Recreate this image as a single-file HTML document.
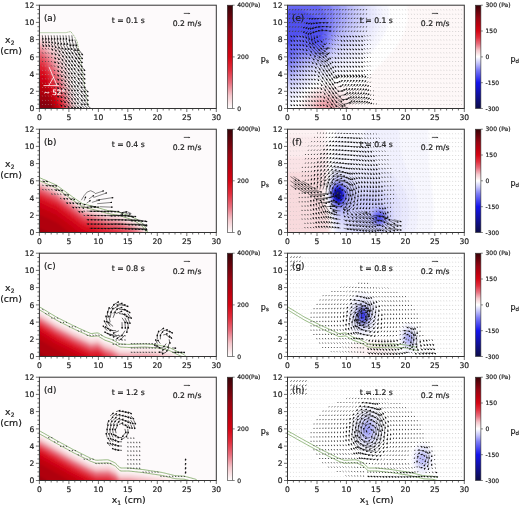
<!DOCTYPE html>
<html><head><meta charset="utf-8"><style>
html,body{margin:0;padding:0;background:#fff;}
svg{display:block;filter:blur(0.35px)}
text{font-family:'DejaVu Sans','Liberation Sans',sans-serif;fill:#1a1a1a;stroke:#1a1a1a;stroke-width:0.2px}
.tk{font-size:7.6px}
.pt{font-size:7.7px}
.cb{font-size:6px}
.al{font-size:9.4px}
.sub{font-size:6px}
.lt{font-size:8.8px}
.cl{font-size:8px}
.sub2{font-size:5.5px}
.wt{font-size:7.3px;fill:#fff;stroke:#fff;stroke-width:0.15px}
</style></head><body>
<svg width="520" height="508" viewBox="0 0 520 508">
<defs><linearGradient id="cbs" x1="0" y1="1" x2="0" y2="0"><stop offset="0" stop-color="#ffffff"/><stop offset="0.125" stop-color="#f5c8cd"/><stop offset="0.25" stop-color="#e86e7d"/><stop offset="0.375" stop-color="#e12d3c"/><stop offset="0.5" stop-color="#d40514"/><stop offset="0.625" stop-color="#b9000f"/><stop offset="0.75" stop-color="#960512"/><stop offset="0.875" stop-color="#69030c"/><stop offset="1" stop-color="#370408"/></linearGradient>
<linearGradient id="cbd" x1="0" y1="1" x2="0" y2="0"><stop offset="0" stop-color="#0c0c46"/><stop offset="0.25" stop-color="#1414eb"/><stop offset="0.375" stop-color="#7d7df5"/><stop offset="0.4375" stop-color="#c3c3fa"/><stop offset="0.5" stop-color="#ffffff"/><stop offset="0.5625" stop-color="#f5c8cd"/><stop offset="0.625" stop-color="#e86e7d"/><stop offset="0.6875" stop-color="#e12d3c"/><stop offset="0.75" stop-color="#d40514"/><stop offset="0.8125" stop-color="#b9000f"/><stop offset="0.875" stop-color="#960512"/><stop offset="0.9375" stop-color="#69030c"/><stop offset="1" stop-color="#370408"/></linearGradient>
<filter id="bl" x="-5%" y="-5%" width="110%" height="110%"><feGaussianBlur stdDeviation="1.3"/></filter>
<clipPath id="c00"><rect x="39.4" y="5.2" width="176.9" height="103.3"/></clipPath>
<clipPath id="c10"><rect x="287.5" y="5.2" width="176.8" height="103.3"/></clipPath>
<clipPath id="c01"><rect x="39.4" y="129.2" width="176.9" height="103.3"/></clipPath>
<clipPath id="c11"><rect x="287.5" y="129.2" width="176.8" height="103.3"/></clipPath>
<clipPath id="c02"><rect x="39.4" y="253.2" width="176.9" height="103.3"/></clipPath>
<clipPath id="c12"><rect x="287.5" y="253.2" width="176.8" height="103.3"/></clipPath>
<clipPath id="c03"><rect x="39.4" y="377.2" width="176.9" height="103.3"/></clipPath>
<clipPath id="c13"><rect x="287.5" y="377.2" width="176.8" height="103.3"/></clipPath></defs>
<g clip-path="url(#c00)"><rect x="39.4" y="5.2" width="176.9" height="103.3" fill="#fdfafb"/><g filter="url(#bl)"><path d="M30.6 121.4 78.9 121.4 78.9 108.5 75.3 91.7 69.7 62 67.2 51.7 65.1 45.5 63 41.4 58.9 38 56.2 36.6 52.7 35.4 42.9 33.9 30.6 33.7 30.6 121.4Z" fill="#fdf4f5" fill-rule="evenodd"/><path d="M30.6 121.4 77.3 121.4 77.3 108.5 68 67.2 65.2 56.9 63.3 52 59.7 45.6 56 41.4 49.1 38 39.4 35.7 30.6 35.7 30.6 121.4Z" fill="#fbe8ea" fill-rule="evenodd"/><path d="M30.6 121.4 75.7 121.4 75.7 108.5 66.4 71.1 61.7 56.9 57.3 49.1 52.7 44 48.2 41 39.4 38.1 30.6 38.1 30.6 121.4Z" fill="#f8dade" fill-rule="evenodd"/><path d="M30.6 121.4 74.2 121.4 74.2 108.5 65.9 77.5 63.2 68.5 60.2 60.7 56.2 53.3 51.7 47.8 48.8 45.2 45.6 43.1 39.4 40.4 30.6 40.4 30.6 121.4Z" fill="#f6cbd0" fill-rule="evenodd"/><path d="M30.6 121.4 72.6 121.4 72.6 108.5 64.4 80.1 59.4 65.9 55.3 57.7 50.9 51.7 45.6 46.9 39.4 43.2 30.6 43.2 30.6 121.4Z" fill="#f2b2b9" fill-rule="evenodd"/><path d="M30.6 121.4 71.1 121.4 71.1 108.5 63.3 82.9 58.5 69.8 54.4 61.5 50.5 55.6 44.7 49.7 39.4 46.3 30.6 46.3 30.6 121.4Z" fill="#ed929d" fill-rule="evenodd"/><path d="M30.6 121.4 69.2 121.4 69.2 108.5 62 86.5 58.7 77.5 54.4 68 50.2 60.7 45.6 55 40.3 50.6 30.6 50.6 30.6 121.4Z" fill="#e86e7d" fill-rule="evenodd"/><path d="M30.6 121.4 67.3 121.4 67.3 108.5 58.3 82.7 53.7 72.3 50 65.7 45.5 59.4 41.2 55.1 30.6 55.1 30.6 121.4Z" fill="#e55463" fill-rule="evenodd"/><path d="M30.6 121.4 65.6 121.4 65.6 108.5 58.5 89.1 54.4 79.3 50.2 71.1 46.1 64.6 42.1 59.7 30.6 59.7 30.6 121.4Z" fill="#e23a49" fill-rule="evenodd"/><path d="M30.6 121.4 63.9 121.4 63.9 108.5 58.6 94.3 53.1 81.4 48.2 72.2 42.9 64.4 30.6 64.3 30.6 121.4Z" fill="#de2332" fill-rule="evenodd"/><path d="M30.6 121.4 61.9 121.4 61.9 108.5 52.2 85.3 48.2 77.5 43.8 70.4 30.6 70.2 30.6 121.4Z" fill="#d70f1e" fill-rule="evenodd"/><path d="M30.6 121.4 59.9 121.4 59.9 108.5 51 87.8 44.7 76.3 30.6 76.2 30.6 121.4Z" fill="#cd0413" fill-rule="evenodd"/><path d="M30.6 121.4 58 121.4 58 108.5 51.8 94.3 45.6 82.3 30.6 82.2 30.6 121.4Z" fill="#c00110" fill-rule="evenodd"/><path d="M30.6 121.4 56.2 121.4 56.2 108.5 50.9 96.9 46.5 88.4 30.6 88.4 30.6 121.4Z" fill="#b00110" fill-rule="evenodd"/><path d="M30.6 121.4 54.4 121.4 54.4 108.5 48.9 96.9 47.4 94.6 30.6 94.6 30.6 121.4Z" fill="#9f0411" fill-rule="evenodd"/><path d="M30.6 121.4 52.6 121.4 52.6 108.5 49.1 101.4 48.2 100.9 30.6 100.9 30.6 121.4Z" fill="#880410" fill-rule="evenodd"/></g>
<path d="M39.4 32.7 65.9 32.7 70.7 31.5 73.6 35.3 77.1 41.4 80.1 56.9 82.7 74.9 85.4 91.3 88.3 106.8" stroke="#6a9a50" stroke-width="0.7" fill="none" stroke-dasharray="1.2 0.8"/>
<path d="M42.3 43.9l1.3 2.7M42.3 39.6l1.1 3.5M42.3 35.3l.6 4.3M45.3 43.9l1.3 2.7M45.3 39.6l1.1 3.5M45.3 35.3l.6 4.3M48.2 43.9l1.3 2.7M48.2 39.6l1.1 3.5M48.2 35.3l.6 4.3M51.2 52.5l1.3 1.8M51.2 48.2l1.6 2.2M51.2 43.9l1.6 3.2M51.2 39.6l1.2 3.8M51.2 35.3l.6 4.3M54.1 61.2l1.4 1.8M54.1 56.9l1.7 2.2M54.1 52.5l2 2.7M54.1 48.2l2.2 3.1M54.1 43.9l1.9 3.9M54.1 39.6l1.3 4.2M54.1 35.3l.6 4.3M57.1 95.6l1.5 1.6M57.1 91.3l1.5 1.7M57.1 87l1.6 1.8M57.1 82.7l1.6 1.9M57.1 78.4l1.7 2M57.1 74.1l1.7 2.1M57.1 69.8l1.7 2.2M57.1 65.5l1.8 2.2M57.1 61.2l2 2.6M57.1 56.9l2.3 3.1M57.1 52.5l2.6 3.5M57.1 48.2l2.9 4M57.1 43.9l2.2 4.5M57.1 39.6l1.4 4.6M57.1 35.3l.6 4.3M60 104.2l2 2.1M60 99.9l2.1 2.2M60 95.6l2.1 2.3M60 91.3l2.2 2.4M60 87l2.2 2.5M60 82.7l2.2 2.6M60 78.4l2.3 2.7M60 74.1l2.3 2.8M60 69.8l2.4 2.9M60 65.5l2.4 3M60 61.2l2.7 3.5M60 56.9l2.9 3.9M60 52.5l3.2 4.4M60 48.2l3.5 4.8M60 43.9l2.6 5.2M60 39.6l1.5 4.9M60 35.3l.6 4.3M63 104.2l2.6 2.7M63 99.9l2.7 2.9M63 95.6l2.7 3M63 91.3l2.8 3.1M63 87l2.8 3.2M63 82.7l2.9 3.3M63 78.4l2.9 3.4M63 74.1l2.9 3.6M63 69.8l3 3.7M63 65.5l3 3.8M63 61.2l3.3 4.3M63 56.9l3.6 4.7M63 52.5l3.9 5.2M63 48.2l4.1 5.7M63 43.9l2.8 5.7M63 39.6l1.6 5.1M63 35.3l.6 4.3M65.9 104.2l3.2 3.4M65.9 99.9l3.3 3.5M65.9 95.6l3.3 3.6M65.9 91.3l3.4 3.8M65.9 87l3.4 3.9M65.9 82.7l3.5 4M65.9 78.4l3.5 4.1M65.9 74.1l3.4 4.2M65.9 69.8l3.4 4.2M65.9 65.5l3.3 4.2M65.9 61.2l3.6 4.6M65.9 56.9l3.7 4.9M65.9 52.5l3.9 5.3M65.9 48.2l4.1 5.7M65.9 43.9l2.8 5.7M65.9 39.6l1.6 5.1M65.9 35.3l.6 4.3M68.9 104.2l3.7 3.9M68.9 99.9l3.7 4M68.9 95.6l3.6 4M68.9 91.3l3.6 4M68.9 87l3.6 4.1M68.9 82.7l3.5 4.1M68.9 78.4l3.5 4.1M68.9 74.1l3.4 4.2M68.9 69.8l3.4 4.2M68.9 65.5l3.3 4.2M68.9 61.2l3.6 4.6M68.9 56.9l3.7 4.9M68.9 52.5l3.9 5.3M68.9 48.2l4.1 5.7M68.9 43.9l2.8 5.7M68.9 39.6l2 6.5M68.9 35.3l.8 5.7M71.8 104.2l3.7 3.9M71.8 99.9l3.7 4M71.8 95.6l3.6 4M71.8 91.3l3.6 4M71.8 87l3.6 4.1M71.8 82.7l3.5 4.1M71.8 78.4l3.5 4.1M71.8 74.1l3.4 4.2M71.8 69.8l3.4 4.2M71.8 65.5l3.3 4.2M71.8 61.2l3.6 4.6M71.8 56.9l3.7 4.9M71.8 52.5l4.8 6.5M71.8 48.2l5 6.9M71.8 43.9l3.5 7.1M71.8 39.6l2 6.5M71.8 35.3l.8 5.7M74.8 104.2l3.7 3.9M74.8 99.9l3.7 4M74.8 95.6l3.6 4M74.8 91.3l3.6 4M74.8 87l3.6 4.1M74.8 82.7l3.5 4.1M74.8 78.4l4.4 5.3M74.8 74.1l4.4 5.3M74.8 69.8l4.3 5.4M74.8 65.5l4.3 5.4M74.8 61.2l4.5 5.8M74.8 56.9l4.7 6.1M74.8 52.5l4.8 6.5M74.8 48.2l5 6.9M74.8 43.9l3.5 7.1M74.8 39.6l2 6.5M77.7 104.2l3.7 3.9M77.7 99.9l4.7 5.1M77.7 95.6l4.6 5.1M77.7 91.3l4.6 5.1M77.7 87l4.5 5.2M77.7 82.7l4.5 5.2M77.7 78.4l4.4 5.3M77.7 74.1l4.4 5.3M77.7 69.8l4.3 5.4M77.7 65.5l4.3 5.4M77.7 61.2l4.5 5.8M77.7 56.9l4.7 6.1M77.7 52.5l4.8 6.5M77.7 48.2l5 6.9M80.7 104.2l4.7 5M80.7 99.9l4.7 5.1M80.7 95.6l4.6 5.1M80.7 91.3l4.6 5.1M80.7 87l4.5 5.2M80.7 82.7l4.5 5.2M80.7 78.4l4.4 5.3M80.7 74.1l4.4 5.3M80.7 69.8l4.3 5.4M80.7 65.5l4.3 5.4M83.6 104.2l4.7 5M83.6 99.9l4.7 5.1M83.6 95.6l4.6 5.1M83.6 91.3l4.6 5.1M83.6 87l4.5 5.2M86.6 104.2l4.7 5" stroke="#111" stroke-width="0.62" fill="none"/>
<path d="M43 45.3l.7 1.3M43 41.7l.4 1.4M42.7 38.1l.2 1.5M46 45.3l.7 1.3M45.9 41.7l.4 1.4M45.7 38.1l.2 1.5M48.9 45.3l.7 1.3M48.9 41.7l.4 1.4M48.6 38.1l.2 1.5M51.7 53.3l.8 1.1M51.9 49.2l.9 1.2M52.1 45.8l.7 1.3M51.9 42l.4 1.4M51.6 38.1l.2 1.5M54.7 61.9l.9 1.1M54.9 57.9l.9 1.2M55.2 54l.9 1.2M55.5 50.1l.9 1.2M55.4 46.5l.7 1.3M55 42.4l.4 1.4M54.5 38.1l.2 1.5M57.7 96.2l.9 1M57.7 92l.9 1M57.7 87.7l1 1.1M57.7 83.4l1 1.1M57.8 79.2l1 1.1M57.8 75l1 1.2M57.9 70.7l.9 1.2M57.9 66.5l.9 1.2M58.2 62.6l.9 1.2M58.5 58.7l.9 1.2M58.8 54.8l.9 1.2M59.1 51l.9 1.2M58.7 47.1l.7 1.3M58 42.8l.4 1.4M57.5 38.1l.2 1.5M61 105.2l1 1.1M61.1 101l1 1.1M61.1 96.8l1 1.1M61.2 92.6l1 1.1M61.2 88.4l1 1.1M61.3 84.1l1 1.1M61.4 79.9l1 1.1M61.4 75.7l1 1.2M61.5 71.5l.9 1.2M61.5 67.3l.9 1.2M61.8 63.4l.9 1.2M62.1 59.5l.9 1.2M62.4 55.7l.9 1.2M62.7 51.9l.9 1.2M61.9 47.8l.7 1.3M61.1 43.1l.4 1.4M60.4 38.1l.2 1.5M64.6 105.9l1 1.1M64.6 101.7l1 1.1M64.7 97.5l1 1.1M64.8 93.3l1 1.1M64.8 89.1l1 1.1M64.9 84.9l1 1.1M64.9 80.7l1 1.1M65 76.5l1 1.2M65 72.3l.9 1.2M65.1 68.1l.9 1.2M65.4 64.2l.9 1.2M65.7 60.4l.9 1.2M66 56.5l.9 1.2M66.2 52.7l.9 1.2M65.1 48.3l.7 1.3M64.1 43.3l.4 1.4M63.4 38.1l.2 1.5M68.1 106.5l1 1.1M68.2 102.3l1 1.1M68.2 98.1l1 1.1M68.3 93.9l1 1.1M68.4 89.8l1 1.1M68.4 85.6l1 1.1M68.4 81.4l1 1.1M68.4 77.1l1 1.2M68.4 72.8l.9 1.2M68.4 68.5l.9 1.2M68.6 64.6l.9 1.2M68.8 60.6l.9 1.2M69 56.6l.9 1.2M69.2 52.7l.9 1.2M68.1 48.3l.7 1.3M67.1 43.3l.4 1.4M66.3 38.1l.2 1.5M71.6 107l1 1.1M71.5 102.8l1 1.1M71.5 98.5l1 1.1M71.5 94.2l1 1.1M71.5 89.9l1 1.1M71.4 85.6l1 1.1M71.4 81.4l1 1.1M71.4 77.1l1 1.2M71.3 72.8l.9 1.2M71.3 68.5l.9 1.2M71.5 64.6l.9 1.2M71.7 60.6l.9 1.2M71.9 56.6l.9 1.2M72.1 52.7l.9 1.2M71 48.3l.7 1.3M70.4 44.7l.4 1.4M69.5 39.6l.2 1.5M74.5 107l1 1.1M74.5 102.8l1 1.1M74.5 98.5l1 1.1M74.4 94.2l1 1.1M74.4 89.9l1 1.1M74.4 85.6l1 1.1M74.3 81.4l1 1.1M74.3 77.1l1 1.2M74.3 72.8l.9 1.2M74.2 68.5l.9 1.2M74.5 64.6l.9 1.2M74.7 60.6l.9 1.2M75.8 57.8l.9 1.2M76 53.9l.9 1.2M74.7 49.6l.7 1.3M73.4 44.7l.4 1.4M72.4 39.6l.2 1.5M77.5 107l1 1.1M77.4 102.8l1 1.1M77.4 98.5l1 1.1M77.4 94.2l1 1.1M77.3 89.9l1 1.1M77.3 85.6l1 1.1M78.3 82.5l1 1.1M78.2 78.2l1 1.2M78.2 74l.9 1.2M78.1 69.7l.9 1.2M78.3 65.7l.9 1.2M78.5 61.8l.9 1.2M78.7 57.8l.9 1.2M78.9 53.9l.9 1.2M77.6 49.6l.7 1.3M76.3 44.7l.4 1.4M80.4 107l1 1.1M81.4 103.8l1 1.1M81.4 99.6l1 1.1M81.3 95.3l1 1.1M81.3 91l1 1.1M81.2 86.8l1 1.1M81.2 82.5l1 1.1M81.2 78.2l1 1.2M81.1 74l.9 1.2M81.1 69.7l.9 1.2M81.3 65.7l.9 1.2M81.5 61.8l.9 1.2M81.7 57.8l.9 1.2M81.8 53.9l.9 1.2M84.4 108.1l1 1.1M84.4 103.8l1 1.1M84.3 99.6l1 1.1M84.3 95.3l1 1.1M84.2 91l1 1.1M84.2 86.8l1 1.1M84.1 82.5l1 1.1M84.1 78.2l1 1.2M84.1 74l.9 1.2M84 69.7l.9 1.2M87.3 108.1l1 1.1M87.3 103.8l1 1.1M87.3 99.6l1 1.1M87.2 95.3l1 1.1M87.2 91l1 1.1M90.3 108.1l1 1.1" stroke="#111" stroke-width="1.4" fill="none"/>
<path d="M42.3 104.2l.3 .8M42.3 99.9l.3 .8M42.3 95.6l.3 .8M42.3 91.3l.3 .8M42.3 87l.3 .9M42.3 82.7l.3 .9M42.3 78.4l.3 .9M42.3 74.1l.3 .9M42.3 69.8l.3 .9M42.3 65.5l.3 .9M45.3 104.2l.3 .8M45.3 99.9l.3 .8M45.3 95.6l.3 .8M45.3 91.3l.3 .8M45.3 87l.3 .9M45.3 82.7l.3 .9M45.3 78.4l.3 .9M45.3 74.1l.3 .9M45.3 69.8l.3 .9M45.3 65.5l.3 .9M48.2 104.2l.3 .8M48.2 99.9l.3 .8M48.2 95.6l.3 .8M48.2 91.3l.3 .8M48.2 87l.3 .9M48.2 82.7l.3 .9M48.2 78.4l.3 .9M48.2 74.1l.3 .9M48.2 69.8l.3 .9M48.2 65.5l.3 .9M51.2 104.2l.3 .8M51.2 99.9l.3 .8M51.2 95.6l.3 .9M51.2 91.3l.3 .9M51.2 87l.3 .9M51.2 82.7l.3 .9M51.2 78.4l.4 1M51.2 74.1l.4 1M51.2 69.8l.4 1" stroke="#aaa" stroke-width="0.6" fill="none"/>
<path d="M42.3 61.2l.6 .8M42.3 56.9l.7 1M42.3 52.5l.8 1.1M42.3 48.2l.9 1.3M45.3 61.2l.6 .8M45.3 56.9l.7 1M45.3 52.5l.8 1.1M45.3 48.2l.9 1.3M48.2 61.2l.6 .8M48.2 56.9l.7 1M48.2 52.5l.8 1.1M48.2 48.2l.9 1.3M51.2 65.5l.6 .8M51.2 61.2l.8 1M51.2 56.9l.9 1.2M54.1 104.2l.8 .9M54.1 99.9l.8 .9M54.1 95.6l.9 .9M54.1 91.3l.9 1M54.1 87l.9 1M54.1 82.7l.9 1M54.1 78.4l.9 1.1M54.1 74.1l.9 1.1M54.1 69.8l.9 1.2M54.1 65.5l.9 1.2M57.1 104.2l1.1 1.2M57.1 99.9l1.1 1.2" stroke="#444" stroke-width="1" fill="none"/>
<path d="M43.5 85.6H58.9M49.1 67.1L56.9 85.2M53.8 76.9L48.7 85.6" stroke="#fff" stroke-width="0.8" fill="none"/>
<text x="43.8" y="94.8" class="wt">~ 52°</text>
</g>
<path d="M39.4 108.5v3.5M45.3 108.5v2M51.2 108.5v2M57.1 108.5v2M63 108.5v2M68.9 108.5v3.5M74.8 108.5v2M80.7 108.5v2M86.6 108.5v2M92.5 108.5v2M98.4 108.5v3.5M104.3 108.5v2M110.2 108.5v2M116.1 108.5v2M122 108.5v2M127.8 108.5v3.5M133.7 108.5v2M139.6 108.5v2M145.5 108.5v2M151.4 108.5v2M157.3 108.5v3.5M163.2 108.5v2M169.1 108.5v2M175 108.5v2M180.9 108.5v2M186.8 108.5v3.5M192.7 108.5v2M198.6 108.5v2M204.5 108.5v2M210.4 108.5v2M216.3 108.5v3.5M39.4 108.5h-3.5M39.4 104.2h-2M39.4 99.9h-2M39.4 95.6h-2M39.4 91.3h-3.5M39.4 87h-2M39.4 82.7h-2M39.4 78.4h-2M39.4 74.1h-3.5M39.4 69.8h-2M39.4 65.5h-2M39.4 61.2h-2M39.4 56.9h-3.5M39.4 52.5h-2M39.4 48.2h-2M39.4 43.9h-2M39.4 39.6h-3.5M39.4 35.3h-2M39.4 31h-2M39.4 26.7h-2M39.4 22.4h-3.5M39.4 18.1h-2M39.4 13.8h-2M39.4 9.5h-2M39.4 5.2h-3.5" stroke="#333" stroke-width="0.7" fill="none"/>
<rect x="39.4" y="5.2" width="176.9" height="103.3" fill="none" stroke="#333" stroke-width="1"/>
<text x="39.4" y="119.7" text-anchor="middle" class="tk">0</text>
<text x="68.9" y="119.7" text-anchor="middle" class="tk">5</text>
<text x="98.4" y="119.7" text-anchor="middle" class="tk">10</text>
<text x="127.8" y="119.7" text-anchor="middle" class="tk">15</text>
<text x="157.3" y="119.7" text-anchor="middle" class="tk">20</text>
<text x="186.8" y="119.7" text-anchor="middle" class="tk">25</text>
<text x="216.3" y="119.7" text-anchor="middle" class="tk">30</text>
<text x="34.4" y="111.2" text-anchor="end" class="tk">0</text>
<text x="34.4" y="94" text-anchor="end" class="tk">2</text>
<text x="34.4" y="76.8" text-anchor="end" class="tk">4</text>
<text x="34.4" y="59.6" text-anchor="end" class="tk">6</text>
<text x="34.4" y="42.3" text-anchor="end" class="tk">8</text>
<text x="34.4" y="25.1" text-anchor="end" class="tk">10</text>
<text x="34.4" y="7.9" text-anchor="end" class="tk">12</text>
<text x="43.9" y="20.8" class="lt">(a)</text>
<text x="111.7" y="22.8" class="pt">t = 0.1 s</text>
<text x="172.7" y="25.5" class="pt">0.2 m/s</text>
<path d="M183.8 13.4h5.5" stroke="#222" stroke-width="0.75"/><path d="M190.3 13.4l-1.6 -.75v1.5z" fill="#222"/>
<g clip-path="url(#c10)"><g filter="url(#bl)"><path d="M298.8 120.1 299.6 121.4 473.1 121.4 473.1 -7.7 403 -7.7 405.5 -1.3 407.3 6.5 407.8 14.2 407.2 22 405.2 29.7 402.6 36.2 398.3 43.9 393.5 50.4 387.4 57.3 373.9 71.1 369.6 76.2 363 85.3 360 88 357.3 88.8 354.7 88.7 339.7 84.5 334.4 83.7 329 83.5 323.7 84.1 319.3 85.2 314.9 87.1 310.5 89.9 306.8 93 303.3 96.9 300.6 100.8 298.7 104.6 297.5 108.5 297 112.4 297.4 116.2 298.8 120.1Z" fill="#fef8f8" fill-rule="evenodd"/><path d="M304.1 120.1 305.2 121.4 348.9 121.4 352.5 117.5 355.3 112.4 356.2 107.2 355.3 102 353.4 98.2 350.1 94.3 345.8 91 340.5 88.3 335.2 86.7 329 85.9 323.7 86.3 318.4 87.6 313.1 90.2 308.7 93.6 304.7 98.2 302.4 102 301 105.9 300.5 111.1 301.8 116.2 304.1 120.1Z" fill="#fdf2f3" fill-rule="evenodd"/><path d="M307.9 120.1 309.4 121.4 343.4 121.4 346.3 118.8 348.4 116.2 350.9 111.1 351.4 105.9 350.1 100.8 347.7 96.9 345 94.1 340.5 91.1 336.1 89.3 331.7 88.2 326.4 87.9 321.1 88.7 316.7 90.2 312.3 92.8 308.7 95.9 305.9 99.5 303.6 104.6 303 108.5 303.4 112.4 304.9 116.2 307.9 120.1Z" fill="#fbebed" fill-rule="evenodd"/><path d="M312.1 120.1 314.1 121.4 338.1 121.4 338.8 121.1 341.4 119.2 344.1 116.6 346.1 113.7 347.2 111.1 347.8 107.2 347.6 104.6 346.9 102 345.6 99.5 343.2 96.4 339.7 93.6 336.1 91.8 331.7 90.5 327.3 90 322.9 90.3 318.4 91.6 314.9 93.3 311.4 96 308.3 99.5 306.4 103.3 305.6 107.2 305.9 111.1 306.9 114.1 309.2 117.5 312.1 120.1Z" fill="#fae3e6" fill-rule="evenodd"/><path d="M317.2 120.1 321.1 121.4 330.9 121.4 336.1 119.5 339.7 117.1 341.7 115 343.3 112.4 344.2 109.8 344.6 107.2 344.3 104.6 343.5 102 341 98.2 338 95.6 335.2 94 331.7 92.8 327.3 92.2 322.9 92.5 319.3 93.5 315.8 95.2 313.1 97.2 310.5 100.3 308.9 103.3 308.3 105.9 308.4 109.8 309.6 113.3 311.4 115.9 314 118.3 317.2 120.1Z" fill="#f8dadd" fill-rule="evenodd"/><path d="M321.1 118.8 326.4 119.5 330.8 118.8 335.2 116.9 338.9 113.7 341 109.8 341.4 107.2 341.1 104.6 339.4 100.8 336.1 97.5 333.5 96 329.9 94.9 327.3 94.5 323.7 94.7 320.2 95.6 317.6 96.9 314.9 98.9 313.2 100.8 311.8 103.3 311.1 105.9 311 108.5 311.7 111.1 313.2 113.7 315.8 116.2 318.4 117.8 321.1 118.8Z" fill="#f6cfd3" fill-rule="evenodd"/><path d="M322.1 116.2 326.4 116.7 329.9 116.2 333.5 114.6 336.1 112.2 337.5 109.8 338 105.9 336.5 102 333.9 99.5 331.7 98.2 329 97.4 326.4 97.1 323.7 97.3 319.3 98.9 315.8 102 314.2 105.9 314.2 108.5 314.9 110.6 316 112.4 317.6 113.9 319.3 115.1 322.1 116.2Z" fill="#f4bec4" fill-rule="evenodd"/><path d="M321.5 112.4 323.7 113.2 326.4 113.4 329 112.9 331.7 111.4 333.1 109.8 334 107.2 333.5 104.6 332.7 103.3 329.9 101.2 327.3 100.4 323.7 100.6 320.7 102 318.5 104.6 318 107.2 318.8 109.8 319.8 111.1 321.5 112.4Z" fill="#f0a8b0" fill-rule="evenodd"/><path d="M279 111.1 284 110.9 288.4 108.7 291.9 105.4 304.3 91.5 309.6 86.9 314.9 83.3 319.3 81.2 324.6 79.4 342.3 75.8 345.8 74.5 349.4 72.4 353.8 69.1 359.1 64.4 372.8 50.4 379 42.6 383.1 36.2 386.2 29.7 388.4 22 389.2 14.2 388.6 6.5 386.9 0 383.6 -7.7 278.7 -7.7 278.7 111 279 111.1Z" fill="#f7f7fe" fill-rule="evenodd"/><path d="M278.7 102 278.7 102.9 284 103.3 286.6 102.7 290.2 101.1 294.6 97.8 306.9 86.3 313.1 81.4 319.3 77.8 336.1 71.3 345.8 66.4 351.1 62.8 356.5 58.6 366.2 49 372.4 41.4 376.5 34.9 379.9 27.2 381.6 20.7 382.2 14.2 381.5 6.5 379.7 0 376.2 -7.7 278.7 -7.7 278.7 102Z" fill="#f1f1fe" fill-rule="evenodd"/><path d="M279.8 98.2 283.1 98.6 286.6 98.2 289.3 97.4 292.8 95.5 298.1 91.5 313.1 78.1 318.3 74.9 332.6 68.1 346.7 59.8 355.6 53.1 363.3 45.2 368.3 38.8 372.1 32.3 374.8 25.9 376.3 19.4 376.6 11.7 375.7 5.2 373.7 -1.3 370.5 -7.7 278.7 -7.7 278.7 97.9 279.8 98.2Z" fill="#e9e9fd" fill-rule="evenodd"/><path d="M278.7 93 281.3 93.9 285.7 94 289.3 93.2 293.7 91.1 299.9 86.3 312.3 74.7 315.9 72.3 327.3 66.9 333.5 63 350.3 51.1 354.7 47.3 359.2 42.6 363.5 36.9 366.9 31 369.5 24.6 370.9 18.1 371.1 11.7 370.1 5.2 367.9 -1.3 364.6 -7.7 278.7 -7.7 278.7 93Z" fill="#e1e1fc" fill-rule="evenodd"/><path d="M279.6 89.1 283.1 89.8 286.6 89.7 291 88.4 294.6 86.5 299.4 82.7 307.8 73.9 311.3 71.1 314.9 69 324.6 64.8 331.7 60.1 349.4 45.4 355.9 38.8 359.6 33.6 362.9 27.2 364.8 20.7 365.5 15.5 365.2 9.1 364.1 3.9 361.5 -2.5 358.4 -7.7 278.7 -7.7 278.7 88.8 279.6 89.1Z" fill="#d6d6fc" fill-rule="evenodd"/><path d="M281.1 85.3 284 85.7 286.6 85.6 290.2 84.6 292.8 83.4 298.1 79.4 306.1 70.9 309.6 68 313.1 66.1 322 62.9 327.3 59.8 332.3 55.6 348.5 39.3 352.3 34.9 355.7 29.7 358 24.6 359.4 19.4 359.9 12.9 359.3 7.8 357.9 2.6 355.4 -2.5 352 -7.7 278.7 -7.7 278.7 84.5 281.1 85.3Z" fill="#cacafb" fill-rule="evenodd"/><path d="M282.9 81.4 287.5 81.2 291.9 79.5 296.3 76.3 304.3 67.8 307.8 64.9 311.2 63.3 321.1 60.3 326.4 57.2 332 51.7 348.5 31 350.8 27.2 352.9 22 353.9 16.8 354 11.7 353.1 6.5 351.2 1.3 348.5 -3.2 344.8 -7.7 278.7 -7.7 278.7 80.1 282.9 81.4Z" fill="#bcbcf9" fill-rule="evenodd"/><path d="M280.2 76.2 283.1 77.1 285.7 77.2 288.4 76.6 291 75.5 295.5 72.3 302.5 64.6 305.2 62.3 308.7 60.5 317.6 58.7 322 57.1 324.6 55.4 327.3 53.2 331.6 47.8 344.9 25.9 347 20.7 347.9 15.5 347.4 9.1 345.2 2.6 341.8 -2.5 336.6 -7.7 278.7 -7.7 278.7 75.5 280.2 76.2Z" fill="#aaaaf8" fill-rule="evenodd"/><path d="M282.7 72.3 286.6 72.4 291 70.7 294.6 67.9 301.6 60.2 305.2 57.7 308.7 56.7 317.6 55.9 322 54.2 326.4 50.6 330.2 45.2 333.3 38.8 339.6 23.3 341 18.1 341.3 12.9 340.7 9.1 339.8 6.5 337 1.3 332.2 -3.8 326.7 -7.7 278.7 -7.7 278.7 70.5 282.7 72.3Z" fill="#9595f7" fill-rule="evenodd"/><path d="M280.9 65.9 284.8 67 288.4 66.3 292.8 63.3 299.9 55.6 302.5 53.5 306.1 52.5 314.9 53.1 319.3 52.3 322 50.9 323.7 49.5 327.1 45.2 330 38.8 332 31 333.7 20.7 333.8 14.2 332.6 9.1 330.6 5.2 327.3 1.1 322 -2.9 316.7 -5.6 309.8 -7.7 287.2 -7.7 278.7 -4.8 278.7 64.3 280.9 65.9Z" fill="#7d7df5" fill-rule="evenodd"/><path d="M283.8 59.4 286.6 59.5 289.5 58.1 292.4 55.6 298.1 49 301.6 46.6 304.3 46.4 313.1 49.2 317.6 49.2 320.2 48.2 322 46.9 325.2 42.6 327.1 37.5 328 31 327.9 24.6 326.8 18.1 325 12.9 322.7 9.1 319.3 5.4 314.9 2.3 310.5 .3 306.1 -1 301.6 -1.7 296.3 -1.9 291 -1.3 286.6 -.2 282.2 1.7 278.7 3.9 278.7 55.5 281.3 58.2 283.8 59.4Z" fill="#6868f3" fill-rule="evenodd"/><path d="M284.6 46.5 286.6 46.8 289.3 45.4 297.2 36.4 299 35.1 300.8 34.5 302.5 34.7 304.3 35.8 309.5 41.4 313 43.9 314.9 44.6 316.7 44.6 319.3 43.7 321.1 42 322.3 40.1 323.2 37.5 323.7 33.6 322.9 27.2 320.2 21.8 317.6 18.8 314 16.2 305.4 11.7 301.6 10.1 297.2 9.2 293.7 9.2 290.2 9.9 286.5 11.7 283.4 14.2 280.9 18.1 279.6 22 279 27.2 279.3 33.6 280.4 39.8 282.2 44.1 284.6 46.5Z" fill="#5151f1" fill-rule="evenodd"/></g>
<path d="M290.4 104.2l1.3 1.8M290.4 99.9l1.3 1.8M290.4 95.6l1.3 1.8M290.4 91.3l1.3 1.8M290.4 87l1.3 1.8M290.4 82.7l1.3 1.8M290.4 78.4l1.3 1.8M290.4 74.1l1.3 1.8M290.4 69.8l1.3 1.8M290.4 65.5l1.3 1.8M290.4 61.2l1.3 1.8M290.4 56.9l1.3 1.8M290.4 52.5l1.3 1.8M290.4 48.2l1.3 1.8M290.4 43.9l1.3 1.8M290.4 39.6l1.3 1.8M290.4 35.3l1.3 1.8M293.4 104.2l1.3 1.8M293.4 99.9l1.3 1.8M293.4 95.6l1.3 1.8M293.4 91.3l1.3 1.8M293.4 87l1.3 1.8M293.4 82.7l1.3 1.8M293.4 78.4l1.3 1.8M293.4 74.1l1.3 1.8M293.4 69.8l1.3 1.8M293.4 65.5l1.3 1.8M293.4 61.2l1.3 1.8M293.4 56.9l1.3 1.8M293.4 52.5l1.3 1.8M293.4 48.2l1.3 1.8M293.4 43.9l1.3 1.8M293.4 39.6l1.3 1.8M293.4 35.3l1.3 1.8M296.3 104.2l1.3 1.8M296.3 99.9l1.3 1.8M296.3 95.6l1.3 1.8M296.3 91.3l1.3 1.8M296.3 87l1.3 1.8M296.3 82.7l1.3 1.8M296.3 78.4l1.3 1.8M296.3 74.1l1.3 1.8M296.3 69.8l1.3 1.8M296.3 65.5l1.3 1.8M296.3 61.2l1.3 1.8M296.3 56.9l1.3 1.8M296.3 52.5l1.3 1.8M296.3 48.2l1.3 1.8M296.3 43.9l1.3 1.8M296.3 39.6l1.3 1.8M296.3 35.3l1.3 1.8M299.3 104.2l1.3 1.8M299.3 99.9l1.3 1.8M299.3 95.6l1.3 1.8M299.3 91.3l1.3 1.8M299.3 87l1.3 1.8M299.3 82.7l1.3 1.8M299.3 78.4l1.3 1.8M299.3 74.1l1.3 1.8M299.3 69.8l1.3 1.8M299.3 65.5l1.3 1.8M299.3 61.2l1.3 1.8M299.3 56.9l1.3 1.8M299.3 52.5l1.3 1.8M299.3 48.2l1.3 1.8M299.3 43.9l1.4 1.9M299.3 39.6l1.3 1.9M299.3 35.3l1.3 1.9M302.2 104.2l1.3 1.8M302.2 99.9l1.3 1.8M302.2 95.6l1.3 1.8M302.2 91.3l1.3 1.8M302.2 87l1.3 1.8M302.2 82.7l1.3 1.8M302.2 78.4l1.3 1.8M302.2 74.1l1.3 1.8M302.2 69.8l1.3 1.8M302.2 65.5l1.3 1.8M302.2 61.2l1.3 1.8M302.2 56.9l1.4 1.8M302.2 52.5l1.4 1.9M302.2 48.2l1.5 2M302.2 43.9l1.5 2.2M302.2 39.6l1.5 2.2M302.2 35.3l1.4 2.2M305.2 104.2l1.3 1.8M305.2 99.9l1.3 1.8M305.2 95.6l1.3 1.8M305.2 91.3l1.3 1.8M305.2 87l1.3 1.8M305.2 82.7l1.3 1.8M305.2 78.4l1.3 1.8M305.2 74.1l1.3 1.8M305.2 69.8l1.3 1.8M305.2 65.5l1.3 1.8M305.2 61.2l1.4 1.8M305.2 56.9l1.5 1.9M305.2 52.5l1.7 2.1M305.2 48.2l2 2.5M305.2 43.9l2 2.9M305.2 39.6l1.8 3.2M305.2 35.3l1.4 3.1M305.2 31l-2 1.6M305.2 26.7l-2 1.2M308.1 104.2l1.3 1.8M308.1 99.9l1.3 1.8M308.1 95.6l1.3 1.8M308.1 91.3l1.3 1.8M308.1 87l1.3 1.8M308.1 82.7l1.3 1.8M308.1 78.4l1.3 1.8M308.1 74.1l1.3 1.8M308.1 69.8l1.3 1.8M308.1 65.5l1.4 1.8M308.1 61.2l1.5 1.8M308.1 56.9l1.8 2M308.1 52.5l2.9 3.1M308.1 48.2l3.6 4.2M308.1 43.9l2.8 4M308.1 39.6l2.2 4.5M308.1 35.3l1.4 4.4M308.1 31l-2.4 2.7M308.1 26.7l-2.4 1.8M308.1 22.4l-2.2 1.1M311.1 104.2l1.3 1.8M311.1 99.9l1.3 1.8M311.1 95.6l1.3 1.8M311.1 91.3l1.3 1.8M311.1 87l1.3 1.8M311.1 82.7l1.3 1.8M311.1 78.4l1.3 1.8M311.1 74.1l1.3 1.8M311.1 69.8l1.3 1.8M311.1 65.5l1.4 1.8M311.1 61.2l2.2 2.5M311.1 56.9l3.2 3.1M311.1 52.5l4.5 4.2M311.1 48.2l5.4 5.6M311.1 43.9l3.4 4.3M311.1 39.6l2.2 4.7M311.1 35.3l1 5.1M311.1 31l-3.1 3.5M311.1 26.7l-3.1 2.5M311.1 22.4l-2.6 1.5M311.1 18.1l-2.1 .9M314 104.2l1.3 1.8M314 99.9l1.3 1.8M314 95.6l1.3 1.8M314 91.3l1.3 1.8M314 87l1.3 1.8M314 82.7l1.3 1.8M314 78.4l1.3 1.8M314 74.1l1.3 1.8M314 69.8l1.8 2.5M314 65.5l2.3 3M314 61.2l3.1 3.5M314 56.9l4.6 4.2M314 52.5l6.2 5.1M314 48.2l6.6 6.1M314 43.9l5.5 6.6M314 39.6l1.8 3.5M314 35.3l.6 3.9M314 31l-3.8 3.1M314 26.7l-4 2.6M314 22.4l-3.2 1.7M314 18.1l-2.4 1M317 104.2l1.3 1.8M317 99.9l1.3 1.8M317 95.6l1.3 1.8M317 91.3l1.3 1.8M317 87l1.3 1.8M317 82.7l1.3 1.8M317 78.4l1.9 2.6M317 74.1l2.2 3.1M317 69.8l2.6 3.7M317 65.5l3.3 4.3M317 61.2l4.3 4.8M317 56.9l5.8 5M317 52.5l7.1 5.1M317 48.2l6.5 5.3M317 43.9l5 5.3M317 39.6l1.5 2.3M317 35.3l.3 2.7M317 31l-4.1 1.9M317 26.7l-4.7 2M317 22.4l-3.7 1.4M317 18.1l-2.6 .9M319.9 104.2l1.3 1.8M319.9 99.9l1.3 1.8M319.9 95.6l1.3 1.8M319.9 91.3l1.3 1.8M319.9 87l1.9 2.6M319.9 82.7l2.3 3.2M319.9 78.4l2.7 3.8M319.9 74.1l3.2 4.5M319.9 69.8l3.7 5.2M319.9 65.5l4.2 5.7M319.9 61.2l4.9 5.7M319.9 56.9l5.9 5M319.9 52.5l6.6 4M319.9 48.2l5.6 3.3M319.9 43.9l3.9 3M319.9 39.6l2.2 2.7M319.9 31l-4.5 .7M319.9 26.7l-5 1M319.9 22.4l-3.8 1M319.9 18.1l-2.6 .8M322.9 104.2l1.3 1.8M322.9 99.9l1.3 1.8M322.9 95.6l1.9 2.7M322.9 91.3l2.3 3.2M322.9 87l2.8 3.9M322.9 82.7l3.4 4.7M322.9 78.4l3.9 5.5M322.9 74.1l4.3 6.1M322.9 69.8l4.5 6.3M322.9 65.5l4.5 6.2M322.9 61.2l4.6 5.5M322.9 56.9l4.8 4.1M322.9 52.5l5 2.3M322.9 48.2l4.4 .9M322.9 43.9l2.7 .6M322.9 31l-4.9 -.5M322.9 26.7l-4.6 .1M322.9 22.4l-3.5 .5M322.9 18.1l-2.4 .7M325.8 104.2l2 2.8M325.8 99.9l2.4 3.3M325.8 95.6l2.9 4.1M325.8 91.3l3.5 4.9M325.8 87l4.1 5.7M325.8 82.7l4.5 6.4M325.8 78.4l4.7 6.7M325.8 74.1l4.6 6.6M325.8 69.8l4.3 6.1M325.8 65.5l3.9 5.3M325.8 61.2l3.4 4.3M325.8 56.9l3.3 2.9M325.8 52.5l3.3 1.3M325.8 48.2l2.9 -.2M325.8 31l-4.3 -1M325.8 26.7l-3.8 -.2M325.8 22.4l-2.8 .4M325.8 18.1l-2.2 .6M328.8 104.2l3 4.2M328.8 99.9l3.6 5.1M328.8 95.6l4.2 6M328.8 91.3l4.7 6.7M328.8 87l4.9 7M328.8 82.7l4.9 6.9M328.8 78.4l4.5 6.4M328.8 74.1l4 5.6M328.8 69.8l3.4 4.7M328.8 65.5l2.8 3.8M328.8 61.2l2.3 3M328.8 56.9l2.1 2.2M328.8 31l-3.2 -.6M328.8 26.7l-2.8 .1M328.8 22.4l-2.3 .5M331.7 104.2l4.4 6.3M331.7 99.9l4.9 7M331.7 95.6l5.2 7.3M331.7 91.3l5.1 7.2M331.7 87l4.7 6.7M331.7 82.7l4.2 5.9M331.7 78.4l3.5 4.9M331.7 74.1l2.9 4M331.7 69.8l2.3 3.2M331.7 65.5l1.9 2.7M331.7 61.2l1.3 1.8M331.7 31l-2.4 .1M331.7 26.7l-2.2 .4M334.6 104.2l9.2 6.7M334.6 99.9l8.4 6.8M334.6 95.6l7.3 6.4M334.6 91.3l5.9 5.8M334.6 87l4.4 5M334.6 82.7l3.6 0M334.6 78.4l3 -.9M334.6 74.1l2 2.7M334.6 69.8l1.3 1.8M334.6 65.5l1.3 1.8M334.6 61.2l1.3 1.8M334.6 56.9l1.3 1.8M337.6 104.2l9.2 6.3M337.6 99.9l7.7 5.6M337.6 95.6l6.2 4.8M337.6 91.3l5.3 -.3M337.6 87l3.9 -1M337.6 82.7l2.6 -1.4M337.6 78.4l1.9 -2.4M337.6 74.1l1.3 1.8M337.6 69.8l1.3 1.8M337.6 65.5l1.3 1.8M337.6 61.2l1.3 1.8M337.6 56.9l1.3 1.8M337.6 52.5l1.3 1.8M337.6 48.2l1.3 1.8M340.5 104.2l8 4.5M340.5 99.9l7 -.6M340.5 95.6l5.6 -1.3M340.5 91.3l4.3 -1.8M340.5 87l2.7 -2.6M340.5 82.7l1.9 -2.4M340.5 78.4l1.9 -2.4M340.5 74.1l1.3 1.8M340.5 69.8l1.3 1.8M340.5 65.5l1.3 1.8M340.5 61.2l1.3 1.8M340.5 56.9l1.3 1.8M340.5 52.5l1.3 1.8M340.5 48.2l1.3 1.8M340.5 43.9l1.3 1.8M340.5 39.6l1.3 1.8M340.5 35.3l1.3 1.8M343.5 104.2l7.2 -1.6M343.5 99.9l5.9 -2.1M343.5 95.6l4.3 -3M343.5 91.3l3.5 -2.8M343.5 87l2.7 -2.6M343.5 82.7l1.9 -2.4M343.5 78.4l1.9 -2.4M343.5 74.1l1.3 1.8M343.5 69.8l1.3 1.8M343.5 65.5l1.3 1.8M343.5 61.2l1.3 1.8M343.5 56.9l1.3 1.8M343.5 52.5l1.3 1.8M343.5 48.2l1.3 1.8M343.5 43.9l1.3 1.8M343.5 39.6l1.3 1.8M343.5 35.3l1.3 1.8M346.4 104.2l5.8 -3.4M346.4 99.9l5 -3.2M346.4 95.6l4.2 -3M346.4 91.3l3.5 -2.8M346.4 87l2.7 -2.6M346.4 82.7l1.9 -2.4M346.4 78.4l1.9 -2.4M346.4 74.1l1.3 1.8M346.4 69.8l1.3 1.8M346.4 65.5l1.3 1.8M346.4 61.2l1.3 1.8M346.4 56.9l1.3 1.8M346.4 52.5l1.3 1.8M346.4 48.2l1.3 1.8M346.4 43.9l1.3 1.8M346.4 39.6l1.3 1.8M346.4 35.3l1.3 1.8M349.4 104.2l5.5 -3.3M349.4 99.9l4.8 -3.1M349.4 95.6l4.1 -3M349.4 91.3l3.4 -2.8M349.4 87l2.6 -2.6M349.4 82.7l1.9 -2.4M349.4 78.4l1.9 -2.4M349.4 74.1l1.3 1.8M349.4 69.8l1.3 1.8M349.4 65.5l1.3 1.8M349.4 61.2l1.3 1.8M349.4 56.9l1.3 1.8M349.4 52.5l1.3 1.8M349.4 48.2l1.3 1.8M349.4 43.9l1.3 1.8M349.4 39.6l1.3 1.8M349.4 35.3l1.3 1.8M352.3 104.2l5.2 -3.3M352.3 99.9l4.6 -3.1M352.3 95.6l3.9 -2.9M352.3 91.3l3.2 -2.7M352.3 87l2.6 -2.6M352.3 82.7l1.9 -2.4M352.3 78.4l1.9 -2.4M352.3 74.1l1.3 1.8M352.3 69.8l1.3 1.8M352.3 65.5l1.3 1.8M352.3 61.2l1.3 1.8M352.3 56.9l1.3 1.8M352.3 52.5l1.3 1.8M352.3 48.2l1.3 1.8M352.3 43.9l1.3 1.8M352.3 39.6l1.3 1.8M352.3 35.3l1.3 1.8M355.3 104.2l4.9 -3.2M355.3 99.9l4.3 -3M355.3 95.6l3.7 -2.9M355.3 91.3l3.1 -2.7M355.3 87l2.5 -2.6M355.3 82.7l1.9 -2.4M355.3 78.4l1.9 -2.4M355.3 74.1l1.3 1.8M355.3 69.8l1.3 1.8M355.3 65.5l1.3 1.8M355.3 61.2l1.3 1.8M355.3 56.9l1.3 1.8M355.3 52.5l1.3 1.8M355.3 48.2l1.3 1.8M355.3 43.9l1.3 1.8M355.3 39.6l1.3 1.8M355.3 35.3l1.3 1.8M358.2 104.2l4.5 -3.1M358.2 99.9l4 -2.9M358.2 95.6l3.5 -2.8M358.2 91.3l3 -2.7M358.2 87l2.4 -2.5M358.2 82.7l1.9 -2.4M358.2 78.4l1.9 -2.4M358.2 74.1l1.3 1.8M358.2 69.8l1.3 1.8M358.2 65.5l1.3 1.8M358.2 61.2l1.3 1.8M358.2 56.9l1.3 1.8M358.2 52.5l1.3 1.8M358.2 48.2l1.3 1.8M358.2 43.9l1.3 1.8M358.2 39.6l1.3 1.8M358.2 35.3l1.3 1.8M361.2 104.2l4.1 -3M361.2 99.9l3.7 -2.9M361.2 95.6l3.2 -2.7M361.2 91.3l2.8 -2.6M361.2 87l2.4 -2.5M361.2 82.7l1.9 -2.4M361.2 78.4l1.9 -2.4M361.2 74.1l1.3 1.8M361.2 69.8l1.3 1.8M361.2 65.5l1.3 1.8M361.2 61.2l1.3 1.8M361.2 56.9l1.3 1.8M361.2 52.5l1.3 1.8M361.2 48.2l1.3 1.8M361.2 43.9l1.3 1.8M361.2 39.6l1.3 1.8M361.2 35.3l1.3 1.8M364.1 104.2l3.6 -2.6M364.1 99.9l3.2 -2.5M364.1 95.6l2.8 -2.4M364.1 91.3l2.5 -2.3M364.1 87l2.1 -2.2M364.1 82.7l1.7 -2.1M364.1 78.4l1.7 -2.1M367.1 104.2l2.7 -1.9M367.1 99.9l2.4 -1.8M367.1 95.6l2.1 -1.8M367.1 91.3l1.8 -1.7M367.1 87l1.5 -1.6M370 104.2l1.9 -1.2" stroke="#111" stroke-width="0.5" fill="none"/>
<path d="M291 104.9l.8 1.1M291 100.6l.8 1.1M291 96.3l.8 1.1M291 92l.8 1.1M291 87.7l.8 1.1M291 83.4l.8 1.1M291 79.1l.8 1.1M291 74.8l.8 1.1M291 70.5l.8 1.1M291 66.2l.8 1.1M291 61.9l.8 1.1M291 57.6l.8 1.1M291 53.3l.8 1.1M291 49l.8 1.1M291 44.7l.8 1.1M291 40.4l.8 1.1M291 36l.8 1.1M293.9 104.9l.8 1.1M293.9 100.6l.8 1.1M293.9 96.3l.8 1.1M293.9 92l.8 1.1M293.9 87.7l.8 1.1M293.9 83.4l.8 1.1M293.9 79.1l.8 1.1M293.9 74.8l.8 1.1M293.9 70.5l.8 1.1M293.9 66.2l.8 1.1M293.9 61.9l.8 1.1M293.9 57.6l.8 1.1M293.9 53.3l.8 1.1M293.9 49l.8 1.1M293.9 44.7l.8 1.1M293.9 40.4l.8 1.1M293.9 36l.8 1.1M296.9 104.9l.8 1.1M296.9 100.6l.8 1.1M296.9 96.3l.8 1.1M296.9 92l.8 1.1M296.9 87.7l.8 1.1M296.9 83.4l.8 1.1M296.9 79.1l.8 1.1M296.9 74.8l.8 1.1M296.9 70.5l.8 1.1M296.9 66.2l.8 1.1M296.9 61.9l.8 1.1M296.9 57.6l.8 1.1M296.9 53.3l.8 1.1M296.9 49l.8 1.1M296.9 44.7l.8 1.1M296.9 40.4l.8 1.1M296.9 36.1l.8 1.1M299.8 104.9l.8 1.1M299.8 100.6l.8 1.1M299.8 96.3l.8 1.1M299.8 92l.8 1.1M299.8 87.7l.8 1.1M299.8 83.4l.8 1.1M299.8 79.1l.8 1.1M299.8 74.8l.8 1.1M299.8 70.5l.8 1.1M299.8 66.2l.8 1.1M299.8 61.9l.8 1.1M299.8 57.6l.8 1.1M299.8 53.3l.8 1.1M299.8 49l.8 1.1M299.8 44.7l.8 1.1M299.8 40.4l.8 1.1M299.8 36.1l.8 1.1M302.8 104.9l.8 1.1M302.8 100.6l.8 1.1M302.8 96.3l.8 1.1M302.8 92l.8 1.1M302.8 87.7l.8 1.1M302.8 83.4l.8 1.1M302.8 79.1l.8 1.1M302.8 74.8l.8 1.1M302.8 70.5l.8 1.1M302.8 66.2l.8 1.1M302.8 61.9l.8 1.1M302.8 57.6l.8 1.1M302.8 53.3l.9 1.1M302.8 49.1l.9 1.2M302.9 44.9l.9 1.2M302.9 40.6l.8 1.3M302.8 36.3l.8 1.3M305.7 104.9l.8 1.1M305.7 100.6l.8 1.1M305.7 96.3l.8 1.1M305.7 92l.8 1.1M305.7 87.7l.8 1.1M305.7 83.4l.8 1.1M305.7 79.1l.8 1.1M305.7 74.8l.8 1.1M305.7 70.5l.8 1.1M305.7 66.2l.8 1.1M305.7 61.9l.8 1.1M305.8 57.6l.9 1.1M306 53.5l.9 1.2M306.2 49.6l.9 1.2M306.3 45.6l.8 1.2M306.2 41.5l.7 1.3M306 37.1l.6 1.4M304.4 31.7l-1.2 .9M304.4 27.2l-1.2 .7M308.7 104.9l.8 1.1M308.7 100.6l.8 1.1M308.7 96.3l.8 1.1M308.7 92l.8 1.1M308.7 87.7l.8 1.1M308.7 83.4l.8 1.1M308.7 79.1l.8 1.1M308.7 74.8l.8 1.1M308.7 70.5l.8 1.1M308.7 66.2l.8 1.1M308.7 61.9l.9 1.1M309 57.8l1 1.1M310 54.5l1 1.1M310.7 51.3l1 1.1M310.1 46.7l.9 1.2M309.6 42.8l.6 1.4M309 38.3l.4 1.4M306.8 32.6l-1 1.1M306.9 27.6l-1.2 .9M307.3 22.9l-1.3 .7M311.6 104.9l.8 1.1M311.6 100.6l.8 1.1M311.6 96.3l.8 1.1M311.6 92l.8 1.1M311.6 87.7l.8 1.1M311.6 83.4l.8 1.1M311.6 79.1l.8 1.1M311.6 74.8l.8 1.1M311.6 70.5l.8 1.1M311.6 66.2l.8 1.1M312.3 62.5l1 1.1M313.2 58.9l1.1 1.1M314.5 55.7l1.1 1M315.4 52.8l1 1.1M313.6 47.1l.9 1.2M312.7 43l.6 1.4M311.8 38.9l.3 1.5M309 33.4l-1 1.1M309.1 28.3l-1.2 .9M309.7 23.2l-1.3 .7M310.2 18.5l-1.3 .5M314.5 104.9l.8 1.1M314.5 100.6l.8 1.1M314.5 96.3l.8 1.1M314.5 92l.8 1.1M314.5 87.7l.8 1.1M314.5 83.4l.8 1.1M314.5 79.1l.8 1.1M314.5 74.8l.8 1.1M315 71.1l.9 1.2M315.4 67.2l.9 1.2M316.1 63.5l1 1.1M317.5 60l1.1 1M319.1 56.7l1.2 1M319.5 53.3l1.1 1M318.6 49.4l1 1.2M315.2 41.8l.7 1.3M314.4 37.7l.2 1.5M311.4 33.2l-1.2 1M311.3 28.5l-1.3 .8M312.1 23.4l-1.3 .7M313 18.5l-1.4 .6M317.5 104.9l.8 1.1M317.5 100.6l.8 1.1M317.5 96.3l.8 1.1M317.5 92l.8 1.1M317.5 87.7l.8 1.1M317.5 83.4l.8 1.1M318 79.7l.9 1.2M318.3 75.9l.9 1.2M318.7 72.2l.9 1.2M319.3 68.5l.9 1.2M320.2 64.8l1 1.1M321.6 60.9l1.1 1M322.9 56.8l1.2 .9M322.3 52.6l1.2 .9M320.9 48.1l1 1.1M317.6 40.7l.8 1.3M317.1 36.5l.1 1.5M314.2 32.3l-1.4 .6M313.6 28.1l-1.4 .6M314.7 23.3l-1.4 .5M315.8 18.5l-1.4 .5M320.4 104.9l.8 1.1M320.4 100.6l.8 1.1M320.4 96.3l.8 1.1M320.4 92l.8 1.1M320.9 88.4l.9 1.2M321.3 84.6l.9 1.2M321.8 81l.9 1.2M322.3 77.4l.9 1.2M322.8 73.8l.9 1.2M323.2 69.9l.9 1.2M323.8 65.7l1 1.1M324.7 60.9l1.1 1M325.2 55.7l1.3 .8M324.2 50.8l1.3 .8M322.6 46l1.2 .9M321.2 41.2l1 1.2M316.9 31.5l-1.5 .2M316.4 27.4l-1.5 .3M317.6 23l-1.5 .4M318.7 18.5l-1.4 .4M323.4 104.9l.8 1.1M323.4 100.6l.8 1.1M323.9 97.1l.9 1.2M324.3 93.3l.9 1.2M324.8 89.7l.9 1.2M325.3 86.2l.9 1.2M325.9 82.6l.9 1.2M326.3 78.9l.9 1.2M326.5 74.9l.9 1.2M326.5 70.4l.9 1.2M326.5 65.5l1 1.2M326.6 60l1.1 1M326.5 54.2l1.4 .6M325.8 48.8l1.5 .3M324.1 44.2l1.5 .3M319.5 30.7l-1.5 -.2M319.7 26.8l-1.5 0M320.9 22.7l-1.5 .2M321.9 18.4l-1.4 .4M326.9 105.7l.9 1.2M327.3 102l.9 1.2M327.8 98.5l.9 1.2M328.4 95l.9 1.2M329 91.5l.9 1.2M329.4 87.8l.9 1.2M329.6 83.8l.9 1.2M329.6 79.4l.9 1.2M329.3 74.6l.9 1.2M328.8 69.6l.9 1.2M328.3 64.3l.9 1.2M328 58.8l1.1 1M327.7 53.3l1.4 .5M327.2 48.1l1.5 -.1M323 30.3l-1.5 -.4M323.5 26.6l-1.5 -.1M324.4 22.6l-1.5 .2M324.9 18.4l-1.3 .4M330.9 107.2l.9 1.2M331.5 103.8l.9 1.2M332.1 100.4l.9 1.2M332.6 96.7l.9 1.2M332.8 92.8l.9 1.2M332.8 88.4l.9 1.2M332.4 83.6l.9 1.2M331.9 78.5l.9 1.2M331.2 73.3l.9 1.2M330.6 68.1l.9 1.2M330.2 63l.9 1.2M329.8 58l1 1.1M327 30.7l-1.5 -.3M327.5 26.7l-1.5 0M327.8 22.6l-1.4 .3M335.3 109.2l.9 1.2M335.8 105.6l.9 1.2M336 101.7l.9 1.2M335.9 97.3l.9 1.2M335.6 92.5l.9 1.2M335 87.4l.9 1.2M334.3 82.1l.9 1.2M333.7 76.9l.9 1.2M333.1 71.8l.9 1.2M332.7 66.9l.9 1.2M332.2 61.9l.8 1.1M330.8 31.1l-1.4 0M330.8 26.9l-1.3 .2M342.7 110l1.2 .9M341.9 105.7l1.2 .9M340.8 101l1.1 1M339.5 96l1.1 1M338.1 90.8l1 1.1M336.7 82.7l1.5 0M336.2 77.9l1.4 -.4M335.7 75.6l.9 1.2M335.2 70.5l.8 1.1M335.2 66.2l.8 1.1M335.2 61.9l.8 1.1M335.2 57.6l.8 1.1M345.5 109.7l1.2 .9M344.1 104.6l1.2 .9M342.6 99.4l1.2 .9M341.4 91.1l1.5 -.1M340 86.4l1.5 -.4M338.9 82l1.3 -.7M338.6 77.1l.9 -1.2M338.1 74.8l.8 1.1M338.1 70.5l.8 1.1M338.1 66.2l.8 1.1M338.1 61.9l.8 1.1M338.1 57.6l.8 1.1M338.1 53.3l.8 1.1M338.1 48.9l.8 1.1M347.2 108l1.3 .7M346.1 99.5l1.5 -.1M344.6 94.6l1.5 -.3M343.4 90.1l1.4 -.6M342.2 85.4l1.1 -1M341.5 81.4l.9 -1.2M341.5 77.1l.9 -1.2M341.1 74.8l.8 1.1M341.1 70.5l.8 1.1M341.1 66.2l.8 1.1M341.1 61.9l.8 1.1M341.1 57.6l.8 1.1M341.1 53.3l.8 1.1M341.1 49l.8 1.1M341.1 44.7l.8 1.1M341.1 40.4l.8 1.1M341.1 36l.8 1.1M349.2 102.9l1.5 -.3M348 98.3l1.4 -.5M346.6 93.4l1.2 -.9M345.8 89.4l1.2 -.9M345.1 85.4l1.1 -1M344.5 81.4l.9 -1.2M344.5 77.1l.9 -1.2M344 74.8l.8 1.1M344 70.5l.8 1.1M344 66.2l.8 1.1M344 61.9l.8 1.1M344 57.6l.8 1.1M344 53.3l.8 1.1M344 49l.8 1.1M344 44.7l.8 1.1M344 40.4l.8 1.1M344 36l.8 1.1M350.9 101.6l1.3 -.8M350.2 97.5l1.3 -.8M349.4 93.5l1.2 -.9M348.7 89.4l1.2 -.9M348 85.4l1.1 -1M347.4 81.4l.9 -1.2M347.4 77.1l.9 -1.2M347 74.8l.8 1.1M347 70.5l.8 1.1M347 66.2l.8 1.1M347 61.9l.8 1.1M347 57.6l.8 1.1M347 53.3l.8 1.1M347 49l.8 1.1M347 44.7l.8 1.1M347 40.4l.8 1.1M347 36l.8 1.1M353.6 101.6l1.3 -.8M352.9 97.6l1.3 -.8M352.3 93.5l1.2 -.9M351.6 89.5l1.2 -1M351 85.4l1.1 -1M350.4 81.4l.9 -1.2M350.4 77.1l.9 -1.2M349.9 74.8l.8 1.1M349.9 70.5l.8 1.1M349.9 66.2l.8 1.1M349.9 61.9l.8 1.1M349.9 57.6l.8 1.1M349.9 53.3l.8 1.1M349.9 49l.8 1.1M349.9 44.7l.8 1.1M349.9 40.4l.8 1.1M349.9 36l.8 1.1M356.3 101.7l1.3 -.8M355.7 97.6l1.2 -.8M355 93.6l1.2 -.9M354.4 89.5l1.1 -1M353.8 85.5l1.1 -1.1M353.3 81.4l.9 -1.2M353.3 77.1l.9 -1.2M352.9 74.8l.8 1.1M352.9 70.5l.8 1.1M352.9 66.2l.8 1.1M352.9 61.9l.8 1.1M352.9 57.6l.8 1.1M352.9 53.3l.8 1.1M352.9 49l.8 1.1M352.9 44.7l.8 1.1M352.9 40.4l.8 1.1M352.9 36l.8 1.1M358.9 101.8l1.3 -.8M358.3 97.7l1.2 -.9M357.8 93.6l1.2 -.9M357.2 89.6l1.1 -1M356.7 85.5l1.1 -1.1M356.3 81.4l.9 -1.2M356.3 77.1l.9 -1.2M355.8 74.8l.8 1.1M355.8 70.5l.8 1.1M355.8 66.2l.8 1.1M355.8 61.9l.8 1.1M355.8 57.6l.8 1.1M355.8 53.3l.8 1.1M355.8 49l.8 1.1M355.8 44.7l.8 1.1M355.8 40.4l.8 1.1M355.8 36l.8 1.1M361.5 102l1.2 -.8M361 97.8l1.2 -.9M360.5 93.7l1.2 -.9M360.1 89.6l1.1 -1M359.6 85.5l1 -1.1M359.2 81.4l.9 -1.2M359.2 77.1l.9 -1.2M358.7 74.8l.8 1.1M358.7 70.5l.8 1.1M358.7 66.2l.8 1.1M358.7 61.9l.8 1.1M358.7 57.6l.8 1.1M358.7 53.3l.8 1.1M358.7 49l.8 1.1M358.7 44.7l.8 1.1M358.7 40.4l.8 1.1M358.7 36l.8 1.1M364.1 102.1l1.2 -.9M363.7 98l1.2 -.9M363.3 93.8l1.1 -1M362.9 89.7l1.1 -1M362.5 85.6l1 -1.1M362.1 81.4l.9 -1.2M362.1 77.1l.9 -1.2M361.7 74.8l.8 1.1M361.7 70.5l.8 1.1M361.7 66.2l.8 1.1M361.7 61.9l.8 1.1M361.7 57.6l.8 1.1M361.7 53.3l.8 1.1M361.7 49l.8 1.1M361.7 44.7l.8 1.1M361.7 40.4l.8 1.1M361.7 36l.8 1.1M366.5 102.5l1.2 -.9M366.1 98.3l1.2 -.9M365.8 94.1l1.1 -1M365.5 90l1.1 -1M365.2 85.8l1 -1.1M364.9 81.7l.9 -1.2M364.9 77.4l.9 -1.2M368.6 103.1l1.2 -.9M368.3 99l1.2 -.9M368 94.8l1.2 -1M367.8 90.6l1.1 -1M367.7 86.3l.9 -1M370.8 103.7l1.1 -.7" stroke="#111" stroke-width="1.2" fill="none"/>
<path d="M322.9 35.3l-.1 .8M328.8 35.3l.2 .6M370 31l-.2 .8M370 26.7l-.2 .8M370 22.4l-.2 .8M370 18.1l-.2 .8M370 13.8l-.2 .8M370 9.5l-.2 .8M373 87l.4 .5M373 82.7l.3 .5M373 78.4l.3 .5M373 74.1l.3 .9M373 69.8l.3 .9M373 65.5l.3 .9M373 61.2l.3 .9M373 56.9l.3 .9M373 52.5l.3 .9M373 48.2l.3 .9M373 43.9l.3 .9M373 39.6l.3 .9M373 35.3l.3 .9M373 31l0 .8M373 26.7l0 .8M373 22.4l0 .8M373 18.1l0 .8M373 13.8l0 .8M373 9.5l0 .8M375.9 99.9l.5 .6M375.9 95.6l.4 .6M375.9 91.3l.3 .6M375.9 87l.3 .6M375.9 82.7l.2 .6M375.9 78.4l.2 .6M375.9 74.1l.2 .8M375.9 69.8l.2 .8M375.9 65.5l.2 .8M375.9 61.2l.2 .8M375.9 56.9l.2 .8M375.9 52.5l.2 .8M375.9 48.2l.2 .8M375.9 43.9l.2 .8M375.9 39.6l.2 .8M375.9 35.3l.2 .8M375.9 31l.1 .7M375.9 26.7l.1 .7M375.9 22.4l.1 .7M375.9 18.1l.1 .7M375.9 13.8l.1 .7M375.9 9.5l.1 .7M378.8 104.2l.3 .8M378.8 99.9l.3 .8M378.8 95.6l.3 .8M378.8 91.3l.3 .8M378.8 87l.3 .8M378.8 82.7l.3 .8M378.8 78.4l.3 .8M378.8 74.1l.3 .8M378.8 69.8l.3 .8M378.8 65.5l.3 .8M378.8 61.2l.3 .8M378.8 56.9l.3 .8M378.8 52.5l.3 .8M378.8 48.2l.3 .8M378.8 43.9l.3 .8M378.8 39.6l.3 .8M378.8 35.3l.3 .8M378.8 31l.3 .8M378.8 26.7l.3 .8M378.8 22.4l.3 .8M378.8 18.1l.3 .8M378.8 13.8l.3 .8M378.8 9.5l.3 .8M381.8 104.2l.3 .8M381.8 99.9l.3 .8M381.8 95.6l.3 .8M381.8 91.3l.3 .8M381.8 87l.3 .8M381.8 82.7l.3 .8M381.8 78.4l.3 .8M381.8 74.1l.3 .8M381.8 69.8l.3 .8M381.8 65.5l.3 .8M381.8 61.2l.3 .8M381.8 56.9l.3 .8M381.8 52.5l.3 .8M381.8 48.2l.3 .8M381.8 43.9l.3 .8M381.8 39.6l.3 .8M381.8 35.3l.3 .8M381.8 31l.3 .8M381.8 26.7l.3 .8M381.8 22.4l.3 .8M381.8 18.1l.3 .8M381.8 13.8l.3 .8M381.8 9.5l.3 .8M384.7 104.2l.3 .8M384.7 99.9l.3 .8M384.7 95.6l.3 .8M384.7 91.3l.3 .8M384.7 87l.3 .8M384.7 82.7l.3 .8M384.7 78.4l.3 .8M384.7 74.1l.3 .8M384.7 69.8l.3 .8M384.7 65.5l.3 .8M384.7 61.2l.3 .8M384.7 56.9l.3 .8M384.7 52.5l.3 .8M384.7 48.2l.3 .8M384.7 43.9l.3 .8M384.7 39.6l.3 .8M384.7 35.3l.3 .8M384.7 31l.3 .8M384.7 26.7l.3 .8M384.7 22.4l.3 .8M384.7 18.1l.3 .8M384.7 13.8l.3 .8M384.7 9.5l.3 .8M387.7 104.2l.3 .8M387.7 99.9l.3 .8M387.7 95.6l.3 .8M387.7 91.3l.3 .8M387.7 87l.3 .8M387.7 82.7l.3 .8M387.7 78.4l.3 .8M387.7 74.1l.3 .8M387.7 69.8l.3 .8M387.7 65.5l.3 .8M387.7 61.2l.3 .8M387.7 56.9l.3 .8M387.7 52.5l.3 .8M387.7 48.2l.3 .8M387.7 43.9l.3 .8M387.7 39.6l.3 .8M387.7 35.3l.3 .8M387.7 31l.3 .8M387.7 26.7l.3 .8M387.7 22.4l.3 .8M387.7 18.1l.3 .8M387.7 13.8l.3 .8M387.7 9.5l.3 .8M390.6 104.2l.3 .8M390.6 99.9l.3 .8M390.6 95.6l.3 .8M390.6 91.3l.3 .8M390.6 87l.3 .8M390.6 82.7l.3 .8M390.6 78.4l.3 .8M390.6 74.1l.3 .8M390.6 69.8l.3 .8M390.6 65.5l.3 .8M390.6 61.2l.3 .8M390.6 56.9l.3 .8M390.6 52.5l.3 .8M390.6 48.2l.3 .8M390.6 43.9l.3 .8M390.6 39.6l.3 .8M390.6 35.3l.3 .8M390.6 31l.3 .8M390.6 26.7l.3 .8M390.6 22.4l.3 .8M390.6 18.1l.3 .8M390.6 13.8l.3 .8M390.6 9.5l.3 .8M393.6 104.2l.3 .8M393.6 99.9l.3 .8M393.6 95.6l.3 .8M393.6 91.3l.3 .8M393.6 87l.3 .8M393.6 82.7l.3 .8M393.6 78.4l.3 .8M393.6 74.1l.3 .8M393.6 69.8l.3 .8M393.6 65.5l.3 .8M393.6 61.2l.3 .8M393.6 56.9l.3 .8M393.6 52.5l.3 .8M393.6 48.2l.3 .8M393.6 43.9l.3 .8M393.6 39.6l.3 .8M393.6 35.3l.3 .8M393.6 31l.3 .8M393.6 26.7l.3 .8M393.6 22.4l.3 .8M393.6 18.1l.3 .8M393.6 13.8l.3 .8M393.6 9.5l.3 .8M396.5 104.2l.3 .8M396.5 99.9l.3 .8M396.5 95.6l.3 .8M396.5 91.3l.3 .8M396.5 87l.3 .8M396.5 82.7l.3 .8M396.5 78.4l.3 .8M396.5 74.1l.3 .8M396.5 69.8l.3 .8M396.5 65.5l.3 .8M396.5 61.2l.3 .8M396.5 56.9l.3 .8M396.5 52.5l.3 .8M396.5 48.2l.3 .8M396.5 43.9l.3 .8M396.5 39.6l.3 .8M396.5 35.3l.3 .8M396.5 31l.3 .8M396.5 26.7l.3 .8M396.5 22.4l.3 .8M396.5 18.1l.3 .8M396.5 13.8l.3 .8M396.5 9.5l.3 .8M399.5 104.2l.3 .8M399.5 99.9l.3 .8M399.5 95.6l.3 .8M399.5 91.3l.3 .8M399.5 87l.3 .8M399.5 82.7l.3 .8M399.5 78.4l.3 .8M399.5 74.1l.3 .8M399.5 69.8l.3 .8M399.5 65.5l.3 .8M399.5 61.2l.3 .8M399.5 56.9l.3 .8M399.5 52.5l.3 .8M399.5 48.2l.3 .8M399.5 43.9l.3 .8M399.5 39.6l.3 .8M399.5 35.3l.3 .8M399.5 31l.3 .8M399.5 26.7l.3 .8M399.5 22.4l.3 .8M399.5 18.1l.3 .8M399.5 13.8l.3 .8M399.5 9.5l.3 .8M402.4 104.2l.3 .8M402.4 99.9l.3 .8M402.4 95.6l.3 .8M402.4 91.3l.3 .8M402.4 87l.3 .8M402.4 82.7l.3 .8M402.4 78.4l.3 .8M402.4 74.1l.3 .8M402.4 69.8l.3 .8M402.4 65.5l.3 .8M402.4 61.2l.3 .8M402.4 56.9l.3 .8M402.4 52.5l.3 .8M402.4 48.2l.3 .8M402.4 43.9l.3 .8M402.4 39.6l.3 .8M402.4 35.3l.3 .8M402.4 31l.3 .8M402.4 26.7l.3 .8M402.4 22.4l.3 .8M402.4 18.1l.3 .8M402.4 13.8l.3 .8M402.4 9.5l.3 .8M405.4 104.2l.3 .8M405.4 99.9l.3 .8M405.4 95.6l.3 .8M405.4 91.3l.3 .8M405.4 87l.3 .8M405.4 82.7l.3 .8M405.4 78.4l.3 .8M405.4 74.1l.3 .8M405.4 69.8l.3 .8M405.4 65.5l.3 .8M405.4 61.2l.3 .8M405.4 56.9l.3 .8M405.4 52.5l.3 .8M405.4 48.2l.3 .8M405.4 43.9l.3 .8M405.4 39.6l.3 .8M405.4 35.3l.3 .8M405.4 31l.3 .8M405.4 26.7l.3 .8M405.4 22.4l.3 .8M405.4 18.1l.3 .8M405.4 13.8l.3 .8M405.4 9.5l.3 .8M408.3 104.2l.3 .8M408.3 99.9l.3 .8M408.3 95.6l.3 .8M408.3 91.3l.3 .8M408.3 87l.3 .8M408.3 82.7l.3 .8M408.3 78.4l.3 .8M408.3 74.1l.3 .8M408.3 69.8l.3 .8M408.3 65.5l.3 .8M408.3 61.2l.3 .8M408.3 56.9l.3 .8M408.3 52.5l.3 .8M408.3 48.2l.3 .8M408.3 43.9l.3 .8M408.3 39.6l.3 .8M408.3 35.3l.3 .8M408.3 31l.3 .8M408.3 26.7l.3 .8M408.3 22.4l.3 .8M408.3 18.1l.3 .8M408.3 13.8l.3 .8M408.3 9.5l.3 .8M411.3 104.2l.3 .8M411.3 99.9l.3 .8M411.3 95.6l.3 .8M411.3 91.3l.3 .8M411.3 87l.3 .8M411.3 82.7l.3 .8M411.3 78.4l.3 .8M411.3 74.1l.3 .8M411.3 69.8l.3 .8M411.3 65.5l.3 .8M411.3 61.2l.3 .8M411.3 56.9l.3 .8M411.3 52.5l.3 .8M411.3 48.2l.3 .8M411.3 43.9l.3 .8M411.3 39.6l.3 .8M411.3 35.3l.3 .8M411.3 31l.3 .8M411.3 26.7l.3 .8M411.3 22.4l.3 .8M411.3 18.1l.3 .8M411.3 13.8l.3 .8M411.3 9.5l.3 .8M414.2 104.2l.3 .8M414.2 99.9l.3 .8M414.2 95.6l.3 .8M414.2 91.3l.3 .8M414.2 87l.3 .8M414.2 82.7l.3 .8M414.2 78.4l.3 .8M414.2 74.1l.3 .8M414.2 69.8l.3 .8M414.2 65.5l.3 .8M414.2 61.2l.3 .8M414.2 56.9l.3 .8M414.2 52.5l.3 .8M414.2 48.2l.3 .8M414.2 43.9l.3 .8M414.2 39.6l.3 .8M414.2 35.3l.3 .8M414.2 31l.3 .8M414.2 26.7l.3 .8M414.2 22.4l.3 .8M414.2 18.1l.3 .8M414.2 13.8l.3 .8M414.2 9.5l.3 .8M417.2 104.2l.3 .8M417.2 99.9l.3 .8M417.2 95.6l.3 .8M417.2 91.3l.3 .8M417.2 87l.3 .8M417.2 82.7l.3 .8M417.2 78.4l.3 .8M417.2 74.1l.3 .8M417.2 69.8l.3 .8M417.2 65.5l.3 .8M417.2 61.2l.3 .8M417.2 56.9l.3 .8M417.2 52.5l.3 .8M417.2 48.2l.3 .8M417.2 43.9l.3 .8M417.2 39.6l.3 .8M417.2 35.3l.3 .8M417.2 31l.3 .8M417.2 26.7l.3 .8M417.2 22.4l.3 .8M417.2 18.1l.3 .8M417.2 13.8l.3 .8M417.2 9.5l.3 .8M420.1 104.2l.3 .8M420.1 99.9l.3 .8M420.1 95.6l.3 .8M420.1 91.3l.3 .8M420.1 87l.3 .8M420.1 82.7l.3 .8M420.1 78.4l.3 .8M420.1 74.1l.3 .8M420.1 69.8l.3 .8M420.1 65.5l.3 .8M420.1 61.2l.3 .8M420.1 56.9l.3 .8M420.1 52.5l.3 .8M420.1 48.2l.3 .8M420.1 43.9l.3 .8M420.1 39.6l.3 .8M420.1 35.3l.3 .8M420.1 31l.3 .8M420.1 26.7l.3 .8M420.1 22.4l.3 .8M420.1 18.1l.3 .8M420.1 13.8l.3 .8M420.1 9.5l.3 .8M423 104.2l.3 .8M423 99.9l.3 .8M423 95.6l.3 .8M423 91.3l.3 .8M423 87l.3 .8M423 82.7l.3 .8M423 78.4l.3 .8M423 74.1l.3 .8M423 69.8l.3 .8M423 65.5l.3 .8M423 61.2l.3 .8M423 56.9l.3 .8M423 52.5l.3 .8M423 48.2l.3 .8M423 43.9l.3 .8M423 39.6l.3 .8M423 35.3l.3 .8M423 31l.3 .8M423 26.7l.3 .8M423 22.4l.3 .8M423 18.1l.3 .8M423 13.8l.3 .8M423 9.5l.3 .8M426 104.2l.3 .8M426 99.9l.3 .8M426 95.6l.3 .8M426 91.3l.3 .8M426 87l.3 .8M426 82.7l.3 .8M426 78.4l.3 .8M426 74.1l.3 .8M426 69.8l.3 .8M426 65.5l.3 .8M426 61.2l.3 .8M426 56.9l.3 .8M426 52.5l.3 .8M426 48.2l.3 .8M426 43.9l.3 .8M426 39.6l.3 .8M426 35.3l.3 .8M426 31l.3 .8M426 26.7l.3 .8M426 22.4l.3 .8M426 18.1l.3 .8M426 13.8l.3 .8M426 9.5l.3 .8M428.9 104.2l.3 .8M428.9 99.9l.3 .8M428.9 95.6l.3 .8M428.9 91.3l.3 .8M428.9 87l.3 .8M428.9 82.7l.3 .8M428.9 78.4l.3 .8M428.9 74.1l.3 .8M428.9 69.8l.3 .8M428.9 65.5l.3 .8M428.9 61.2l.3 .8M428.9 56.9l.3 .8M428.9 52.5l.3 .8M428.9 48.2l.3 .8M428.9 43.9l.3 .8M428.9 39.6l.3 .8M428.9 35.3l.3 .8M428.9 31l.3 .8M428.9 26.7l.3 .8M428.9 22.4l.3 .8M428.9 18.1l.3 .8M428.9 13.8l.3 .8M428.9 9.5l.3 .8M431.9 104.2l.3 .8M431.9 99.9l.3 .8M431.9 95.6l.3 .8M431.9 91.3l.3 .8M431.9 87l.3 .8M431.9 82.7l.3 .8M431.9 78.4l.3 .8M431.9 74.1l.3 .8M431.9 69.8l.3 .8M431.9 65.5l.3 .8M431.9 61.2l.3 .8M431.9 56.9l.3 .8M431.9 52.5l.3 .8M431.9 48.2l.3 .8M431.9 43.9l.3 .8M431.9 39.6l.3 .8M431.9 35.3l.3 .8M431.9 31l.3 .8M431.9 26.7l.3 .8M431.9 22.4l.3 .8M431.9 18.1l.3 .8M431.9 13.8l.3 .8M431.9 9.5l.3 .8M434.8 104.2l.3 .8M434.8 99.9l.3 .8M434.8 95.6l.3 .8M434.8 91.3l.3 .8M434.8 87l.3 .8M434.8 82.7l.3 .8M434.8 78.4l.3 .8M434.8 74.1l.3 .8M434.8 69.8l.3 .8M434.8 65.5l.3 .8M434.8 61.2l.3 .8M434.8 56.9l.3 .8M434.8 52.5l.3 .8M434.8 48.2l.3 .8M434.8 43.9l.3 .8M434.8 39.6l.3 .8M434.8 35.3l.3 .8M434.8 31l.3 .8M434.8 26.7l.3 .8M434.8 22.4l.3 .8M434.8 18.1l.3 .8M434.8 13.8l.3 .8M434.8 9.5l.3 .8M437.8 104.2l.3 .8M437.8 99.9l.3 .8M437.8 95.6l.3 .8M437.8 91.3l.3 .8M437.8 87l.3 .8M437.8 82.7l.3 .8M437.8 78.4l.3 .8M437.8 74.1l.3 .8M437.8 69.8l.3 .8M437.8 65.5l.3 .8M437.8 61.2l.3 .8M437.8 56.9l.3 .8M437.8 52.5l.3 .8M437.8 48.2l.3 .8M437.8 43.9l.3 .8M437.8 39.6l.3 .8M437.8 35.3l.3 .8M437.8 31l.3 .8M437.8 26.7l.3 .8M437.8 22.4l.3 .8M437.8 18.1l.3 .8M437.8 13.8l.3 .8M437.8 9.5l.3 .8M440.7 104.2l.3 .8M440.7 99.9l.3 .8M440.7 95.6l.3 .8M440.7 91.3l.3 .8M440.7 87l.3 .8M440.7 82.7l.3 .8M440.7 78.4l.3 .8M440.7 74.1l.3 .8M440.7 69.8l.3 .8M440.7 65.5l.3 .8M440.7 61.2l.3 .8M440.7 56.9l.3 .8M440.7 52.5l.3 .8M440.7 48.2l.3 .8M440.7 43.9l.3 .8M440.7 39.6l.3 .8M440.7 35.3l.3 .8M440.7 31l.3 .8M440.7 26.7l.3 .8M440.7 22.4l.3 .8M440.7 18.1l.3 .8M440.7 13.8l.3 .8M440.7 9.5l.3 .8M443.7 104.2l.3 .8M443.7 99.9l.3 .8M443.7 95.6l.3 .8M443.7 91.3l.3 .8M443.7 87l.3 .8M443.7 82.7l.3 .8M443.7 78.4l.3 .8M443.7 74.1l.3 .8M443.7 69.8l.3 .8M443.7 65.5l.3 .8M443.7 61.2l.3 .8M443.7 56.9l.3 .8M443.7 52.5l.3 .8M443.7 48.2l.3 .8M443.7 43.9l.3 .8M443.7 39.6l.3 .8M443.7 35.3l.3 .8M443.7 31l.3 .8M443.7 26.7l.3 .8M443.7 22.4l.3 .8M443.7 18.1l.3 .8M443.7 13.8l.3 .8M443.7 9.5l.3 .8M446.6 104.2l.3 .8M446.6 99.9l.3 .8M446.6 95.6l.3 .8M446.6 91.3l.3 .8M446.6 87l.3 .8M446.6 82.7l.3 .8M446.6 78.4l.3 .8M446.6 74.1l.3 .8M446.6 69.8l.3 .8M446.6 65.5l.3 .8M446.6 61.2l.3 .8M446.6 56.9l.3 .8M446.6 52.5l.3 .8M446.6 48.2l.3 .8M446.6 43.9l.3 .8M446.6 39.6l.3 .8M446.6 35.3l.3 .8M446.6 31l.3 .8M446.6 26.7l.3 .8M446.6 22.4l.3 .8M446.6 18.1l.3 .8M446.6 13.8l.3 .8M446.6 9.5l.3 .8M449.6 104.2l.3 .8M449.6 99.9l.3 .8M449.6 95.6l.3 .8M449.6 91.3l.3 .8M449.6 87l.3 .8M449.6 82.7l.3 .8M449.6 78.4l.3 .8M449.6 74.1l.3 .8M449.6 69.8l.3 .8M449.6 65.5l.3 .8M449.6 61.2l.3 .8M449.6 56.9l.3 .8M449.6 52.5l.3 .8M449.6 48.2l.3 .8M449.6 43.9l.3 .8M449.6 39.6l.3 .8M449.6 35.3l.3 .8M449.6 31l.3 .8M449.6 26.7l.3 .8M449.6 22.4l.3 .8M449.6 18.1l.3 .8M449.6 13.8l.3 .8M449.6 9.5l.3 .8M452.5 104.2l.3 .8M452.5 99.9l.3 .8M452.5 95.6l.3 .8M452.5 91.3l.3 .8M452.5 87l.3 .8M452.5 82.7l.3 .8M452.5 78.4l.3 .8M452.5 74.1l.3 .8M452.5 69.8l.3 .8M452.5 65.5l.3 .8M452.5 61.2l.3 .8M452.5 56.9l.3 .8M452.5 52.5l.3 .8M452.5 48.2l.3 .8M452.5 43.9l.3 .8M452.5 39.6l.3 .8M452.5 35.3l.3 .8M452.5 31l.3 .8M452.5 26.7l.3 .8M452.5 22.4l.3 .8M452.5 18.1l.3 .8M452.5 13.8l.3 .8M452.5 9.5l.3 .8M455.5 104.2l.3 .8M455.5 99.9l.3 .8M455.5 95.6l.3 .8M455.5 91.3l.3 .8M455.5 87l.3 .8M455.5 82.7l.3 .8M455.5 78.4l.3 .8M455.5 74.1l.3 .8M455.5 69.8l.3 .8M455.5 65.5l.3 .8M455.5 61.2l.3 .8M455.5 56.9l.3 .8M455.5 52.5l.3 .8M455.5 48.2l.3 .8M455.5 43.9l.3 .8M455.5 39.6l.3 .8M455.5 35.3l.3 .8M455.5 31l.3 .8M455.5 26.7l.3 .8M455.5 22.4l.3 .8M455.5 18.1l.3 .8M455.5 13.8l.3 .8M455.5 9.5l.3 .8M458.4 104.2l.3 .8M458.4 99.9l.3 .8M458.4 95.6l.3 .8M458.4 91.3l.3 .8M458.4 87l.3 .8M458.4 82.7l.3 .8M458.4 78.4l.3 .8M458.4 74.1l.3 .8M458.4 69.8l.3 .8M458.4 65.5l.3 .8M458.4 61.2l.3 .8M458.4 56.9l.3 .8M458.4 52.5l.3 .8M458.4 48.2l.3 .8M458.4 43.9l.3 .8M458.4 39.6l.3 .8M458.4 35.3l.3 .8M458.4 31l.3 .8M458.4 26.7l.3 .8M458.4 22.4l.3 .8M458.4 18.1l.3 .8M458.4 13.8l.3 .8M458.4 9.5l.3 .8M461.4 104.2l.3 .8M461.4 99.9l.3 .8M461.4 95.6l.3 .8M461.4 91.3l.3 .8M461.4 87l.3 .8M461.4 82.7l.3 .8M461.4 78.4l.3 .8M461.4 74.1l.3 .8M461.4 69.8l.3 .8M461.4 65.5l.3 .8M461.4 61.2l.3 .8M461.4 56.9l.3 .8M461.4 52.5l.3 .8M461.4 48.2l.3 .8M461.4 43.9l.3 .8M461.4 39.6l.3 .8M461.4 35.3l.3 .8M461.4 31l.3 .8M461.4 26.7l.3 .8M461.4 22.4l.3 .8M461.4 18.1l.3 .8M461.4 13.8l.3 .8M461.4 9.5l.3 .8" stroke="#aaa" stroke-width="0.6" fill="none"/>
<path d="M290.4 31l-1.5 .5M290.4 26.7l-1.5 .5M290.4 22.4l-1.5 .5M290.4 18.1l-1.5 .5M290.4 13.8l-1.5 .5M290.4 9.5l-1.5 .5M293.4 31l-1.5 .5M293.4 26.7l-1.5 .5M293.4 22.4l-1.5 .5M293.4 18.1l-1.5 .5M293.4 13.8l-1.5 .5M293.4 9.5l-1.5 .5M296.3 31l-1.5 .5M296.3 26.7l-1.5 .5M296.3 22.4l-1.5 .5M296.3 18.1l-1.5 .5M296.3 13.8l-1.5 .5M296.3 9.5l-1.5 .5M299.3 31l-1.5 .6M299.3 26.7l-1.5 .5M299.3 22.4l-1.5 .5M299.3 18.1l-1.5 .5M299.3 13.8l-1.5 .5M299.3 9.5l-1.5 .5M302.2 31l-1.5 .7M302.2 26.7l-1.5 .6M302.2 22.4l-1.5 .6M302.2 18.1l-1.5 .5M302.2 13.8l-1.5 .5M302.2 9.5l-1.5 .5M305.2 22.4l-1.5 .7M305.2 18.1l-1.5 .6M305.2 13.8l-1.5 .5M305.2 9.5l-1.5 .5M308.1 18.1l-1.5 .6M308.1 13.8l-1.5 .5M308.1 9.5l-1.5 .5M311.1 13.8l-1.5 .6M311.1 9.5l-1.5 .5M314 13.8l-1.6 .6M314 9.5l-1.5 .5M317 13.8l-1.6 .6M317 9.5l-1.5 .5M319.9 35.3l-.1 1.3M319.9 13.8l-1.6 .5M319.9 9.5l-1.5 .5M322.9 39.6l1.1 .5M322.9 13.8l-1.6 .5M322.9 9.5l-1.5 .5M325.8 43.9l1.2 -1.1M325.8 39.6l.3 -1.3M325.8 35.3l-.8 -.8M325.8 13.8l-1.5 .5M325.8 9.5l-1.5 .5M328.8 52.5l1.4 .6M328.8 48.2l1.5 0M328.8 43.9l1.2 -.5M328.8 39.6l.7 -.8M328.8 18.1l-1.6 .5M328.8 13.8l-1.5 .5M328.8 9.5l-1.5 .5M331.7 56.9l1.1 1.3M331.7 52.5l1.1 1.1M331.7 48.2l1.2 .9M331.7 43.9l1.1 .7M331.7 39.6l1 .7M331.7 35.3l.8 .9M331.7 22.4l-1.6 .5M331.7 18.1l-1.5 .5M331.7 13.8l-1.5 .5M331.7 9.5l-1.5 .5M334.6 52.5l1 1.3M334.6 48.2l1 1.3M334.6 43.9l1 1.2M334.6 39.6l1 1.2M334.6 35.3l1 1.2M334.6 31l-1.6 .4M334.6 26.7l-1.5 .5M334.6 22.4l-1.5 .5M334.6 18.1l-1.5 .5M334.6 13.8l-1.5 .5M334.6 9.5l-1.5 .5M337.6 43.9l1 1.4M337.6 39.6l1 1.4M337.6 35.3l1 1.4M337.6 31l-1.5 .5M337.6 26.7l-1.5 .5M337.6 22.4l-1.5 .5M337.6 18.1l-1.5 .5M337.6 13.8l-1.5 .5M337.6 9.5l-1.5 .5M340.5 31l-1.5 .5M340.5 26.7l-1.5 .5M340.5 22.4l-1.5 .5M340.5 18.1l-1.5 .5M340.5 13.8l-1.5 .5M340.5 9.5l-1.5 .5M343.5 31l-1.5 .5M343.5 26.7l-1.5 .5M343.5 22.4l-1.5 .5M343.5 18.1l-1.5 .5M343.5 13.8l-1.5 .5M343.5 9.5l-1.5 .5M346.4 31l-1.5 .5M346.4 26.7l-1.5 .5M346.4 22.4l-1.5 .5M346.4 18.1l-1.5 .5M346.4 13.8l-1.5 .5M346.4 9.5l-1.5 .5M349.4 31l-1.5 .5M349.4 26.7l-1.5 .5M349.4 22.4l-1.5 .5M349.4 18.1l-1.5 .5M349.4 13.8l-1.5 .5M349.4 9.5l-1.5 .5M352.3 31l-1.5 .5M352.3 26.7l-1.5 .5M352.3 22.4l-1.5 .5M352.3 18.1l-1.5 .5M352.3 13.8l-1.5 .5M352.3 9.5l-1.5 .5M355.3 31l-1.5 .5M355.3 26.7l-1.5 .5M355.3 22.4l-1.5 .5M355.3 18.1l-1.5 .5M355.3 13.8l-1.5 .5M355.3 9.5l-1.5 .5M358.2 31l-1.5 .5M358.2 26.7l-1.5 .5M358.2 22.4l-1.5 .5M358.2 18.1l-1.5 .5M358.2 13.8l-1.5 .5M358.2 9.5l-1.5 .5M361.2 31l-1.5 .5M361.2 26.7l-1.5 .5M361.2 22.4l-1.5 .5M361.2 18.1l-1.5 .5M361.2 13.8l-1.5 .5M361.2 9.5l-1.5 .5M364.1 74.1l.9 1.3M364.1 69.8l.9 1.3M364.1 65.5l.9 1.3M364.1 61.2l.9 1.3M364.1 56.9l.9 1.3M364.1 52.5l.9 1.3M364.1 48.2l.9 1.3M364.1 43.9l.9 1.3M364.1 39.6l.9 1.3M364.1 35.3l.9 1.3M364.1 31l-1.4 .5M364.1 26.7l-1.4 .5M364.1 22.4l-1.4 .5M364.1 18.1l-1.4 .5M364.1 13.8l-1.4 .5M364.1 9.5l-1.4 .5M367.1 82.7l1 -1.2M367.1 78.4l1 -1.2M367.1 74.1l.8 1.1M367.1 69.8l.8 1.1M367.1 65.5l.8 1.1M367.1 61.2l.8 1.1M367.1 56.9l.8 1.1M367.1 52.5l.8 1.1M367.1 48.2l.8 1.1M367.1 43.9l.8 1.1M367.1 39.6l.8 1.1M367.1 35.3l.8 1.1M367.1 31l-1.2 .4M367.1 26.7l-1.2 .4M367.1 22.4l-1.2 .4M367.1 18.1l-1.2 .4M367.1 13.8l-1.2 .4M367.1 9.5l-1.2 .4M370 99.9l1.3 -.9M370 95.6l1.2 -.9M370 91.3l1 -.9M370 87l.9 -.9M370 82.7l.7 -.9M370 78.4l.7 -.9M370 74.1l.6 .8M370 69.8l.6 .8M370 65.5l.6 .8M370 61.2l.6 .8M370 56.9l.6 .8M370 52.5l.6 .8M370 48.2l.6 .8M370 43.9l.6 .8M370 39.6l.6 .8M370 35.3l.6 .8M373 104.2l1.1 -.6M373 99.9l1 -.6M373 95.6l.9 -.6M373 91.3l.8 -.6M375.9 104.2l1 -.4" stroke="#444" stroke-width="1" fill="none"/>
</g>
<path d="M287.5 108.5v3.5M293.4 108.5v2M299.3 108.5v2M305.2 108.5v2M311.1 108.5v2M317 108.5v3.5M322.9 108.5v2M328.8 108.5v2M334.6 108.5v2M340.5 108.5v2M346.4 108.5v3.5M352.3 108.5v2M358.2 108.5v2M364.1 108.5v2M370 108.5v2M375.9 108.5v3.5M381.8 108.5v2M387.7 108.5v2M393.6 108.5v2M399.5 108.5v2M405.4 108.5v3.5M411.3 108.5v2M417.2 108.5v2M423 108.5v2M428.9 108.5v2M434.8 108.5v3.5M440.7 108.5v2M446.6 108.5v2M452.5 108.5v2M458.4 108.5v2M464.3 108.5v3.5M287.5 108.5h-3.5M287.5 104.2h-2M287.5 99.9h-2M287.5 95.6h-2M287.5 91.3h-3.5M287.5 87h-2M287.5 82.7h-2M287.5 78.4h-2M287.5 74.1h-3.5M287.5 69.8h-2M287.5 65.5h-2M287.5 61.2h-2M287.5 56.9h-3.5M287.5 52.5h-2M287.5 48.2h-2M287.5 43.9h-2M287.5 39.6h-3.5M287.5 35.3h-2M287.5 31h-2M287.5 26.7h-2M287.5 22.4h-3.5M287.5 18.1h-2M287.5 13.8h-2M287.5 9.5h-2M287.5 5.2h-3.5" stroke="#333" stroke-width="0.7" fill="none"/>
<rect x="287.5" y="5.2" width="176.8" height="103.3" fill="none" stroke="#333" stroke-width="1"/>
<text x="287.5" y="119.7" text-anchor="middle" class="tk">0</text>
<text x="317" y="119.7" text-anchor="middle" class="tk">5</text>
<text x="346.4" y="119.7" text-anchor="middle" class="tk">10</text>
<text x="375.9" y="119.7" text-anchor="middle" class="tk">15</text>
<text x="405.4" y="119.7" text-anchor="middle" class="tk">20</text>
<text x="434.8" y="119.7" text-anchor="middle" class="tk">25</text>
<text x="464.3" y="119.7" text-anchor="middle" class="tk">30</text>
<text x="282.5" y="111.2" text-anchor="end" class="tk">0</text>
<text x="282.5" y="94" text-anchor="end" class="tk">2</text>
<text x="282.5" y="76.8" text-anchor="end" class="tk">4</text>
<text x="282.5" y="59.6" text-anchor="end" class="tk">6</text>
<text x="282.5" y="42.3" text-anchor="end" class="tk">8</text>
<text x="282.5" y="25.1" text-anchor="end" class="tk">10</text>
<text x="282.5" y="7.9" text-anchor="end" class="tk">12</text>
<text x="292" y="20.8" class="lt">(e)</text>
<text x="359.8" y="22.8" class="pt">t = 0.1 s</text>
<text x="420.8" y="25.5" class="pt">0.2 m/s</text>
<path d="M431.9 13.4h5.5" stroke="#222" stroke-width="0.75"/><path d="M438.4 13.4l-1.6 -.75v1.5z" fill="#222"/>
<rect x="227.3" y="5.2" width="5.4" height="103.3" fill="url(#cbs)" stroke="#333" stroke-width="0.6"/>
<text x="237.3" y="110.7" class="cb">0</text>
<text x="237.3" y="59.1" class="cb">200</text>
<text x="237.3" y="7.4" class="cb">400(Pa)</text>
<path d="M232.7 108.5h2M232.7 56.9h2M232.7 5.2h2" stroke="#333" stroke-width="0.6"/>
<rect x="475.5" y="5.2" width="5.4" height="103.3" fill="url(#cbd)" stroke="#333" stroke-width="0.6"/>
<text x="485.5" y="110.7" class="cb">-300</text>
<text x="485.5" y="84.9" class="cb">-150</text>
<text x="485.5" y="59.1" class="cb">0</text>
<text x="485.5" y="33.2" class="cb">150</text>
<text x="485.5" y="7.4" class="cb">300 (Pa)</text>
<path d="M480.9 108.5h2M480.9 82.7h2M480.9 56.9h2M480.9 31h2M480.9 5.2h2" stroke="#333" stroke-width="0.6"/>
<text x="9.8" y="43" text-anchor="middle" class="al">x<tspan class="sub" dy="1.8">2</tspan></text>
<text x="11" y="53.7" text-anchor="middle" class="al">(cm)</text>
<text x="260.8" y="61.8" class="cl">p<tspan class="sub2" dy="1.3">s</tspan></text>
<text x="510.4" y="61.8" class="cl">p<tspan class="sub2" dy="1.3">d</tspan></text>
<g clip-path="url(#c01)"><rect x="39.4" y="129.2" width="176.9" height="103.3" fill="#fdfafb"/><g filter="url(#bl)"><path d="M30.6 245.4 147.2 245.4 147.2 232.5 146.4 230.5 142.9 225.3 136.7 220.6 129.6 217.4 119 213.7 107.5 211.9 82.7 205.1 73.5 198.9 56.2 186.4 39.4 178.9 30.6 178.9 30.6 245.4Z" fill="#fdf4f5" fill-rule="evenodd"/><path d="M30.6 245.4 146.6 245.4 146.6 232.5 142 226 136.7 222.1 129.6 218.9 119 215.2 107.5 213.3 82.7 206.5 73.4 200.2 56.2 187.7 39.4 180.2 30.6 180.2 30.6 245.4Z" fill="#fbe8ea" fill-rule="evenodd"/><path d="M30.6 245.4 145.7 245.4 145.7 232.5 142 227.5 136.7 223.7 129.6 220.5 119 216.7 107.5 214.8 82.7 207.9 73.3 201.5 56.2 189.1 39.4 181.6 30.6 181.6 30.6 245.4Z" fill="#f8dade" fill-rule="evenodd"/><path d="M30.6 245.4 144.6 245.4 144.6 232.5 142 229.1 136.7 225.2 129.6 222 119 218.3 107.5 216.3 82.7 209.3 73.9 203.3 56.2 190.4 39.4 183 30.6 183 30.6 245.4Z" fill="#f6cbd0" fill-rule="evenodd"/><path d="M30.6 245.4 143.4 245.4 143.4 232.5 142 230.9 136.7 227 128.7 223.4 119 220 107.5 218 82.7 210.8 56.2 192 39.4 184.5 30.6 184.5 30.6 245.4Z" fill="#f2b2b9" fill-rule="evenodd"/><path d="M30.6 245.4 141.7 245.4 141.7 232.5 136.7 228.8 128.7 225.2 119 221.7 107.5 219.7 82.7 212.4 56.2 193.5 39.4 186 30.6 186 30.6 245.4Z" fill="#ed929d" fill-rule="evenodd"/><path d="M30.6 245.4 138.4 245.4 138.4 232.5 136.7 231.2 129.6 228 119 224.1 107.5 222 82.7 214.5 56.2 195.5 39.4 188.1 30.6 188.1 30.6 245.4Z" fill="#e86e7d" fill-rule="evenodd"/><path d="M30.6 245.4 133.7 245.4 133.7 232.5 128.7 230.2 119 226.7 107.5 224.5 82.7 216.7 56.2 197.7 39.4 190.2 30.6 190.2 30.6 245.4Z" fill="#e55463" fill-rule="evenodd"/><path d="M30.6 245.4 127.2 245.4 127.2 232.5 119 229.4 107.5 227.1 82.7 219.1 56.2 200 39.4 192.5 30.6 192.4 30.6 245.4Z" fill="#e23a49" fill-rule="evenodd"/><path d="M30.6 245.4 118.9 245.4 118.9 232.5 107.5 230 82.7 221.7 56.2 202.4 39.4 194.9 30.6 194.9 30.6 245.4Z" fill="#de2332" fill-rule="evenodd"/><path d="M30.6 245.4 102.8 245.4 102.8 232.5 82.7 225.3 56.2 205.8 39.4 198.3 30.6 198.3 30.6 245.4Z" fill="#d70f1e" fill-rule="evenodd"/><path d="M30.6 245.4 90.6 245.4 90.6 232.5 81.9 229.1 56.2 209.9 39.4 202.3 30.6 202.3 30.6 245.4Z" fill="#cd0413" fill-rule="evenodd"/><path d="M30.6 245.4 79.1 245.4 79.1 232.5 56.2 215 39.4 207.4 30.6 207.4 30.6 245.4Z" fill="#c00110" fill-rule="evenodd"/><path d="M30.6 245.4 69.4 245.4 69.4 232.5 57.1 222.8 50.5 219.6 39.4 214.5 30.6 214.5 30.6 245.4Z" fill="#b00110" fill-rule="evenodd"/><path d="M30.6 245.4 49.2 245.4 49.2 232.5 39.4 227.9 30.6 227.7 30.6 245.4Z" fill="#9f0411" fill-rule="evenodd"/></g>
<path d="M39.4 177.6 40.7 178.2 42.1 178.8 43.4 179.4 44.8 179.9 46.1 180.5 47.4 181.1 48.8 181.7 50.1 182.3 51.4 182.9 52.8 183.5 54.1 184.1 55.5 184.7 56.8 185.4 58.1 186.3 59.5 187.3 60.8 188.3 62.1 189.3 63.5 190.3 64.8 191.2 66.2 192.2 67.5 193.2 68.8 194.2 70.2 195.1 71.5 196.1 72.8 197.1 74.2 198 75.5 198.9 76.9 199.9 78.2 200.8 79.5 201.7 80.9 202.6 82.2 203.5 83.6 203.9 84.9 204.3 86.2 204.6 87.6 205 88.9 205.3 90.2 205.7 91.6 206 92.9 206.4 94.3 206.7 95.6 207.1 96.9 207.5 98.3 207.9 99.6 208.2 100.9 208.6 102.3 209 103.6 209.4 105 209.8 106.3 210.1 107.6 210.5 109 210.7 110.3 210.9 111.6 211.1 113 211.3 114.3 211.6 115.7 211.8 117 212 118.3 212.2 119.7 212.5 121 213 122.3 213.4 123.7 213.9 125 214.3 126.4 214.8 127.7 215.3 129 215.7 130.4 216.3 131.7 216.9 133.1 217.5 134.4 218.1 135.7 218.7 137.1 219.4 138.4 220.4 139.7 221.4 141.1 222.4 142.4 223.3 143.8 225.2 145.1 227.1 146.4 229.1 147.8 232.6 149.1 236.4 150.4 236.4 151.8 236.4 153.1 236.4 154.5 236.4 155.8 236.4 157.1 236.4 158.5 236.4 159.8 236.4 161.1 236.4 162.5 236.4 163.8 236.4 165.2 236.4 166.5 236.4 167.8 236.4 169.2 236.4 170.5 236.4 171.9 236.4 173.2 236.4 174.5 236.4 175.9 236.4 177.2 236.4 178.5 236.4 179.9 236.4 181.2 236.4 182.6 236.4 183.9 236.4 185.2 236.4 186.6 236.4 187.9 236.4 189.2 236.4 190.6 236.4 191.9 236.4 193.3 236.4 194.6 236.4 195.9 236.4 197.3 236.4 198.6 236.4M39.4 180.6 40.7 181.2 42.1 181.8 43.4 182.4 44.8 183 46.1 183.6 47.4 184.1 48.8 184.7 50.1 185.3 51.4 185.9 52.8 186.5 54.1 187.1 55.5 187.7 56.8 188.4 58.1 189.4 59.5 190.3 60.8 191.3 62.1 192.3 63.5 193.3 64.8 194.2 66.2 195.2 67.5 196.2 68.8 197.2 70.2 198.1 71.5 199.1 72.8 200.1 74.2 201 75.5 202 76.9 202.9 78.2 203.8 79.5 204.7 80.9 205.6 82.2 206.5 83.6 207 84.9 207.3 86.2 207.6 87.6 208 88.9 208.3 90.2 208.7 91.6 209 92.9 209.4 94.3 209.8 95.6 210.1 96.9 210.5 98.3 210.9 99.6 211.3 100.9 211.6 102.3 212 103.6 212.4 105 212.8 106.3 213.1 107.6 213.5 109 213.7 110.3 213.9 111.6 214.2 113 214.4 114.3 214.6 115.7 214.8 117 215 118.3 215.2 119.7 215.5 121 216 122.3 216.4 123.7 216.9 125 217.4 126.4 217.8 127.7 218.3 129 218.7 130.4 219.3 131.7 219.9 133.1 220.5 134.4 221.1 135.7 221.7 137.1 222.4 138.4 223.4 139.7 224.4 141.1 225.4 142.4 226.3 143.8 228.2 145.1 230.1 146.4 232.1 147.8 235.6 149.1 239.4 150.4 239.4 151.8 239.4 153.1 239.4 154.5 239.4 155.8 239.4 157.1 239.4 158.5 239.4 159.8 239.4 161.1 239.4 162.5 239.4 163.8 239.4 165.2 239.4 166.5 239.4 167.8 239.4 169.2 239.4 170.5 239.4 171.9 239.4 173.2 239.4 174.5 239.4 175.9 239.4 177.2 239.4 178.5 239.4 179.9 239.4 181.2 239.4 182.6 239.4 183.9 239.4 185.2 239.4 186.6 239.4 187.9 239.4 189.2 239.4 190.6 239.4 191.9 239.4 193.3 239.4 194.6 239.4 195.9 239.4 197.3 239.4 198.6 239.4" stroke="#5f9440" stroke-width="0.65" fill="none"/>
<path d="M81.3 200.2 84.2 195.5 87.2 192 90.7 190.7 94.8 192.7" stroke="#333" stroke-width="0.6" fill="none"/>
<path d="M119.6 215.7 123.1 212.3 127.3 211.8 131.4 213.6" stroke="#333" stroke-width="0.6" fill="none"/>
<path d="M42.3 180.9l2.4 .8M45.3 185.2l2.5 .9M45.3 180.9l2.5 .9M48.2 185.2l2.6 .9M51.2 185.2l2.6 .9M54.1 189.5l2.7 .9M54.1 185.2l2.7 .9M57.1 189.5l2.7 1.3M60 189.5l2.7 1.5M63 198.1l1.9 1.1M63 193.8l2.8 1.5M65.9 202.4l2 1.1M65.9 198.1l2 1.1M65.9 193.8l2.9 1.6M68.9 202.4l2.1 1.2M68.9 198.1l3 1.6M71.8 206.7l2.2 1.2M71.8 202.4l2.2 1.2M71.8 198.1l3.1 1.7M74.8 206.7l2.3 1.2M74.8 202.4l3.2 1.7M77.7 211l2.4 1.2M77.7 206.7l2.4 1.2M77.7 202.4l3.3 1.7M80.7 211l2.5 1.3M80.7 206.7l3.4 1.7M83.6 206.7l4.8 1.3M86.6 223.9l2.4 .2M86.6 219.6l2.4 .2M86.6 215.3l2.4 .2M86.6 211l5.4 .5M86.6 206.7l5.4 .5M89.5 228.2l2.9 .3M89.5 223.9l2.9 .3M89.5 219.6l2.9 .3M89.5 215.3l2.9 .3M89.5 211l5.9 .5M89.5 206.7l5.9 .5M92.5 228.2l3.3 .3M92.5 223.9l3.3 .3M92.5 219.6l3.3 .3M92.5 215.3l3.3 .3M92.5 211l6.3 .6M92.5 206.7l6.3 .6M95.4 228.2l3.8 .4M95.4 223.9l3.8 .4M95.4 219.6l3.8 .4M95.4 215.3l3.8 .4M95.4 211l6.8 .6M98.4 228.2l4.2 .4M98.4 223.9l4.2 .4M98.4 219.6l4.2 .4M98.4 215.3l4.2 .4M98.4 211l7.2 .7M101.3 228.2l4.7 .4M101.3 223.9l4.7 .4M101.3 219.6l4.7 .4M101.3 215.3l4.7 .4M101.3 211l7.7 .7M104.3 228.2l5.1 .5M104.3 223.9l5.1 .5M104.3 219.6l5.1 .5M104.3 215.3l8.1 .8M104.3 211l8.1 .8M107.2 228.2l5.6 .5M107.2 223.9l5.6 .5M107.2 219.6l5.6 .5M107.2 215.3l8.6 .7M107.2 211l8.6 .7M110.2 228.2l6 .3M110.2 223.9l6 .3M110.2 219.6l6 .3M110.2 215.3l9 .5M110.2 211l9 .5M113.1 228.2l6.5 .3M113.1 223.9l6.5 .3M113.1 219.6l6.5 .3M113.1 215.3l9.5 .5M116.1 228.2l6.9 .4M116.1 223.9l6.9 .4M116.1 219.6l6.9 .4M116.1 215.3l9.9 .5M119 228.2l7.4 .6M119 223.9l7.4 .6M119 219.6l7.4 .6M119 215.3l10.4 .9M122 228.2l7.8 .9M122 223.9l7.8 .9M122 219.6l10.8 1.3M122 215.3l10.8 1.3M124.9 228.2l8.2 1M124.9 223.9l8.2 1M124.9 219.6l11.2 1.3M124.9 215.3l11.2 1.3M127.8 228.2l8.7 1.1M127.8 223.9l8.7 1.1M127.8 219.6l11.7 1.4M130.8 228.2l9.1 1.4M130.8 223.9l9.1 1.4M130.8 219.6l12.1 1.8M133.7 228.2l9.5 1.4M133.7 223.9l12.5 1.9M133.7 219.6l12.5 1.9M136.7 228.2l9.9 1.9M136.7 223.9l10.4 2M136.7 219.6l10.4 2M139.6 228.2l7.5 1.7M139.6 223.9l7.5 1.7M142.6 228.2l4.5 1.4M142.6 223.9l4.5 1.4M93.5 197.5l13.4 -4.7M96.2 200.2l17 -2.7M97.2 203.7l14.8 -1.3M91.9 202.4l8 -2.5M99.5 206.7l13 .5M88.9 198.9l5 -3.5M86.6 203.2l4 -2.8M84.2 200.6l1.5 -4M94.8 193.8l9 -3M90.1 205.8l6 1M82.4 205l3 -.5M122 212.7l5 -.8M125.5 213.6l5 .6M129 216.1l5 1M120.2 216.1l2.5 -1.8M117.2 211.8l6 1.2" stroke="#111" stroke-width="0.5" fill="none"/>
<path d="M43.3 181.2l1.4 .5M46.3 185.5l1.4 .5M46.3 181.2l1.4 .5M49.4 185.5l1.4 .5M52.4 185.6l1.4 .5M55.5 189.9l1.4 .5M55.5 185.6l1.4 .5M58.4 190.1l1.3 .7M61.4 190.2l1.3 .7M63.8 198.5l1.2 .6M64.5 194.6l1.3 .7M66.7 202.8l1.2 .7M66.7 198.5l1.2 .7M67.5 194.6l1.3 .7M69.7 202.8l1.3 .7M70.5 199l1.3 .7M72.7 207.2l1.3 .7M72.7 202.9l1.3 .7M73.6 199l1.3 .7M75.8 207.2l1.3 .7M76.6 203.3l1.3 .7M78.8 211.5l1.3 .7M78.8 207.2l1.3 .7M79.7 203.4l1.3 .7M81.8 211.6l1.3 .7M82.7 207.7l1.3 .7M87 207.6l1.5 .4M87.5 224l1.5 .1M87.5 219.7l1.5 .1M87.5 215.4l1.5 .1M90.5 211.3l1.5 .1M90.5 207l1.5 .1M90.9 228.3l1.5 .1M90.9 224l1.5 .1M90.9 219.7l1.5 .1M90.9 215.4l1.5 .1M93.9 211.4l1.5 .1M93.9 207.1l1.5 .1M94.3 228.4l1.5 .1M94.3 224.1l1.5 .1M94.3 219.8l1.5 .1M94.3 215.5l1.5 .1M97.3 211.4l1.5 .1M97.3 207.1l1.5 .1M97.7 228.4l1.5 .1M97.7 224.1l1.5 .1M97.7 219.8l1.5 .1M97.7 215.5l1.5 .1M100.7 211.5l1.5 .1M101.1 228.5l1.5 .1M101.1 224.2l1.5 .1M101.1 219.9l1.5 .1M101.1 215.5l1.5 .1M104.1 211.5l1.5 .1M104.5 228.5l1.5 .1M104.5 224.2l1.5 .1M104.5 219.9l1.5 .1M104.5 215.6l1.5 .1M107.5 211.6l1.5 .1M107.9 228.5l1.5 .1M107.9 224.2l1.5 .1M107.9 219.9l1.5 .1M110.9 215.9l1.5 .1M110.9 211.6l1.5 .1M111.3 228.5l1.5 .1M111.3 224.2l1.5 .1M111.3 219.9l1.5 .1M114.3 215.9l1.5 .1M114.3 211.6l1.5 .1M114.7 228.4l1.5 .1M114.7 224.1l1.5 .1M114.7 219.8l1.5 .1M117.7 215.7l1.5 .1M117.7 211.4l1.5 .1M118.1 228.5l1.5 .1M118.1 224.2l1.5 .1M118.1 219.9l1.5 .1M121.1 215.7l1.5 .1M121.5 228.5l1.5 .1M121.5 224.2l1.5 .1M121.5 219.9l1.5 .1M124.5 215.7l1.5 .1M124.9 228.7l1.5 .1M124.9 224.4l1.5 .1M124.9 220.1l1.5 .1M127.9 216l1.5 .1M128.3 228.9l1.5 .2M128.3 224.6l1.5 .2M131.2 220.7l1.5 .2M131.2 216.4l1.5 .2M131.7 229l1.5 .2M131.7 224.7l1.5 .2M134.6 220.7l1.5 .2M134.6 216.4l1.5 .2M135 229.1l1.5 .2M135 224.8l1.5 .2M138 220.8l1.5 .2M138.4 229.3l1.5 .2M138.4 225l1.5 .2M141.4 221.2l1.5 .2M141.8 229.4l1.5 .2M144.8 225.5l1.5 .2M144.8 221.2l1.5 .2M145.1 229.8l1.5 .3M145.7 225.6l1.5 .3M145.7 221.3l1.5 .3M145.7 229.5l1.5 .3M145.7 225.2l1.5 .3M145.7 229.1l1.4 .4M145.7 224.8l1.4 .4M105.5 193.3l1.4 -.5M111.7 197.8l1.5 -.2M110.5 202.5l1.5 -.1M98.4 200.3l1.4 -.4M111 207.1l1.5 .1M92.7 196.3l1.2 -.9M89.3 201.3l1.2 -.9M85.2 198.1l.5 -1.4M102.4 191.2l1.4 -.5M94.6 206.6l1.5 .2M84 204.7l1.5 -.2M125.5 212.1l1.5 -.2M129 214l1.5 .2M132.6 216.8l1.5 .3M121.5 215.2l1.2 -.9M121.8 212.7l1.5 .3" stroke="#111" stroke-width="1.2" fill="none"/>
<path d="M42.3 189.5l1.3 .4M42.3 185.2l1.3 .4M45.3 189.5l1.3 .5M48.2 189.5l1.4 .5M51.2 193.8l1.4 .5M51.2 189.5l1.4 .5M54.1 193.8l1.5 .5M57.1 193.8l1.4 .7M60 198.1l1.4 .8M60 193.8l1.4 .8M83.6 215.3l1.5 .4M83.6 211l1.5 .4M145.5 228.2l1.4 .5" stroke="#444" stroke-width="1" fill="none"/>
</g>
<path d="M39.4 232.5v3.5M45.3 232.5v2M51.2 232.5v2M57.1 232.5v2M63 232.5v2M68.9 232.5v3.5M74.8 232.5v2M80.7 232.5v2M86.6 232.5v2M92.5 232.5v2M98.4 232.5v3.5M104.3 232.5v2M110.2 232.5v2M116.1 232.5v2M122 232.5v2M127.8 232.5v3.5M133.7 232.5v2M139.6 232.5v2M145.5 232.5v2M151.4 232.5v2M157.3 232.5v3.5M163.2 232.5v2M169.1 232.5v2M175 232.5v2M180.9 232.5v2M186.8 232.5v3.5M192.7 232.5v2M198.6 232.5v2M204.5 232.5v2M210.4 232.5v2M216.3 232.5v3.5M39.4 232.5h-3.5M39.4 228.2h-2M39.4 223.9h-2M39.4 219.6h-2M39.4 215.3h-3.5M39.4 211h-2M39.4 206.7h-2M39.4 202.4h-2M39.4 198.1h-3.5M39.4 193.8h-2M39.4 189.5h-2M39.4 185.2h-2M39.4 180.8h-3.5M39.4 176.5h-2M39.4 172.2h-2M39.4 167.9h-2M39.4 163.6h-3.5M39.4 159.3h-2M39.4 155h-2M39.4 150.7h-2M39.4 146.4h-3.5M39.4 142.1h-2M39.4 137.8h-2M39.4 133.5h-2M39.4 129.2h-3.5" stroke="#333" stroke-width="0.7" fill="none"/>
<rect x="39.4" y="129.2" width="176.9" height="103.3" fill="none" stroke="#333" stroke-width="1"/>
<text x="39.4" y="243.7" text-anchor="middle" class="tk">0</text>
<text x="68.9" y="243.7" text-anchor="middle" class="tk">5</text>
<text x="98.4" y="243.7" text-anchor="middle" class="tk">10</text>
<text x="127.8" y="243.7" text-anchor="middle" class="tk">15</text>
<text x="157.3" y="243.7" text-anchor="middle" class="tk">20</text>
<text x="186.8" y="243.7" text-anchor="middle" class="tk">25</text>
<text x="216.3" y="243.7" text-anchor="middle" class="tk">30</text>
<text x="34.4" y="235.2" text-anchor="end" class="tk">0</text>
<text x="34.4" y="218" text-anchor="end" class="tk">2</text>
<text x="34.4" y="200.8" text-anchor="end" class="tk">4</text>
<text x="34.4" y="183.5" text-anchor="end" class="tk">6</text>
<text x="34.4" y="166.3" text-anchor="end" class="tk">8</text>
<text x="34.4" y="149.1" text-anchor="end" class="tk">10</text>
<text x="34.4" y="131.9" text-anchor="end" class="tk">12</text>
<text x="43.9" y="144.8" class="lt">(b)</text>
<text x="111.7" y="146.8" class="pt">t = 0.4 s</text>
<text x="172.7" y="149.5" class="pt">0.2 m/s</text>
<path d="M183.8 137.4h5.5" stroke="#222" stroke-width="0.75"/><path d="M190.3 137.4l-1.6 -.75v1.5z" fill="#222"/>
<g clip-path="url(#c11)"><g filter="url(#bl)"><path d="M278.7 245.4 332.8 245.4 331.1 219.6 329.9 212.9 326.9 201.5 326.2 196.3 326.4 189.9 328.8 174.4 329.5 164.1 328.7 152.4 325.1 116.3 278.7 116.3 278.7 245.4Z" fill="#fef8f8" fill-rule="evenodd"/><path d="M278.7 245.4 331.9 245.4 330.5 219.6 329.1 211.8 326.2 201.5 325.5 196.3 325.7 189.9 327.3 180.9 328.1 173.1 328 161.5 324.6 134.4 321.6 116.3 278.7 116.3 278.7 245.4Z" fill="#fdf2f3" fill-rule="evenodd"/><path d="M278.7 245.4 331 245.4 330.5 228.6 329.8 219.6 328.3 211.8 325.4 201.5 324.7 196.3 324.9 189.9 326.6 180.9 327.1 174.4 327.2 169.2 326.7 162.8 324.6 150 322.9 143.3 321.1 139.3 320.2 138.2 318.4 136.9 313.1 136.1 278.7 136.1 278.7 245.4Z" fill="#fbebed" fill-rule="evenodd"/><path d="M278.7 245.4 329.9 245.4 328.9 220.9 327.4 213.1 324.2 202.8 323.2 196.3 323.5 189.9 325.3 180.9 325.6 174.4 325.3 169.2 323.7 162.2 322 159.1 320.2 157.8 314.9 157 278.7 157 278.7 245.4Z" fill="#fae3e6" fill-rule="evenodd"/><path d="M278.7 245.4 328.1 245.4 327.2 222.2 326.2 217 321.7 204.1 320.6 197.6 320.7 189.9 322.7 180.9 321.4 175.7 319.3 173.3 316.7 172.4 312.3 172 278.7 172 278.7 245.4Z" fill="#f8dadd" fill-rule="evenodd"/><path d="M334.8 245.4 430.3 245.4 432.9 223.5 433.5 209.3 432.9 197.6 429.9 173.1 429 161.5 428.6 146 428.5 116.3 335.3 116.3 335.5 138.2 334.9 149.9 334 156.3 327.8 186 327 193.8 327.6 200.2 332.1 219.6 334.8 245.4Z" fill="#f7f7fe" fill-rule="evenodd"/><path d="M337.9 245.4 410 245.4 414.6 233.8 417 224.8 418.4 214.4 418.2 205.4 417.1 197.6 414.7 188.6 411.8 180.9 404.1 162.8 400.9 152.4 399.9 146 399.4 139.5 399 116.3 364.6 116.3 364.4 130.5 363.7 139.5 362.2 146 359.3 152.4 355.3 157.6 352 160.5 347.6 162.6 339.7 164.5 337 165.5 334.4 167.4 332.6 170 330.8 174.7 328.6 184.7 327.6 191.2 327.6 196.3 328.3 201.5 332.7 219.6 335.2 236 336.1 240.2 337.9 245.4Z" fill="#f1f1fe" fill-rule="evenodd"/><path d="M346.3 244.1 348.2 245.4 394.7 245.4 399.4 240.2 403.3 234.3 407 226 409.2 217 409.6 209.3 408.3 200.2 405.1 191.2 400.6 183.4 394.5 176.3 390.9 173.3 387.4 171 383.9 169.3 380.3 168.1 373.2 167.5 367.9 168.1 358.8 170.5 355.6 171 352 170.8 344.1 169.1 339.7 169 337 169.5 335.2 170.4 332.6 173.2 330.8 177.5 328.5 187.3 327.9 193.8 328.5 200.2 337 233.4 338.8 237 340.5 239.3 346.3 244.1Z" fill="#e9e9fd" fill-rule="evenodd"/><path d="M363.2 242.8 367.1 243.4 371.5 243.5 375 243.1 379.4 242 383.9 240.2 387.4 238 390.9 235.1 393.6 232.3 396.2 228.6 398.3 224.8 399.8 220.9 401 215.7 401.3 211.8 401 206.7 399 198.9 395.7 192.5 391.8 187.7 387.4 183.9 382.1 180.9 377.7 179.4 372.4 178.5 367.9 178.5 360 179.2 357.3 179 354.7 178.1 347.6 174.2 344.1 172.7 340.5 172.1 337 172.6 335.2 173.3 333.5 174.8 331.7 177.7 329.6 184.7 328.4 192.5 328.6 197.6 329.3 201.5 335.2 221.1 337 225.1 338.8 227.9 341.4 231 345.8 234.8 353.8 239.7 358.2 241.5 363.2 242.8Z" fill="#e1e1fc" fill-rule="evenodd"/><path d="M359.9 233.8 367.1 235 375.9 234.4 382.1 232.7 384.7 231.4 387.4 229.4 391.1 224.8 392.3 222.2 393.3 218.3 393.6 214.4 393.4 210.5 391.5 202.8 389.6 198.9 386.7 195.1 383 191.7 379.4 189.6 375.9 188.2 371.5 187.2 360.9 187 358.2 186.4 355.6 184.9 349.4 179.2 345 176.2 340.5 174.8 337.9 174.9 336.1 175.5 333.5 177.4 331.7 180.3 329.9 186 328.9 192.5 329.5 200.2 333.5 213 336.1 218.3 338.8 221.2 352 230.3 355.6 232.2 359.9 233.8Z" fill="#d6d6fc" fill-rule="evenodd"/><path d="M376.9 229.9 381.2 229.6 384.7 227.9 387.4 225.4 389.3 222.2 390.2 218.3 390 214.4 388.9 210.5 386.5 206.8 381.2 202 374.1 197.6 369.7 196.2 360.9 195.8 358.2 194.9 355.6 192.2 349.4 183 346.7 180.3 344.1 178.4 341.4 177.4 338.8 177.1 336.1 177.7 334.4 178.8 332.6 181 330.8 185 329.7 189.9 329.4 195.1 329.8 198.9 331.1 204.1 333.5 210.3 336.1 214.7 337.9 216.2 340.5 217.5 350.3 219.5 360 224.6 367.1 226.7 373.2 229.2 376.9 229.9Z" fill="#cacafb" fill-rule="evenodd"/><path d="M375.4 227.3 379.4 228 381.2 227.6 383.9 226.4 386.7 223.5 388.3 219.6 388.5 217 388.1 214.4 386.5 210.8 384.7 208.8 383 207.5 379.4 206.2 375.9 206.1 372.4 207.2 370.6 208.4 368.8 210.1 367.4 213.1 367.4 217 369.3 222.2 372.4 225.7 375.4 227.3ZM338.4 213.1 341.4 213.8 344.1 213.5 346.7 212.5 349.4 210.8 350.9 209.3 352.4 206.7 353.1 204.1 353.3 201.5 352.7 196.3 351.7 192.5 348.7 186 346.7 183.3 344.1 180.9 341.4 179.6 338.8 179.2 335.2 180.2 332.6 183.1 330.5 188.6 329.9 193.8 330.5 200.2 332.6 206.1 335.2 210.7 337 212.4 338.4 213.1Z" fill="#bcbcf9" fill-rule="evenodd"/><path d="M376.5 226 379.4 226.5 383 225.4 385.6 222.8 387 219.6 387 215.7 385.6 212.3 383 209.6 380.3 208.5 376.8 208.5 374.1 209.7 372 211.8 370.4 215.7 370.7 219.6 371.8 222.2 374.1 224.8 376.5 226ZM339.2 210.5 341.4 210.5 343.2 210.1 345 209.1 346.7 207.4 348.1 205.4 349.2 202.8 349.9 197.6 348.9 191.2 346.5 186 343.2 182.4 341.4 181.4 338.8 180.9 337 181.1 335.2 181.9 332.6 184.9 330.8 189.9 330.3 195.1 331.1 200.2 333.5 206 336.1 209.2 339.2 210.5Z" fill="#aaaaf8" fill-rule="evenodd"/><path d="M376.8 224.8 379.4 225.2 382.1 224.5 384.7 222.2 385.8 219.6 385.8 215.7 384.7 213.2 383 211.3 380.3 210.1 377.7 210 375 211.2 373.2 213.1 372.2 215.7 372 218.3 372.7 220.9 374.7 223.5 376.8 224.8ZM337.4 208 340.5 208.3 342.3 207.6 344.1 206.4 346.6 202.8 347.9 197.6 347.5 192.5 345.7 187.3 344.1 185.1 342.3 183.5 340.5 182.6 338.8 182.3 336.1 182.8 333.5 185 331.7 188.6 330.8 193.8 331.3 198.9 332.6 202.8 334.4 205.7 336.1 207.4 337.4 208Z" fill="#9595f7" fill-rule="evenodd"/><path d="M377.2 223.5 379.4 223.9 381.2 223.5 383.1 222.2 384.6 219.6 384.8 217 384 214.4 382.1 212.3 380.3 211.5 377.7 211.6 375.9 212.5 374.2 214.4 373.7 215.7 373.4 218.3 374.1 220.6 375.2 222.2 377.2 223.5ZM335.6 205.4 337.9 206.5 339.7 206.6 341.4 206 343.2 204.7 344.7 202.8 346.2 198.9 346.5 193.8 345.6 189.9 343.2 185.8 341.4 184.4 339.7 183.6 337 183.7 334.4 185.3 332.6 188 331.6 191.2 331.3 195.1 331.8 198.9 333.5 203 335.6 205.4Z" fill="#7d7df5" fill-rule="evenodd"/><path d="M377.8 222.2 379.4 222.4 381.2 221.9 382.5 220.9 383.2 219.6 383.5 217 383.2 215.7 382.1 214.2 380.3 213.1 378.6 213 376.8 213.8 375.9 214.6 375 216.5 375.2 219.6 376 220.9 377.8 222.2ZM335.5 204.1 337 205 338.8 205.3 341.4 204.4 344 201.5 345.4 197.6 345.3 192.5 344 188.6 341.4 185.6 338.8 184.6 336.1 185.1 334.4 186.5 333 188.6 331.9 192.5 331.9 196.3 332.4 198.9 333.5 201.6 335.5 204.1Z" fill="#6868f3" fill-rule="evenodd"/><path d="M377.2 219.6 378.6 220.5 379.4 220.6 381.2 219.7 381.9 218.3 381.8 217 381.2 215.7 379.4 214.9 377.4 215.7 376.7 217 376.6 218.3 377.2 219.6ZM338.4 204.1 340.5 203.6 342.9 201.5 344.1 198.9 344.8 195.1 344.2 191.2 343.1 188.6 340.5 186.1 337.9 185.5 335.2 186.7 333.7 188.6 332.7 191.2 332.3 195.1 332.9 198.9 334.4 201.8 336.1 203.5 338.4 204.1Z" fill="#5151f1" fill-rule="evenodd"/><path d="M336.7 202.8 338.8 203.2 341.4 201.9 343.2 199.4 344 196.3 343.9 192.5 343 189.9 341.4 187.7 338.8 186.4 337 186.5 335.2 187.7 333.7 189.9 332.9 192.5 332.8 196.3 333.5 198.9 335 201.5 336.7 202.8Z" fill="#3737ee" fill-rule="evenodd"/><path d="M336.1 201.5 337.9 202.3 339.7 202.1 340.5 201.6 342.3 199.5 343.4 196.3 343.4 193.8 342.3 190 340.5 187.9 338.8 187.2 337 187.4 335.3 188.6 334.4 189.9 333.5 192.5 333.2 195.1 333.6 197.6 334.8 200.2 336.1 201.5Z" fill="#1717eb" fill-rule="evenodd"/><path d="M335.8 200.2 337.9 201.3 339.7 201.1 341.4 199.5 342.7 196.3 342.8 193.8 342.1 191.2 340.5 189 338.8 188.1 337 188.3 336.1 188.9 335.2 189.9 334 192.5 333.9 196.3 334.8 198.9 335.8 200.2Z" fill="#1313d2" fill-rule="evenodd"/><path d="M337.1 200.2 338.8 200.5 340.5 199.4 342.1 196.3 342.2 193.8 341.4 191.2 340.4 189.9 338.8 189 337 189.2 336.1 189.9 335.1 191.2 334.4 193.8 334.9 197.6 336.1 199.5 337.1 200.2Z" fill="#1111b4" fill-rule="evenodd"/><path d="M336.7 198.9 337.9 199.5 339.7 199.1 340.5 198.2 341.4 196.3 341.5 193.8 341.2 192.5 340.5 191.2 338.8 189.9 337 190.2 336 191.2 335.2 192.8 335.2 196.3 336.7 198.9Z" fill="#101090" fill-rule="evenodd"/><path d="M336.7 197.6 337.9 198.3 338.8 198.3 339.7 197.8 340.5 196.3 340.5 193.2 339.7 191.6 338.8 191 337 191.4 336.1 192.6 335.7 195.1 336.7 197.6Z" fill="#0e0e67" fill-rule="evenodd"/><path d="M337.3 196.3 337.9 196.8 338.8 196.7 339.7 195.2 339.6 193.8 338.8 192.7 337.9 192.5 336.9 193.8 336.8 195.1 337.3 196.3Z" fill="#0c0c46" fill-rule="evenodd"/></g>
<path d="M290.4 185.2l5.8 4.1M290.4 180.9l5.8 4.1M290.4 176.5l5.8 4.1M293.4 185.2l6 4.1M293.4 180.9l6.1 4.1M293.4 176.5l6.1 4.2M296.3 185.2l6.3 4.1M296.3 180.9l6.3 4.1M299.3 189.5l6.4 4M299.3 185.2l6.5 4M299.3 180.9l6.5 4M302.2 189.5l6.7 3.8M302.2 185.2l6.7 3.8M302.2 180.9l6.8 3.9M305.2 189.5l6.9 3.6M305.2 185.2l7 3.6M308.1 193.8l7 3.3M308.1 189.5l7.1 3.3M308.1 185.2l7.3 3.4M311.1 206.7l-.5 -2.2M311.1 202.4l-.3 -2.3M311.1 198.1l-.1 -2.3M311.1 193.8l7.2 3M311.1 189.5l7.4 3.1M311.1 185.2l.4 -2.3M311.1 180.9l.5 -2.2M314 219.6l-1 -2M314 215.3l-.9 -2.2M314 211l-.8 -2.4M314 206.7l-.6 -2.6M314 202.4l-.4 -2.8M314 198.1l7.2 2.6M314 193.8l7.5 2.6M314 189.5l7.7 2.7M314 185.2l.5 -2.7M314 180.9l.7 -2.6M314 176.5l.8 -2.4M314 172.2l.9 -2.2M314 167.9l1 -2M317 228.2l-1.3 -1.8M317 223.9l-1.2 -2M317 219.6l-1.2 -2.3M317 215.3l-1.1 -2.6M317 211l-1 -2.9M317 206.7l-.8 -3.3M317 202.4l-.5 -3.6M317 198.1l7.5 1.9M317 193.8l7.8 1.9M317 189.5l.6 -3.7M317 185.2l.9 -3.4M317 180.9l1 -3.1M317 176.5l1.1 -2.7M317 172.2l1.2 -2.5M317 167.9l1.2 -2.2M317 163.6l1.2 -2M319.9 228.2l-1.5 -2M319.9 223.9l-1.5 -2.2M319.9 219.6l-1.5 -2.6M319.9 215.3l-1.5 -3M319.9 211l-1.4 -3.6M319.9 206.7l-1.1 -4.2M319.9 202.4l7.1 1.1M319.9 198.1l7.7 .8M319.9 193.8l8.3 .7M319.9 189.5l1.1 -4.8M319.9 185.2l1.5 -4.3M319.9 180.9l1.6 -3.7M319.9 176.5l1.6 -3.2M319.9 172.2l1.5 -2.7M319.9 167.9l1.5 -2.4M319.9 163.6l1.5 -2.2M319.9 159.3l1.5 -1.9M319.9 155l1.5 -1.7M322.9 228.2l-1.8 -2.1M322.9 223.9l-1.8 -2.4M322.9 219.6l-1.9 -2.8M322.9 215.3l-2 -3.5M322.9 211l-1.9 -4.4M322.9 206.7l-1.7 -5.3M322.9 202.4l7 -.2M322.9 198.1l7.9 -.7M322.9 193.8l9 -.7M322.9 189.5l1.9 -6.2M322.9 185.2l2.5 -5.4M322.9 180.9l2.6 -4.4M322.9 176.5l2.4 -3.6M322.9 172.2l2.1 -3M322.9 167.9l1.9 -2.5M322.9 163.6l1.8 -2.2M322.9 159.3l1.8 -2M322.9 155l1.8 -1.8M322.9 150.7l1.7 -1.6M325.8 228.2l-2.1 -2.1M325.8 223.9l-2.2 -2.5M325.8 219.6l-2.4 -3M325.8 215.3l-2.7 -4M325.8 211l-2.9 -5.2M325.8 206.7l5.6 -.4M325.8 202.4l6.5 -1.4M325.8 198.1l8 -2M325.8 193.8l1.4 -8.1M325.8 189.5l2.9 -7.4M325.8 185.2l3.8 -6.3M325.8 180.9l3.9 -5M325.8 176.5l3.5 -3.9M325.8 172.2l2.9 -3.1M325.8 167.9l2.4 -2.5M325.8 163.6l2.2 -2.2M325.8 159.3l2.1 -2M325.8 155l2 -1.8M325.8 150.7l2 -1.6M325.8 146.4l1.9 -1.4M328.8 228.2l-2.4 -2M328.8 223.9l-2.6 -2.4M328.8 219.6l-3.1 -3.1M328.8 215.3l-3.7 -4.3M328.8 211l-4.1 -5.7M328.8 206.7l4.6 -.9M328.8 202.4l5.8 -2M328.8 198.1l7.8 -2.5M328.8 193.8l1.7 -8.6M328.8 189.5l3.8 -7.8M328.8 185.2l5.1 -6.5M328.8 180.9l5.4 -5.1M328.8 176.5l4.8 -3.9M328.8 172.2l3.9 -2.9M328.8 167.9l3 -2.3M328.8 163.6l2.5 -2M328.8 159.3l2.3 -1.9M328.8 155l2.2 -1.7M328.8 150.7l2.2 -1.5M328.8 146.4l2.1 -1.3M328.8 142.1l1.9 -1.1M331.7 228.2l-2.6 -1.8M331.7 223.9l-3 -2.2M331.7 219.6l-3.8 -3M331.7 215.3l-4.8 -4.2M331.7 211l3.1 .9M331.7 206.7l3.4 -.4M331.7 202.4l5.2 -.7M331.7 198.1l-1.1 -6.8M331.7 193.8l1.3 -6.4M331.7 189.5l3.6 -6M331.7 185.2l6 -5.5M331.7 180.9l6.7 -4.4M331.7 176.5l6.1 -3.3M331.7 172.2l4.9 -2.5M331.7 167.9l3.6 -2M331.7 163.6l2.8 -1.7M331.7 159.3l2.5 -1.6M331.7 155l2.4 -1.5M331.7 150.7l2.4 -1.4M331.7 146.4l2.3 -1.2M331.7 142.1l2.1 -1M334.6 228.2l-2.8 -1.5M334.6 223.9l-3.4 -1.9M334.6 219.6l-4.5 -2.6M334.6 215.3l-5.8 -3.5M334.6 211l2.1 2M334.6 206.7l2.6 1.4M334.6 202.4l4.9 1.7M334.6 198.1l-1.5 -4.6M334.6 193.8l.9 -4.2M334.6 189.5l3.3 -3.7M334.6 185.2l5.6 -3.3M334.6 180.9l7.5 -2.7M334.6 176.5l7 -2.1M334.6 172.2l5.6 -1.6M334.6 167.9l4.1 -1.4M334.6 163.6l3.1 -1.3M334.6 159.3l2.7 -1.3M334.6 155l2.6 -1.3M334.6 150.7l2.5 -1.2M334.6 146.4l2.5 -1M334.6 142.1l2.3 -.9M334.6 137.8l2.1 -.8M337.6 228.2l-3 -1.2M337.6 223.9l-3.7 -1.4M337.6 219.6l-5 -1.9M337.6 215.3l-6.5 -2.4M337.6 211l-7.6 -2.9M337.6 206.7l-6.7 -2.9M337.6 202.4l-4.4 -2.6M337.6 198.1l-2 -2.3M337.6 189.5l2.9 -1.5M337.6 185.2l5.3 -1M337.6 180.9l7.7 -.5M337.6 176.5l7.3 -.4M337.6 172.2l5.9 -.5M337.6 167.9l4.3 -.7M337.6 163.6l3.3 -.9M337.6 159.3l2.8 -.9M337.6 155l2.6 -.9M337.6 150.7l2.7 -.9M337.6 146.4l2.6 -.8M337.6 142.1l2.5 -.7M337.6 137.8l2.3 -.6M340.5 228.2l-3 -.8M340.5 223.9l-3.7 -.9M340.5 219.6l-5 -1M340.5 215.3l-6.6 -1M340.5 211l-7.8 -.9M340.5 206.7l-7.2 -.6M340.5 202.4l-4.9 -.3M340.5 198.1l-2.5 0M340.5 189.5l2.6 .8M340.5 185.2l5.1 1.3M340.5 180.9l7.2 1.8M340.5 176.5l6.9 1.2M340.5 172.2l5.7 .5M340.5 167.9l4.2 0M340.5 163.6l3.2 -.4M340.5 159.3l2.8 -.6M340.5 155l2.7 -.6M340.5 150.7l2.7 -.6M340.5 146.4l2.7 -.6M340.5 142.1l2.6 -.5M340.5 137.8l2.4 -.4M343.5 228.2l5.1 1.2M343.5 223.9l4.4 1.2M343.5 219.6l3.3 1.4M343.5 215.3l1.8 1.7M343.5 211l.7 2.4M343.5 206.7l.5 3.3M343.5 202.4l-5.5 2.2M343.5 198.1l-3 2.4M343.5 193.8l-.3 2.7M343.5 189.5l2.4 3.3M343.5 185.2l4.8 3.8M343.5 180.9l6.3 3.6M343.5 176.5l6 2.5M343.5 172.2l5 1.4M343.5 167.9l3.9 .5M343.5 163.6l3.1 0M343.5 159.3l2.7 -.2M343.5 155l2.7 -.3M343.5 150.7l2.8 -.3M343.5 146.4l2.8 -.3M343.5 142.1l2.6 -.3M343.5 137.8l2.4 -.2M346.4 228.2l5.2 1.6M346.4 223.9l4.8 1.7M346.4 219.6l3.9 2M346.4 215.3l2.7 2.6M346.4 211l1.7 3.6M346.4 206.7l1.4 4.9M346.4 202.4l-5.8 4.7M346.4 198.1l-3.6 5.3M346.4 193.8l-.7 5.7M346.4 189.5l2.1 6.1M346.4 185.2l4.1 5.7M346.4 180.9l5 4.6M346.4 176.5l4.9 3.2M346.4 172.2l4.2 1.8M346.4 167.9l3.4 .9M346.4 163.6l2.9 .4M346.4 159.3l2.7 .1M346.4 155l2.7 0M346.4 150.7l2.8 0M346.4 146.4l2.8 0M346.4 142.1l2.7 0M346.4 137.8l2.5 0M349.4 228.2l5.3 1.9M349.4 223.9l5.1 2.1M349.4 219.6l4.6 2.4M349.4 215.3l3.8 3.1M349.4 211l3.1 4.1M349.4 206.7l-5.2 3.9M349.4 202.4l-4.6 5.3M349.4 198.1l-3.2 6.5M349.4 193.8l-.9 7.1M349.4 189.5l1.3 6.8M349.4 185.2l2.9 5.9M349.4 180.9l3.7 4.6M349.4 176.5l3.7 3.2M349.4 172.2l3.3 1.9M349.4 167.9l2.9 1.1M349.4 163.6l2.6 .6M349.4 159.3l2.6 .4M349.4 155l2.6 .4M349.4 150.7l2.8 .3M349.4 146.4l2.8 .3M349.4 142.1l2.6 .3M349.4 137.8l2.4 .2M352.3 228.2l5.5 2.2M352.3 223.9l5.4 2.4M352.3 219.6l5.2 2.7M352.3 215.3l4.8 3.2M352.3 211l4.5 4.1M352.3 206.7l-3.7 3.6M352.3 202.4l-3.3 4.8M352.3 198.1l-2.3 5.7M352.3 193.8l-.8 6.1M352.3 189.5l.8 5.9M352.3 185.2l1.9 5.1M352.3 180.9l2.5 3.9M352.3 176.5l2.7 2.8M352.3 172.2l2.6 1.8M352.3 167.9l2.4 1.2M352.3 163.6l2.4 .9M352.3 159.3l2.5 .7M352.3 155l2.6 .7M352.3 150.7l2.7 .6M352.3 146.4l2.7 .6M352.3 142.1l2.6 .5M352.3 137.8l2.4 .4M355.3 228.2l5.6 2.5M355.3 223.9l5.7 2.7M355.3 219.6l5.7 2.9M355.3 215.3l5.6 3.2M355.3 211l5.5 3.8M355.3 206.7l-2.4 3M355.3 202.4l-2.1 3.8M355.3 198.1l-1.4 4.4M355.3 193.8l-.5 4.6M355.3 189.5l.5 4.4M355.3 185.2l1.3 3.9M355.3 180.9l1.8 3.1M355.3 176.5l2 2.3M355.3 172.2l2.1 1.8M355.3 167.9l2.2 1.4M355.3 163.6l2.3 1.2M355.3 159.3l2.4 1M355.3 155l2.5 1M355.3 150.7l2.6 .9M355.3 146.4l2.6 .8M355.3 142.1l2.5 .7M355.3 137.8l2.3 .6M358.2 228.2l5.7 2.8M358.2 223.9l5.8 2.9M358.2 219.6l6 3.1M358.2 215.3l6.1 3.3M358.2 211l6.2 3.6M358.2 206.7l-1.6 2.5M358.2 202.4l-1.3 2.9M358.2 198.1l-.9 3.3M358.2 193.8l-.3 3.4M358.2 189.5l.4 3.3M358.2 185.2l.9 2.9M358.2 180.9l1.3 2.5M358.2 176.5l1.6 2.1M358.2 172.2l1.8 1.8M358.2 167.9l2 1.6M358.2 163.6l2.1 1.4M358.2 159.3l2.3 1.3M358.2 155l2.5 1.3M358.2 150.7l2.5 1.2M358.2 146.4l2.5 1M358.2 142.1l2.3 .9M358.2 137.8l2.1 .8M361.2 228.2l5.8 3.1M361.2 223.9l6 3.2M361.2 219.6l6.1 3.3M361.2 215.3l6.3 3.4M361.2 211l6.5 3.6M361.2 206.7l-1.2 2.3M361.2 202.4l-.9 2.5M361.2 198.1l-.5 2.6M361.2 193.8l-.1 2.7M361.2 189.5l.3 2.6M361.2 185.2l.7 2.5M361.2 180.9l1.1 2.3M361.2 176.5l1.4 2.1M361.2 172.2l1.6 1.9M361.2 167.9l1.8 1.8M361.2 163.6l2 1.7M361.2 159.3l2.2 1.6M361.2 155l2.4 1.5M361.2 150.7l2.4 1.4M361.2 146.4l2.3 1.2M361.2 142.1l2.1 1M364.1 228.2l5.9 3.3M364.1 223.9l6 3.4M364.1 219.6l6.3 3.5M364.1 215.3l6.5 3.6M364.1 211l6.7 3.7M364.1 206.7l-1 2.3M364.1 202.4l-.7 2.4M364.1 198.1l-.4 2.5M364.1 193.8l0 2.5M364.1 189.5l.3 2.5M364.1 185.2l.7 2.4M364.1 180.9l1 2.3M364.1 176.5l1.2 2.2M364.1 172.2l1.5 2.1M364.1 167.9l1.7 2M364.1 163.6l1.9 1.9M364.1 159.3l2.1 1.8M364.1 155l2.2 1.7M364.1 150.7l2.2 1.5M364.1 146.4l2.1 1.3M364.1 142.1l1.9 1.1M367.1 228.2l6 3.4M367.1 223.9l6.1 3.5M367.1 219.6l6.3 3.5M367.1 215.3l6.6 3.6M367.1 211l-1.1 2.2M367.1 206.7l-.9 2.4M367.1 202.4l-.6 2.5M367.1 198.1l-.3 2.5M367.1 193.8l0 2.5M367.1 189.5l.3 2.5M367.1 185.2l.6 2.5M367.1 180.9l.9 2.4M367.1 176.5l1.2 2.3M367.1 172.2l1.4 2.3M367.1 167.9l1.6 2.2M367.1 163.6l1.8 2.1M367.1 159.3l1.9 2M367.1 155l2 1.8M367.1 150.7l1.9 1.6M367.1 146.4l1.9 1.4M370 228.2l6.1 3.2M370 223.9l6.1 3M370 219.6l6.3 2.8M370 215.3l6.9 3M370 206.7l-.7 2.4M370 202.4l-.5 2.6M370 198.1l-.3 2.6M370 193.8l0 2.7M370 189.5l.3 2.6M370 185.2l.6 2.6M370 180.9l.8 2.6M370 176.5l1.1 2.5M370 172.2l1.3 2.5M370 167.9l1.5 2.3M370 163.6l1.7 2.2M370 159.3l1.7 2M370 155l1.7 1.8M370 150.7l1.7 1.6M373 228.2l5.8 2.7M373 223.9l5.5 1.9M373 219.6l6.2 1.3M373 215.3l7.5 1.5M373 202.4l-.4 2.6M373 198.1l-.2 2.8M373 193.8l0 2.8M373 189.5l.3 2.8M373 185.2l.5 2.7M373 180.9l.8 2.7M373 176.5l1 2.6M373 172.2l1.2 2.5M373 167.9l1.3 2.3M373 163.6l1.4 2.1M373 159.3l1.5 1.9M373 155l1.5 1.7M375.9 228.2l5.1 2.4M375.9 223.9l4.6 1.6M375.9 219.6l6.1 1.4M375.9 215.3l8.1 1.6M375.9 202.4l0 2.5M375.9 198.1l-.2 2.7M375.9 193.8l0 2.7M375.9 189.5l.2 2.7M375.9 185.2l.5 2.7M375.9 180.9l.7 2.6M375.9 176.5l.9 2.5M375.9 172.2l1 2.4M375.9 167.9l1.1 2.2M375.9 163.6l1.2 2M378.8 228.2l4.7 2.9M378.8 223.9l4.4 2.9M378.8 219.6l6.3 3.1M378.8 215.3l8.3 3.3M378.8 211l2.3 1.9M378.8 206.7l1.4 2.2M378.8 202.4l.2 2.4M378.8 198.1l-.1 2.5M378.8 193.8l0 2.5M378.8 189.5l.2 2.5M378.8 185.2l.4 2.5M378.8 180.9l.6 2.4M378.8 176.5l.7 2.3M378.8 172.2l.8 2.1M381.8 228.2l5.2 3.5M381.8 223.9l4.6 4.5M381.8 219.6l6.5 4.7M381.8 215.3l8.5 4.9M381.8 211l2.1 3.3M381.8 206.7l1.3 2.6M381.8 202.4l.2 2.3M381.8 198.1l-.1 2.2M381.8 193.8l0 2.2M381.8 189.5l.2 2.2M381.8 185.2l.3 2.2M384.7 228.2l6.3 3.4M384.7 223.9l5.9 4.7M384.7 219.6l6.8 5.8M384.7 215.3l.4 4.3M384.7 211l1.1 3.4M384.7 206.7l.6 2.4M387.7 228.2l7.2 2.8M387.7 223.9l7 3.6M387.7 219.6l7.4 4.3M387.7 215.3l0 2.8M387.7 211l.2 2.3M390.6 228.2l7.6 2.2M390.6 223.9l7.6 2.5M390.6 219.6l7.7 2.8M393.6 228.2l7.8 2M393.6 223.9l7.8 2.1M393.6 219.6l7.8 2.1" stroke="#111" stroke-width="0.5" fill="none"/>
<path d="M295 188.4l1.2 .9M295.1 184.1l1.2 .9M295.1 179.8l1.2 .9M298.2 188.4l1.2 .8M298.2 184.1l1.2 .8M298.2 179.9l1.2 .9M301.3 188.4l1.3 .8M301.4 184.1l1.3 .8M304.5 192.6l1.3 .8M304.5 188.4l1.3 .8M304.5 184.1l1.3 .8M307.6 192.5l1.3 .7M307.7 188.2l1.3 .7M307.7 184l1.3 .7M310.7 192.4l1.3 .7M310.8 188.1l1.3 .7M313.8 196.4l1.4 .6M313.9 192.2l1.4 .6M314 187.9l1.4 .6M310.9 205.8l-.3 -1.3M310.9 201.5l-.2 -1.4M311 197.1l-.1 -1.4M316.9 196.2l1.4 .6M317.1 192l1.4 .6M311.2 184.3l.2 -1.4M311.3 180l.3 -1.3M313.6 218.8l-.6 -1.2M313.7 214.4l-.5 -1.3M313.7 210l-.4 -1.4M313.8 205.5l-.3 -1.5M313.8 201.1l-.2 -1.5M319.9 200.2l1.4 .5M320.1 195.9l1.4 .5M320.3 191.6l1.4 .5M314.3 183.9l.3 -1.5M314.3 179.7l.4 -1.5M314.3 175.6l.5 -1.4M314.4 171.4l.5 -1.3M314.4 167.1l.6 -1.2M316.5 227.5l-.8 -1.1M316.5 223.1l-.7 -1.2M316.5 218.6l-.7 -1.3M316.5 214.1l-.6 -1.4M316.5 209.5l-.5 -1.4M316.5 204.9l-.4 -1.5M316.7 200.3l-.2 -1.5M323 199.6l1.5 .4M323.4 195.3l1.5 .4M317.3 187.3l.2 -1.5M317.5 183.2l.4 -1.5M317.5 179.2l.5 -1.4M317.5 175.2l.6 -1.4M317.5 171.1l.6 -1.4M317.5 167l.7 -1.3M317.5 162.8l.7 -1.2M319.3 227.4l-.9 -1.2M319.2 222.9l-.8 -1.2M319.2 218.3l-.8 -1.3M319.1 213.6l-.7 -1.3M319.1 208.8l-.5 -1.4M319.2 203.9l-.4 -1.4M325.5 203.2l1.5 .2M326.1 198.7l1.5 .1M326.8 194.4l1.5 .1M320.7 186.1l.3 -1.5M320.9 182.3l.5 -1.4M320.9 178.5l.6 -1.4M320.8 174.7l.7 -1.3M320.7 170.8l.7 -1.3M320.6 166.8l.8 -1.3M320.6 162.7l.9 -1.2M320.5 158.6l.9 -1.2M320.5 154.3l.9 -1M322.1 227.3l-1 -1.1M321.9 222.7l-.9 -1.2M321.8 218l-.8 -1.2M321.6 213.1l-.7 -1.3M321.5 208l-.6 -1.4M321.6 202.8l-.4 -1.4M328.3 202.2l1.5 0M329.3 197.5l1.5 -.1M330.3 193.2l1.5 -.1M324.3 184.7l.4 -1.4M324.7 181.1l.6 -1.4M324.7 177.7l.8 -1.3M324.4 174.2l.8 -1.2M324.1 170.5l.9 -1.2M323.9 166.6l.9 -1.2M323.7 162.6l.9 -1.2M323.6 158.4l1 -1.1M323.6 154.3l1.1 -1.1M323.5 150.1l1 -.9M324.8 227.2l-1.1 -1.1M324.6 222.6l-1 -1.1M324.3 217.7l-.9 -1.2M324 212.6l-.8 -1.2M323.7 207.1l-.7 -1.3M329.9 206.4l1.5 -.1M330.9 201.2l1.5 -.3M332.3 196.4l1.5 -.4M327 187.1l.3 -1.5M328.1 183.4l.5 -1.4M328.8 180.1l.8 -1.3M328.8 177l.9 -1.2M328.3 173.8l1 -1.1M327.7 170.3l1 -1.1M327.2 166.5l1 -1.1M326.9 162.5l1 -1.1M326.8 158.4l1.1 -1M326.7 154.2l1.1 -1M326.6 150.1l1.2 -.9M326.5 145.9l1.1 -.8M327.5 227.2l-1.1 -1M327.3 222.5l-1.1 -1M326.7 217.5l-1.1 -1.1M326 212.1l-1 -1.1M325.5 206.5l-.9 -1.2M331.9 206.1l1.5 -.3M333.1 200.9l1.4 -.5M335.1 196.1l1.4 -.5M330.1 186.7l.3 -1.5M331.9 183.1l.7 -1.3M332.9 179.8l.9 -1.2M333.1 176.7l1.1 -1M332.4 173.6l1.2 -.9M331.4 170.2l1.2 -.9M330.6 166.5l1.2 -.9M330.1 162.5l1.2 -.9M329.9 158.4l1.2 -.9M329.8 154.2l1.2 -.9M329.7 150.1l1.2 -.8M329.6 145.9l1.3 -.8M329.5 141.7l1.2 -.7M330.3 227.2l-1.2 -.8M329.9 222.6l-1.2 -.9M329 217.5l-1.2 -.9M328 212.1l-1.1 -1M333.4 211.5l1.4 .4M333.6 206.5l1.5 -.2M335.4 201.9l1.5 -.2M330.9 192.8l-.2 -1.5M332.7 188.8l.3 -1.5M334.6 184.8l.8 -1.3M336.6 180.7l1.1 -1M337.1 177.3l1.3 -.8M336.5 174l1.3 -.7M335.2 170.4l1.3 -.7M334 166.7l1.3 -.7M333.3 162.7l1.3 -.8M332.9 158.5l1.3 -.8M332.9 154.3l1.3 -.8M332.8 150.1l1.3 -.7M332.7 145.9l1.3 -.7M332.6 141.7l1.3 -.6M333.1 227.4l-1.3 -.7M332.5 222.7l-1.3 -.7M331.4 217.8l-1.3 -.7M330.1 212.5l-1.3 -.8M335.7 212l1.1 1M335.9 207.3l1.3 .7M338.2 203.6l1.4 .5M333.6 194.9l-.5 -1.4M335.2 191.1l.3 -1.5M336.9 186.8l1 -1.1M339 182.6l1.3 -.8M340.7 178.6l1.4 -.5M340.2 174.9l1.4 -.4M338.8 171l1.4 -.4M337.3 167l1.4 -.5M336.4 162.9l1.4 -.6M336 158.7l1.3 -.7M335.9 154.4l1.3 -.7M335.8 150.2l1.4 -.6M335.7 146l1.4 -.6M335.6 141.8l1.4 -.5M335.5 137.5l1.3 -.5M336 227.6l-1.4 -.5M335.3 223l-1.4 -.5M334 218.3l-1.4 -.5M332.5 213.4l-1.4 -.5M331.4 208.6l-1.4 -.5M332.3 204.3l-1.4 -.6M334.5 200.5l-1.3 -.8M336.6 196.9l-1 -1.1M339.2 188.6l1.3 -.7M341.5 184.4l1.5 -.3M343.8 180.4l1.5 -.1M343.4 176.2l1.5 -.1M342 171.8l1.5 -.1M340.5 167.4l1.5 -.3M339.4 163.1l1.4 -.4M338.9 158.9l1.4 -.5M338.8 154.6l1.4 -.5M338.8 150.3l1.4 -.5M338.8 146l1.4 -.4M338.6 141.8l1.4 -.4M338.5 137.6l1.4 -.4M339 227.8l-1.5 -.4M338.3 223.4l-1.5 -.3M337 218.9l-1.5 -.3M335.4 214.5l-1.5 -.2M334.2 210.3l-1.5 -.2M334.8 206.2l-1.5 -.1M337.1 202.2l-1.5 -.1M339.6 198.1l-1.5 0M341.7 189.8l1.4 .4M344.1 186.1l1.5 .4M346.3 182.3l1.5 .4M346 177.5l1.5 .3M344.7 172.6l1.5 .1M343.3 167.9l1.5 0M342.3 163.4l1.5 -.2M341.9 159.1l1.5 -.3M341.8 154.7l1.5 -.3M341.8 150.4l1.5 -.3M341.8 146.2l1.5 -.3M341.6 141.9l1.5 -.3M341.5 137.6l1.4 -.3M347.1 229l1.5 .3M346.5 224.7l1.4 .4M345.4 220.4l1.4 .6M344.2 216l1.1 1M343.7 211.9l.4 1.4M343.8 208.5l.2 1.5M339.4 204l-1.4 .6M341.6 199.6l-1.2 .9M343.3 195l-.2 1.5M345 191.5l.9 1.2M347.1 188l1.2 .9M348.4 183.7l1.3 .7M348.1 178.5l1.4 .6M347.1 173.2l1.4 .4M345.9 168.3l1.5 .2M345.1 163.6l1.5 0M344.7 159.2l1.5 -.1M344.7 154.9l1.5 -.2M344.8 150.6l1.5 -.2M344.8 146.3l1.5 -.2M344.6 142l1.5 -.1M344.5 137.7l1.5 -.1M350.2 229.3l1.4 .4M349.8 225.1l1.4 .5M349 220.9l1.3 .7M348.1 216.9l1.1 1M347.5 213.2l.6 1.4M347.4 210.1l.4 1.4M341.8 206.1l-1.2 .9M343.7 202.1l-.8 1.2M345.9 197.9l-.2 1.5M348.1 194.1l.5 1.4M349.7 189.7l.9 1.2M350.3 184.4l1.1 1M350.1 178.9l1.3 .8M349.2 173.5l1.4 .6M348.4 168.5l1.4 .4M347.8 163.8l1.5 .2M347.6 159.4l1.5 .1M347.6 155l1.5 0M347.7 150.7l1.5 0M347.7 146.4l1.5 0M347.6 142.1l1.5 0M347.4 137.8l1.5 0M353.3 229.6l1.4 .5M353.1 225.4l1.4 .6M352.7 221.3l1.3 .7M352 217.4l1.2 .9M351.6 213.9l.9 1.2M345.4 209.7l-1.2 .9M345.7 206.6l-1 1.1M346.9 203.2l-.7 1.3M348.7 199.4l-.2 1.5M350.4 194.8l.3 1.5M351.6 189.7l.7 1.3M352.1 184.3l.9 1.2M351.9 178.7l1.1 1M351.4 173.4l1.3 .8M350.8 168.5l1.4 .5M350.5 163.9l1.5 .4M350.5 159.5l1.5 .3M350.5 155.2l1.5 .2M350.6 150.9l1.5 .2M350.6 146.5l1.5 .2M350.5 142.2l1.5 .1M350.4 137.9l1.5 .1M356.4 229.9l1.4 .6M356.4 225.7l1.4 .6M356.2 221.6l1.3 .7M355.9 217.7l1.3 .8M355.7 214l1.1 1M349.7 209.3l-1.1 1.1M349.9 205.9l-.8 1.2M350.6 202.4l-.5 1.4M351.7 198.4l-.2 1.5M352.9 193.9l.2 1.5M353.7 188.8l.5 1.4M354 183.5l.8 1.3M354 178.2l1 1.1M353.7 173.2l1.2 .9M353.4 168.5l1.3 .7M353.3 164l1.4 .5M353.4 159.6l1.4 .4M353.5 155.3l1.5 .4M353.6 151l1.5 .3M353.6 146.7l1.5 .3M353.4 142.3l1.5 .3M353.3 138l1.4 .3M359.5 230.1l1.4 .6M359.6 225.9l1.4 .6M359.6 221.8l1.3 .7M359.6 217.8l1.3 .7M359.6 213.9l1.2 .8M353.8 208.5l-.9 1.2M353.9 204.8l-.7 1.3M354.3 201l-.5 1.4M354.9 196.9l-.2 1.5M355.6 192.4l.2 1.5M356.1 187.6l.5 1.4M356.3 182.6l.7 1.3M356.3 177.7l1 1.1M356.2 173l1.1 1M356.2 168.5l1.3 .8M356.2 164.1l1.3 .7M356.3 159.8l1.4 .6M356.4 155.5l1.4 .5M356.5 151.1l1.4 .5M356.4 146.8l1.4 .4M356.3 142.4l1.4 .4M356.2 138l1.4 .4M362.6 230.4l1.3 .7M362.7 226.1l1.3 .7M362.9 222l1.3 .7M363 217.8l1.3 .7M363.1 213.8l1.3 .8M357.4 207.9l-.8 1.3M357.5 203.9l-.6 1.4M357.7 199.9l-.4 1.4M358.1 195.6l-.1 1.5M358.4 191.2l.2 1.5M358.7 186.7l.4 1.4M358.8 182l.7 1.3M358.9 177.4l.9 1.2M358.9 173l1.1 1.1M359 168.6l1.2 .9M359.1 164.2l1.2 .8M359.2 159.9l1.3 .8M359.4 155.6l1.3 .7M359.4 151.3l1.4 .6M359.3 146.9l1.4 .6M359.2 142.5l1.4 .5M359.1 138.1l1.3 .5M365.6 230.6l1.3 .7M365.8 226.4l1.3 .7M366 222.2l1.3 .7M366.2 218l1.3 .7M366.4 213.8l1.3 .7M360.7 207.6l-.7 1.3M360.8 203.4l-.5 1.4M360.9 199.2l-.3 1.5M361.1 195l-.1 1.5M361.3 190.6l.2 1.5M361.5 186.2l.4 1.4M361.6 181.8l.6 1.4M361.7 177.4l.8 1.2M361.8 173l1 1.1M361.9 168.7l1.1 1M362 164.4l1.2 1M362.2 160.1l1.2 .9M362.3 155.7l1.3 .8M362.2 151.3l1.3 .7M362.1 146.9l1.3 .7M362 142.5l1.3 .6M368.7 230.8l1.3 .7M368.9 226.6l1.3 .7M369.1 222.3l1.3 .7M369.3 218.1l1.3 .7M369.5 213.9l1.3 .7M363.7 207.6l-.6 1.4M363.8 203.3l-.4 1.4M364 199l-.2 1.5M364.1 194.8l0 1.5M364.2 190.4l.2 1.5M364.4 186.1l.4 1.4M364.5 181.8l.6 1.4M364.6 177.4l.7 1.3M364.7 173.1l.9 1.2M364.9 168.8l1 1.1M365 164.5l1.1 1.1M365.1 160.2l1.1 1M365.1 155.8l1.2 .9M365 151.4l1.2 .9M364.9 146.9l1.3 .8M364.9 142.6l1.2 .7M371.8 230.9l1.3 .7M371.9 226.6l1.3 .7M372.1 222.4l1.3 .7M372.4 218.2l1.3 .7M366.6 211.9l-.7 1.3M366.7 207.7l-.5 1.4M366.8 203.4l-.4 1.5M366.9 199.1l-.2 1.5M367.1 194.8l0 1.5M367.2 190.5l.2 1.5M367.3 186.2l.4 1.5M367.4 181.9l.5 1.4M367.6 177.6l.7 1.3M367.7 173.2l.8 1.3M367.8 168.9l.9 1.2M367.9 164.6l1 1.1M367.9 160.2l1.1 1.1M367.9 155.8l1.1 1M367.8 151.3l1.2 .9M367.8 147l1.1 .8M374.8 230.7l1.3 .7M374.7 226.2l1.3 .7M375 221.8l1.4 .6M375.5 217.6l1.4 .6M369.7 207.6l-.4 1.4M369.8 203.5l-.3 1.5M369.9 199.2l-.2 1.5M370 194.9l0 1.5M370.1 190.6l.2 1.5M370.3 186.3l.3 1.5M370.4 182l.5 1.4M370.5 177.7l.6 1.4M370.6 173.4l.7 1.3M370.7 169l.8 1.3M370.7 164.6l.9 1.2M370.7 160.2l1 1.1M370.7 155.7l1 1.1M370.7 151.3l1 .9M377.3 230.3l1.4 .6M377 225.3l1.4 .5M377.7 220.6l1.5 .3M379 216.5l1.5 .3M372.8 203.5l-.2 1.5M372.8 199.4l-.1 1.5M373 195.1l0 1.5M373.1 190.8l.1 1.5M373.2 186.4l.3 1.5M373.3 182.1l.4 1.4M373.4 177.7l.5 1.4M373.5 173.4l.7 1.4M373.5 168.9l.8 1.3M373.6 164.5l.8 1.2M373.6 160.1l.9 1.2M373.5 155.7l.9 1M379.6 230l1.4 .7M379 225l1.4 .5M380.5 220.7l1.5 .3M382.5 216.6l1.5 .3M375.9 203.4l0 1.5M375.8 199.3l-.1 1.5M375.9 195l0 1.5M376 190.7l.1 1.5M376.1 186.3l.3 1.5M376.2 182l.4 1.5M376.3 177.6l.5 1.4M376.3 173.2l.6 1.4M376.4 168.8l.7 1.3M376.4 164.4l.7 1.2M382.2 230.3l1.3 .8M382 226l1.2 .8M383.8 222l1.3 .7M385.7 218l1.4 .6M380 211.9l1.1 1M379.5 207.7l.8 1.3M378.9 203.3l.1 1.5M378.8 199.1l-.1 1.5M378.8 194.8l0 1.5M378.9 190.5l.1 1.5M379 186.1l.2 1.5M379.1 181.8l.3 1.4M379.1 177.5l.4 1.4M379.2 173.1l.5 1.3M385.7 230.9l1.2 .8M385.3 227.4l1.1 1.1M387.1 223.4l1.2 .9M388.9 219.4l1.3 .7M383.1 213l.8 1.3M382.4 208l.7 1.3M381.9 203.3l.1 1.4M381.8 199l-.1 1.3M381.8 194.7l0 1.3M381.9 190.4l.1 1.3M381.9 186l.2 1.3M389.7 230.9l1.3 .7M389.4 227.7l1.2 .9M390.4 224.4l1.1 1M385 218.1l.1 1.5M385.4 213l.5 1.4M385 207.6l.4 1.5M393.5 230.4l1.4 .5M393.4 226.8l1.3 .7M393.7 223.1l1.3 .8M387.7 216.6l0 1.5M387.8 211.9l.1 1.4M396.8 230l1.4 .4M396.8 225.9l1.4 .5M396.9 221.8l1.4 .5M399.9 229.8l1.5 .4M399.9 225.6l1.5 .4M399.9 221.3l1.4 .4" stroke="#111" stroke-width="1.2" fill="none"/>
<path d="M290.4 228.2l.1 .6M290.4 223.9l.1 .6M290.4 219.6l.1 .6M290.4 215.3l.1 .6M290.4 211l.1 .6M290.4 206.7l.1 .6M290.4 202.4l.1 .6M290.4 198.1l.1 .6M290.4 193.8l.2 .6M290.4 189.5l.2 .6M290.4 172.2l.2 .6M290.4 167.9l.2 .6M290.4 163.6l.2 .6M290.4 159.3l.2 .6M290.4 155l.2 .7M290.4 150.7l.2 .7M290.4 146.4l.2 .7M290.4 142.1l.2 .7M290.4 137.8l.2 .7M290.4 133.5l.2 .7M293.4 228.2l.1 .6M293.4 223.9l.1 .6M293.4 219.6l.1 .6M293.4 215.3l.1 .6M293.4 211l.1 .5M293.4 206.7l.1 .5M293.4 202.4l.1 .5M293.4 198.1l.1 .5M293.4 193.8l.2 .5M293.4 189.5l.2 .5M293.4 172.2l.2 .6M293.4 167.9l.2 .6M293.4 163.6l.2 .6M293.4 159.3l.2 .6M293.4 155l.2 .6M293.4 150.7l.2 .6M293.4 146.4l.2 .6M293.4 142.1l.2 .7M293.4 137.8l.2 .7M293.4 133.5l.2 .7M296.3 228.2l.1 .5M296.3 223.9l.1 .5M296.3 219.6l.1 .5M296.3 215.3l.1 .5M296.3 211l.1 .5M296.3 206.7l.1 .4M296.3 202.4l.1 .4M296.3 198.1l.1 .4M296.3 193.8l.2 .4M296.3 189.5l.2 .4M296.3 176.5l.2 .5M296.3 172.2l.2 .5M296.3 167.9l.2 .5M296.3 163.6l.2 .5M296.3 159.3l.2 .5M296.3 155l.2 .6M296.3 150.7l.2 .6M296.3 146.4l.2 .6M296.3 142.1l.2 .6M296.3 137.8l.2 .7M296.3 133.5l.2 .7M299.3 228.2l.1 .5M299.3 223.9l.1 .4M299.3 219.6l.1 .4M299.3 215.3l.1 .4M299.3 211l.1 .3M299.3 206.7l.1 .3M299.3 176.5l.2 .3M299.3 172.2l.2 .4M299.3 167.9l.2 .4M299.3 163.6l.2 .4M299.3 159.3l.2 .5M299.3 155l.2 .5M299.3 150.7l.2 .5M299.3 146.4l.2 .6M299.3 142.1l.2 .6M299.3 137.8l.2 .6M299.3 133.5l.2 .6M302.2 228.2l0 .4M302.2 223.9l0 .3M302.2 163.6l.3 .3M302.2 159.3l.3 .4M302.2 155l.3 .4M302.2 150.7l.3 .5M302.2 146.4l.3 .5M302.2 142.1l.2 .6M302.2 137.8l.2 .6M302.2 133.5l.2 .6M305.2 150.7l.3 .4M305.2 146.4l.3 .5M305.2 142.1l.3 .5M305.2 137.8l.3 .5M305.2 133.5l.2 .6M308.1 142.1l.4 .4M308.1 137.8l.3 .5M308.1 133.5l.3 .5M311.1 137.8l.4 .4M311.1 133.5l.4 .5M314 133.5l.4 .5M340.5 193.8l.2 .9M378.8 133.5l.4 .9M381.8 137.8l.4 1M381.8 133.5l.4 .9M384.7 142.1l.4 1M384.7 137.8l.3 .9M384.7 133.5l.3 .9M387.7 150.7l.3 1M387.7 146.4l.3 .9M387.7 142.1l.3 .9M387.7 137.8l.3 .9M387.7 133.5l.2 .8M390.6 163.6l.3 1.1M390.6 159.3l.3 1M390.6 155l.3 1M390.6 150.7l.3 .9M390.6 146.4l.3 .9M390.6 142.1l.2 .8M390.6 137.8l.2 .8M390.6 133.5l.2 .8M393.6 215.3l.1 1.1M393.6 211l.1 1.1M393.6 206.7l.1 1.1M393.6 180.9l.2 1.1M393.6 176.5l.2 1.1M393.6 172.2l.2 1M393.6 167.9l.2 1M393.6 163.6l.2 1M393.6 159.3l.2 .9M393.6 155l.2 .9M393.6 150.7l.2 .9M393.6 146.4l.2 .8M393.6 142.1l.2 .8M393.6 137.8l.2 .8M393.6 133.5l.2 .8M396.5 228.2l.1 .9M396.5 223.9l.1 .9M396.5 219.6l.1 .9M396.5 215.3l.1 .9M396.5 211l.1 1M396.5 206.7l.1 1M396.5 202.4l.1 1M396.5 198.1l.1 1M396.5 193.8l.2 1M396.5 189.5l.2 1M396.5 185.2l.2 1M396.5 180.9l.2 1M396.5 176.5l.2 .9M396.5 172.2l.2 .9M396.5 167.9l.2 .9M396.5 163.6l.2 .9M396.5 159.3l.2 .9M396.5 155l.2 .8M396.5 150.7l.2 .8M396.5 146.4l.2 .8M396.5 142.1l.2 .8M396.5 137.8l.2 .7M396.5 133.5l.2 .7M399.5 228.2l.1 .8M399.5 223.9l.1 .8M399.5 219.6l.1 .8M399.5 215.3l.1 .8M399.5 211l.1 .9M399.5 206.7l.1 .9M399.5 202.4l.1 .9M399.5 198.1l.1 .9M399.5 193.8l.2 .9M399.5 189.5l.2 .9M399.5 185.2l.2 .9M399.5 180.9l.2 .9M399.5 176.5l.2 .9M399.5 172.2l.2 .8M399.5 167.9l.2 .8M399.5 163.6l.2 .8M399.5 159.3l.2 .8M399.5 155l.2 .8M399.5 150.7l.2 .8M399.5 146.4l.2 .8M399.5 142.1l.2 .7M399.5 137.8l.2 .7M399.5 133.5l.2 .7M402.4 228.2l.1 .8M402.4 223.9l.1 .8M402.4 219.6l.1 .8M402.4 215.3l.1 .8M402.4 211l.1 .8M402.4 206.7l.1 .8M402.4 202.4l.1 .8M402.4 198.1l.1 .8M402.4 193.8l.2 .8M402.4 189.5l.2 .8M402.4 185.2l.2 .8M402.4 180.9l.2 .8M402.4 176.5l.2 .8M402.4 172.2l.2 .8M402.4 167.9l.2 .8M402.4 163.6l.2 .8M402.4 159.3l.2 .8M402.4 155l.2 .7M402.4 150.7l.2 .7M402.4 146.4l.2 .7M402.4 142.1l.2 .7M402.4 137.8l.2 .7M402.4 133.5l.2 .7M405.4 228.2l.1 .7M405.4 223.9l.1 .7M405.4 219.6l.1 .7M405.4 215.3l.1 .8M405.4 211l.1 .8M405.4 206.7l.1 .8M405.4 202.4l.1 .8M405.4 198.1l.1 .8M405.4 193.8l.2 .8M405.4 189.5l.2 .8M405.4 185.2l.2 .8M405.4 180.9l.2 .8M405.4 176.5l.2 .8M405.4 172.2l.2 .8M405.4 167.9l.2 .7M405.4 163.6l.2 .7M405.4 159.3l.2 .7M405.4 155l.2 .7M405.4 150.7l.2 .7M405.4 146.4l.2 .7M405.4 142.1l.2 .7M405.4 137.8l.2 .7M405.4 133.5l.2 .7M408.3 228.2l.1 .7M408.3 223.9l.1 .7M408.3 219.6l.1 .7M408.3 215.3l.1 .7M408.3 211l.1 .7M408.3 206.7l.1 .7M408.3 202.4l.1 .7M408.3 198.1l.1 .7M408.3 193.8l.2 .7M408.3 189.5l.2 .7M408.3 185.2l.2 .7M408.3 180.9l.2 .7M408.3 176.5l.2 .7M408.3 172.2l.2 .7M408.3 167.9l.2 .7M408.3 163.6l.2 .7M408.3 159.3l.2 .7M408.3 155l.2 .7M408.3 150.7l.2 .7M408.3 146.4l.2 .7M408.3 142.1l.2 .7M408.3 137.8l.2 .7M408.3 133.5l.2 .7M411.3 228.2l.1 .7M411.3 223.9l.1 .7M411.3 219.6l.1 .7M411.3 215.3l.1 .7M411.3 211l.1 .7M411.3 206.7l.1 .7M411.3 202.4l.1 .7M411.3 198.1l.1 .7M411.3 193.8l.1 .7M411.3 189.5l.2 .7M411.3 185.2l.2 .7M411.3 180.9l.2 .7M411.3 176.5l.2 .7M411.3 172.2l.2 .7M411.3 167.9l.2 .7M411.3 163.6l.2 .7M411.3 159.3l.2 .7M411.3 155l.2 .7M411.3 150.7l.2 .7M411.3 146.4l.2 .7M411.3 142.1l.2 .7M411.3 137.8l.2 .7M411.3 133.5l.2 .7M414.2 228.2l.1 .7M414.2 223.9l.1 .7M414.2 219.6l.1 .7M414.2 215.3l.1 .7M414.2 211l.1 .7M414.2 206.7l.1 .7M414.2 202.4l.1 .7M414.2 198.1l.1 .7M414.2 193.8l.1 .7M414.2 189.5l.2 .7M414.2 185.2l.2 .7M414.2 180.9l.2 .7M414.2 176.5l.2 .7M414.2 172.2l.2 .7M414.2 167.9l.2 .7M414.2 163.6l.2 .7M414.2 159.3l.2 .7M414.2 155l.2 .7M414.2 150.7l.2 .7M414.2 146.4l.2 .7M414.2 142.1l.2 .7M414.2 137.8l.2 .7M414.2 133.5l.2 .7M417.2 228.2l.1 .7M417.2 223.9l.1 .7M417.2 219.6l.1 .7M417.2 215.3l.1 .7M417.2 211l.1 .7M417.2 206.7l.1 .7M417.2 202.4l.1 .7M417.2 198.1l.1 .7M417.2 193.8l.1 .7M417.2 189.5l.2 .7M417.2 185.2l.2 .7M417.2 180.9l.2 .7M417.2 176.5l.2 .7M417.2 172.2l.2 .7M417.2 167.9l.2 .7M417.2 163.6l.2 .7M417.2 159.3l.2 .7M417.2 155l.2 .7M417.2 150.7l.2 .7M417.2 146.4l.2 .7M417.2 142.1l.2 .7M417.2 137.8l.2 .7M417.2 133.5l.2 .7M420.1 228.2l.1 .7M420.1 223.9l.1 .7M420.1 219.6l.1 .7M420.1 215.3l.1 .7M420.1 211l.1 .7M420.1 206.7l.1 .7M420.1 202.4l.1 .7M420.1 198.1l.1 .7M420.1 193.8l.1 .7M420.1 189.5l.2 .7M420.1 185.2l.2 .7M420.1 180.9l.2 .7M420.1 176.5l.2 .7M420.1 172.2l.2 .7M420.1 167.9l.2 .7M420.1 163.6l.2 .7M420.1 159.3l.2 .7M420.1 155l.2 .7M420.1 150.7l.2 .7M420.1 146.4l.2 .7M420.1 142.1l.2 .7M420.1 137.8l.2 .7M420.1 133.5l.2 .7M423 228.2l.1 .7M423 223.9l.1 .7M423 219.6l.1 .7M423 215.3l.1 .7M423 211l.1 .7M423 206.7l.1 .7M423 202.4l.1 .7M423 198.1l.1 .7M423 193.8l.1 .7M423 189.5l.2 .7M423 185.2l.2 .7M423 180.9l.2 .7M423 176.5l.2 .7M423 172.2l.2 .7M423 167.9l.2 .7M423 163.6l.2 .7M423 159.3l.2 .7M423 155l.2 .7M423 150.7l.2 .7M423 146.4l.2 .7M423 142.1l.2 .7M423 137.8l.2 .7M423 133.5l.2 .7M426 228.2l.1 .7M426 223.9l.1 .7M426 219.6l.1 .7M426 215.3l.1 .7M426 211l.1 .7M426 206.7l.1 .7M426 202.4l.1 .7M426 198.1l.1 .7M426 193.8l.1 .7M426 189.5l.2 .7M426 185.2l.2 .7M426 180.9l.2 .7M426 176.5l.2 .7M426 172.2l.2 .7M426 167.9l.2 .7M426 163.6l.2 .7M426 159.3l.2 .7M426 155l.2 .7M426 150.7l.2 .7M426 146.4l.2 .7M426 142.1l.2 .7M426 137.8l.2 .7M426 133.5l.2 .7M428.9 228.2l.1 .7M428.9 223.9l.1 .7M428.9 219.6l.1 .7M428.9 215.3l.1 .7M428.9 211l.1 .7M428.9 206.7l.1 .7M428.9 202.4l.1 .7M428.9 198.1l.1 .7M428.9 193.8l.1 .7M428.9 189.5l.2 .7M428.9 185.2l.2 .7M428.9 180.9l.2 .7M428.9 176.5l.2 .7M428.9 172.2l.2 .7M428.9 167.9l.2 .7M428.9 163.6l.2 .7M428.9 159.3l.2 .7M428.9 155l.2 .7M428.9 150.7l.2 .7M428.9 146.4l.2 .7M428.9 142.1l.2 .7M428.9 137.8l.2 .7M428.9 133.5l.2 .7M431.9 228.2l.1 .7M431.9 223.9l.1 .7M431.9 219.6l.1 .7M431.9 215.3l.1 .7M431.9 211l.1 .7M431.9 206.7l.1 .7M431.9 202.4l.1 .7M431.9 198.1l.1 .7M431.9 193.8l.1 .7M431.9 189.5l.2 .7M431.9 185.2l.2 .7M431.9 180.9l.2 .7M431.9 176.5l.2 .7M431.9 172.2l.2 .7M431.9 167.9l.2 .7M431.9 163.6l.2 .7M431.9 159.3l.2 .7M431.9 155l.2 .7M431.9 150.7l.2 .7M431.9 146.4l.2 .7M431.9 142.1l.2 .7M431.9 137.8l.2 .7M431.9 133.5l.2 .7M434.8 228.2l.1 .7M434.8 223.9l.1 .7M434.8 219.6l.1 .7M434.8 215.3l.1 .7M434.8 211l.1 .7M434.8 206.7l.1 .7M434.8 202.4l.1 .7M434.8 198.1l.1 .7M434.8 193.8l.1 .7M434.8 189.5l.2 .7M434.8 185.2l.2 .7M434.8 180.9l.2 .7M434.8 176.5l.2 .7M434.8 172.2l.2 .7M434.8 167.9l.2 .7M434.8 163.6l.2 .7M434.8 159.3l.2 .7M434.8 155l.2 .7M434.8 150.7l.2 .7M434.8 146.4l.2 .7M434.8 142.1l.2 .7M434.8 137.8l.2 .7M434.8 133.5l.2 .7M437.8 228.2l.1 .7M437.8 223.9l.1 .7M437.8 219.6l.1 .7M437.8 215.3l.1 .7M437.8 211l.1 .7M437.8 206.7l.1 .7M437.8 202.4l.1 .7M437.8 198.1l.1 .7M437.8 193.8l.1 .7M437.8 189.5l.2 .7M437.8 185.2l.2 .7M437.8 180.9l.2 .7M437.8 176.5l.2 .7M437.8 172.2l.2 .7M437.8 167.9l.2 .7M437.8 163.6l.2 .7M437.8 159.3l.2 .7M437.8 155l.2 .7M437.8 150.7l.2 .7M437.8 146.4l.2 .7M437.8 142.1l.2 .7M437.8 137.8l.2 .7M437.8 133.5l.2 .7M440.7 228.2l.1 .7M440.7 223.9l.1 .7M440.7 219.6l.1 .7M440.7 215.3l.1 .7M440.7 211l.1 .7M440.7 206.7l.1 .7M440.7 202.4l.1 .7M440.7 198.1l.1 .7M440.7 193.8l.1 .7M440.7 189.5l.2 .7M440.7 185.2l.2 .7M440.7 180.9l.2 .7M440.7 176.5l.2 .7M440.7 172.2l.2 .7M440.7 167.9l.2 .7M440.7 163.6l.2 .7M440.7 159.3l.2 .7M440.7 155l.2 .7M440.7 150.7l.2 .7M440.7 146.4l.2 .7M440.7 142.1l.2 .7M440.7 137.8l.2 .7M440.7 133.5l.2 .7M443.7 228.2l.1 .7M443.7 223.9l.1 .7M443.7 219.6l.1 .7M443.7 215.3l.1 .7M443.7 211l.1 .7M443.7 206.7l.1 .7M443.7 202.4l.1 .7M443.7 198.1l.1 .7M443.7 193.8l.1 .7M443.7 189.5l.2 .7M443.7 185.2l.2 .7M443.7 180.9l.2 .7M443.7 176.5l.2 .7M443.7 172.2l.2 .7M443.7 167.9l.2 .7M443.7 163.6l.2 .7M443.7 159.3l.2 .7M443.7 155l.2 .7M443.7 150.7l.2 .7M443.7 146.4l.2 .7M443.7 142.1l.2 .7M443.7 137.8l.2 .7M443.7 133.5l.2 .7M446.6 228.2l.1 .7M446.6 223.9l.1 .7M446.6 219.6l.1 .7M446.6 215.3l.1 .7M446.6 211l.1 .7M446.6 206.7l.1 .7M446.6 202.4l.1 .7M446.6 198.1l.1 .7M446.6 193.8l.1 .7M446.6 189.5l.2 .7M446.6 185.2l.2 .7M446.6 180.9l.2 .7M446.6 176.5l.2 .7M446.6 172.2l.2 .7M446.6 167.9l.2 .7M446.6 163.6l.2 .7M446.6 159.3l.2 .7M446.6 155l.2 .7M446.6 150.7l.2 .7M446.6 146.4l.2 .7M446.6 142.1l.2 .7M446.6 137.8l.2 .7M446.6 133.5l.2 .7M449.6 228.2l.1 .7M449.6 223.9l.1 .7M449.6 219.6l.1 .7M449.6 215.3l.1 .7M449.6 211l.1 .7M449.6 206.7l.1 .7M449.6 202.4l.1 .7M449.6 198.1l.1 .7M449.6 193.8l.1 .7M449.6 189.5l.2 .7M449.6 185.2l.2 .7M449.6 180.9l.2 .7M449.6 176.5l.2 .7M449.6 172.2l.2 .7M449.6 167.9l.2 .7M449.6 163.6l.2 .7M449.6 159.3l.2 .7M449.6 155l.2 .7M449.6 150.7l.2 .7M449.6 146.4l.2 .7M449.6 142.1l.2 .7M449.6 137.8l.2 .7M449.6 133.5l.2 .7M452.5 228.2l.1 .7M452.5 223.9l.1 .7M452.5 219.6l.1 .7M452.5 215.3l.1 .7M452.5 211l.1 .7M452.5 206.7l.1 .7M452.5 202.4l.1 .7M452.5 198.1l.1 .7M452.5 193.8l.1 .7M452.5 189.5l.2 .7M452.5 185.2l.2 .7M452.5 180.9l.2 .7M452.5 176.5l.2 .7M452.5 172.2l.2 .7M452.5 167.9l.2 .7M452.5 163.6l.2 .7M452.5 159.3l.2 .7M452.5 155l.2 .7M452.5 150.7l.2 .7M452.5 146.4l.2 .7M452.5 142.1l.2 .7M452.5 137.8l.2 .7M452.5 133.5l.2 .7M455.5 228.2l.1 .7M455.5 223.9l.1 .7M455.5 219.6l.1 .7M455.5 215.3l.1 .7M455.5 211l.1 .7M455.5 206.7l.1 .7M455.5 202.4l.1 .7M455.5 198.1l.1 .7M455.5 193.8l.1 .7M455.5 189.5l.2 .7M455.5 185.2l.2 .7M455.5 180.9l.2 .7M455.5 176.5l.2 .7M455.5 172.2l.2 .7M455.5 167.9l.2 .7M455.5 163.6l.2 .7M455.5 159.3l.2 .7M455.5 155l.2 .7M455.5 150.7l.2 .7M455.5 146.4l.2 .7M455.5 142.1l.2 .7M455.5 137.8l.2 .7M455.5 133.5l.2 .7M458.4 228.2l.1 .7M458.4 223.9l.1 .7M458.4 219.6l.1 .7M458.4 215.3l.1 .7M458.4 211l.1 .7M458.4 206.7l.1 .7M458.4 202.4l.1 .7M458.4 198.1l.1 .7M458.4 193.8l.1 .7M458.4 189.5l.2 .7M458.4 185.2l.2 .7M458.4 180.9l.2 .7M458.4 176.5l.2 .7M458.4 172.2l.2 .7M458.4 167.9l.2 .7M458.4 163.6l.2 .7M458.4 159.3l.2 .7M458.4 155l.2 .7M458.4 150.7l.2 .7M458.4 146.4l.2 .7M458.4 142.1l.2 .7M458.4 137.8l.2 .7M458.4 133.5l.2 .7M461.4 228.2l.1 .7M461.4 223.9l.1 .7M461.4 219.6l.1 .7M461.4 215.3l.1 .7M461.4 211l.1 .7M461.4 206.7l.1 .7M461.4 202.4l.1 .7M461.4 198.1l.1 .7M461.4 193.8l.1 .7M461.4 189.5l.2 .7M461.4 185.2l.2 .7M461.4 180.9l.2 .7M461.4 176.5l.2 .7M461.4 172.2l.2 .7M461.4 167.9l.2 .7M461.4 163.6l.2 .7M461.4 159.3l.2 .7M461.4 155l.2 .7M461.4 150.7l.2 .7M461.4 146.4l.2 .7M461.4 142.1l.2 .7M461.4 137.8l.2 .7M461.4 133.5l.2 .7" stroke="#aaa" stroke-width="0.6" fill="none"/>
<path d="M299.3 202.4l-.1 -1M299.3 198.1l-.1 -1M299.3 193.8l0 -1M302.2 219.6l-.3 -1M302.2 215.3l-.3 -1M302.2 211l-.3 -1.1M302.2 206.7l-.2 -1.1M302.2 202.4l-.1 -1.2M302.2 198.1l-.1 -1.2M302.2 193.8l0 -1.2M302.2 176.5l.3 -1.1M302.2 172.2l.3 -1M302.2 167.9l.3 -1M305.2 228.2l-.5 -1M305.2 223.9l-.5 -1M305.2 219.6l-.4 -1.1M305.2 215.3l-.4 -1.2M305.2 211l-.3 -1.2M305.2 206.7l-.2 -1.3M305.2 202.4l-.2 -1.3M305.2 198.1l-.1 -1.4M305.2 193.8l0 -1.4M305.2 180.9l.2 -1.3M305.2 176.5l.3 -1.2M305.2 172.2l.4 -1.2M305.2 167.9l.4 -1.1M305.2 163.6l.5 -1M305.2 159.3l.5 -1M305.2 155l.5 -.9M308.1 228.2l-.6 -1.1M308.1 223.9l-.5 -1.2M308.1 219.6l-.5 -1.3M308.1 215.3l-.4 -1.3M308.1 211l-.4 -1.4M308.1 206.7l-.3 -1.5M308.1 202.4l-.2 -1.5M308.1 198.1l-.1 -1.6M308.1 180.9l.3 -1.5M308.1 176.5l.4 -1.4M308.1 172.2l.5 -1.3M308.1 167.9l.5 -1.3M308.1 163.6l.5 -1.2M308.1 159.3l.6 -1.1M308.1 155l.6 -1M308.1 150.7l.6 -.9M308.1 146.4l.6 -.8M311.1 228.2l-.7 -1.2M311.1 223.9l-.7 -1.3M311.1 219.6l-.6 -1.4M311.1 215.3l-.5 -1.5M311.1 211l-.5 -1.6M311.1 176.5l.5 -1.6M311.1 172.2l.5 -1.5M311.1 167.9l.6 -1.4M311.1 163.6l.7 -1.3M311.1 159.3l.7 -1.2M311.1 155l.7 -1.1M311.1 150.7l.7 -1M311.1 146.4l.7 -.9M311.1 142.1l.7 -.8M314 228.2l-.8 -1.3M314 223.9l-.8 -1.4M314 163.6l.8 -1.4M314 159.3l.8 -1.3M314 155l.8 -1.2M314 150.7l.8 -1.1M314 146.4l.8 -.9M314 142.1l.8 -.8M314 137.8l.8 -.7M317 159.3l1 -1.4M317 155l1 -1.3M317 150.7l1 -1.1M317 146.4l1 -1M317 142.1l.9 -.9M317 137.8l.9 -.8M317 133.5l.8 -.7M319.9 150.7l1.1 -1.2M319.9 146.4l1.1 -1M319.9 142.1l1.1 -.9M319.9 137.8l1 -.8M319.9 133.5l.9 -.7M322.9 146.4l1.3 -1.1M322.9 142.1l1.2 -.9M322.9 137.8l1.1 -.8M322.9 133.5l1.1 -.7M325.8 142.1l1.4 -.9M325.8 137.8l1.3 -.8M325.8 133.5l1.2 -.7M328.8 137.8l1.4 -.7M328.8 133.5l1.3 -.6M331.7 137.8l1.5 -.7M331.7 133.5l1.4 -.6M334.6 133.5l1.5 -.5M337.6 193.8l.4 -1.5M337.6 133.5l1.6 -.4M340.5 133.5l1.6 -.3M343.5 133.5l1.7 -.1M346.4 133.5l1.7 0M349.4 133.5l1.7 .1M352.3 133.5l1.6 .3M355.3 133.5l1.6 .4M358.2 133.5l1.5 .5M361.2 137.8l1.5 .7M361.2 133.5l1.4 .6M364.1 137.8l1.4 .7M364.1 133.5l1.3 .6M367.1 142.1l1.4 .9M367.1 137.8l1.3 .8M367.1 133.5l1.2 .7M370 211l-.6 1.5M370 146.4l1.3 1.1M370 142.1l1.2 .9M370 137.8l1.1 .8M370 133.5l1.1 .7M373 211l.1 1.1M373 206.7l-.1 1.7M373 150.7l1.1 1.2M373 146.4l1.1 1M373 142.1l1.1 .9M373 137.8l1 .8M373 133.5l.9 .7M375.9 211l1.2 .7M375.9 206.7l.6 1.5M375.9 159.3l1 1.4M375.9 155l1 1.3M375.9 150.7l1 1.1M375.9 146.4l1 1M375.9 142.1l.9 .9M375.9 137.8l.9 .8M375.9 133.5l.8 .7M378.8 167.9l.7 1.5M378.8 163.6l.8 1.4M378.8 159.3l.8 1.3M378.8 155l.8 1.2M378.8 150.7l.8 1.1M378.8 146.4l.8 .9M378.8 142.1l.8 .8M378.8 137.8l.8 .7M381.8 180.9l.4 1.6M381.8 176.5l.5 1.6M381.8 172.2l.5 1.5M381.8 167.9l.6 1.4M381.8 163.6l.7 1.3M381.8 159.3l.7 1.2M381.8 155l.7 1.1M381.8 150.7l.7 1M381.8 146.4l.7 .9M381.8 142.1l.7 .8M384.7 202.4l0 1.6M384.7 198.1l-.1 1.5M384.7 193.8l0 1.5M384.7 189.5l.1 1.5M384.7 185.2l.2 1.5M384.7 180.9l.3 1.5M384.7 176.5l.4 1.4M384.7 172.2l.4 1.3M384.7 167.9l.5 1.3M384.7 163.6l.5 1.2M384.7 159.3l.6 1.1M384.7 155l.6 1M384.7 150.7l.6 .9M384.7 146.4l.6 .8M387.7 206.7l0 1.5M387.7 202.4l-.1 1.4M387.7 198.1l-.1 1.4M387.7 193.8l0 1.4M387.7 189.5l.1 1.4M387.7 185.2l.2 1.3M387.7 180.9l.2 1.3M387.7 176.5l.3 1.2M387.7 172.2l.4 1.2M387.7 167.9l.4 1.1M387.7 163.6l.5 1M387.7 159.3l.5 1M387.7 155l.5 .9M390.6 215.3l-.2 1.3M390.6 211l-.1 1.2M390.6 206.7l-.1 1.2M390.6 202.4l-.1 1.2M390.6 198.1l-.1 1.2M390.6 193.8l0 1.2M390.6 189.5l.1 1.2M390.6 185.2l.1 1.2M390.6 180.9l.2 1.1M390.6 176.5l.3 1.1M390.6 172.2l.3 1M390.6 167.9l.3 1M393.6 202.4l-.1 1M393.6 198.1l-.1 1M393.6 193.8l0 1M393.6 189.5l.1 1M393.6 185.2l.1 1" stroke="#444" stroke-width="1" fill="none"/>
</g>
<path d="M287.5 232.5v3.5M293.4 232.5v2M299.3 232.5v2M305.2 232.5v2M311.1 232.5v2M317 232.5v3.5M322.9 232.5v2M328.8 232.5v2M334.6 232.5v2M340.5 232.5v2M346.4 232.5v3.5M352.3 232.5v2M358.2 232.5v2M364.1 232.5v2M370 232.5v2M375.9 232.5v3.5M381.8 232.5v2M387.7 232.5v2M393.6 232.5v2M399.5 232.5v2M405.4 232.5v3.5M411.3 232.5v2M417.2 232.5v2M423 232.5v2M428.9 232.5v2M434.8 232.5v3.5M440.7 232.5v2M446.6 232.5v2M452.5 232.5v2M458.4 232.5v2M464.3 232.5v3.5M287.5 232.5h-3.5M287.5 228.2h-2M287.5 223.9h-2M287.5 219.6h-2M287.5 215.3h-3.5M287.5 211h-2M287.5 206.7h-2M287.5 202.4h-2M287.5 198.1h-3.5M287.5 193.8h-2M287.5 189.5h-2M287.5 185.2h-2M287.5 180.8h-3.5M287.5 176.5h-2M287.5 172.2h-2M287.5 167.9h-2M287.5 163.6h-3.5M287.5 159.3h-2M287.5 155h-2M287.5 150.7h-2M287.5 146.4h-3.5M287.5 142.1h-2M287.5 137.8h-2M287.5 133.5h-2M287.5 129.2h-3.5" stroke="#333" stroke-width="0.7" fill="none"/>
<rect x="287.5" y="129.2" width="176.8" height="103.3" fill="none" stroke="#333" stroke-width="1"/>
<text x="287.5" y="243.7" text-anchor="middle" class="tk">0</text>
<text x="317" y="243.7" text-anchor="middle" class="tk">5</text>
<text x="346.4" y="243.7" text-anchor="middle" class="tk">10</text>
<text x="375.9" y="243.7" text-anchor="middle" class="tk">15</text>
<text x="405.4" y="243.7" text-anchor="middle" class="tk">20</text>
<text x="434.8" y="243.7" text-anchor="middle" class="tk">25</text>
<text x="464.3" y="243.7" text-anchor="middle" class="tk">30</text>
<text x="282.5" y="235.2" text-anchor="end" class="tk">0</text>
<text x="282.5" y="218" text-anchor="end" class="tk">2</text>
<text x="282.5" y="200.8" text-anchor="end" class="tk">4</text>
<text x="282.5" y="183.5" text-anchor="end" class="tk">6</text>
<text x="282.5" y="166.3" text-anchor="end" class="tk">8</text>
<text x="282.5" y="149.1" text-anchor="end" class="tk">10</text>
<text x="282.5" y="131.9" text-anchor="end" class="tk">12</text>
<text x="292" y="144.8" class="lt">(f)</text>
<text x="359.8" y="146.8" class="pt">t = 0.4 s</text>
<text x="420.8" y="149.5" class="pt">0.2 m/s</text>
<path d="M431.9 137.4h5.5" stroke="#222" stroke-width="0.75"/><path d="M438.4 137.4l-1.6 -.75v1.5z" fill="#222"/>
<rect x="227.3" y="129.2" width="5.4" height="103.3" fill="url(#cbs)" stroke="#333" stroke-width="0.6"/>
<text x="237.3" y="234.7" class="cb">0</text>
<text x="237.3" y="183" class="cb">200</text>
<text x="237.3" y="131.4" class="cb">400(Pa)</text>
<path d="M232.7 232.5h2M232.7 180.8h2M232.7 129.2h2" stroke="#333" stroke-width="0.6"/>
<rect x="475.5" y="129.2" width="5.4" height="103.3" fill="url(#cbd)" stroke="#333" stroke-width="0.6"/>
<text x="485.5" y="234.7" class="cb">-300</text>
<text x="485.5" y="208.9" class="cb">-150</text>
<text x="485.5" y="183" class="cb">0</text>
<text x="485.5" y="157.2" class="cb">150</text>
<text x="485.5" y="131.4" class="cb">300 (Pa)</text>
<path d="M480.9 232.5h2M480.9 206.7h2M480.9 180.8h2M480.9 155h2M480.9 129.2h2" stroke="#333" stroke-width="0.6"/>
<text x="9.8" y="167" text-anchor="middle" class="al">x<tspan class="sub" dy="1.8">2</tspan></text>
<text x="11" y="177.7" text-anchor="middle" class="al">(cm)</text>
<text x="260.8" y="185.8" class="cl">p<tspan class="sub2" dy="1.3">s</tspan></text>
<text x="510.4" y="185.8" class="cl">p<tspan class="sub2" dy="1.3">d</tspan></text>
<g clip-path="url(#c02)"><rect x="39.4" y="253.2" width="176.9" height="103.3" fill="#fdfafb"/><g filter="url(#bl)"><path d="M30.6 369.4 182.4 369.4 182.4 356.5 169.4 350.3 157.9 347.7 145.5 346.7 128.7 347.2 119.9 346.6 111.9 342.3 104.9 339.8 97.8 335.5 90.7 336.1 75.7 329.4 55.2 319.1 39.4 309.3 30.6 309.3 30.6 369.4Z" fill="#fdf4f5" fill-rule="evenodd"/><path d="M30.6 369.4 177.8 369.4 177.8 356.5 169.4 352.4 157 349.6 145.5 348.8 128.7 349.2 119.9 348.6 111.9 344.2 104.9 341.8 97.8 337.4 90.7 338.1 74.4 330.7 56.4 321.6 39.4 311.3 30.6 311.3 30.6 369.4Z" fill="#fbe8ea" fill-rule="evenodd"/><path d="M30.6 369.4 174.2 369.4 174.2 356.5 169.4 354.2 157 351.4 145.5 350.6 128.7 351 119.9 350.4 111.9 346 104.9 343.5 97.8 339.1 90.7 339.8 73.9 332.1 56.2 323.2 39.4 313 30.6 313 30.6 369.4Z" fill="#f8dade" fill-rule="evenodd"/><path d="M30.6 369.4 170.8 369.4 170.8 356.5 168.5 355.5 157 353.1 145.5 352.2 128.7 352.6 119.9 352 111.9 347.6 104.9 345.1 97.8 340.7 90.7 341.3 73.9 333.6 56.2 324.7 39.4 314.5 30.6 314.5 30.6 369.4Z" fill="#f6cbd0" fill-rule="evenodd"/><path d="M30.6 369.4 165.1 369.4 165.1 356.5 157 354.8 145.5 353.9 128.7 354.3 119.9 353.7 111.9 349.3 104.9 346.7 97.8 342.3 90.7 342.9 73.9 335.2 56.2 326.3 39.4 316 30.6 316 30.6 369.4Z" fill="#f2b2b9" fill-rule="evenodd"/><path d="M30.6 369.4 157.9 369.4 157.9 356.5 145.5 355.5 128.7 355.9 119.9 355.2 111.9 350.8 104.9 348.3 97.8 343.8 90.7 344.4 73.9 336.7 56.2 327.8 39.4 317.5 30.6 317.5 30.6 369.4Z" fill="#ed929d" fill-rule="evenodd"/><path d="M30.6 369.4 118.5 369.4 118.5 356.5 111.9 352.8 104.9 350.2 97.8 345.7 90.7 346.3 73.9 338.6 56.2 329.6 39.4 319.4 30.6 319.4 30.6 369.4Z" fill="#e86e7d" fill-rule="evenodd"/><path d="M30.6 369.4 115 369.4 115 356.5 111.9 354.8 104.9 352.2 97.8 347.6 90.7 348.2 73.9 340.4 56.2 331.5 39.4 321.2 30.6 321.2 30.6 369.4Z" fill="#e55463" fill-rule="evenodd"/><path d="M30.6 369.4 111.1 369.4 111.1 356.5 104.9 354.1 97.8 349.6 90.7 350.1 73.9 342.3 56.2 333.3 39.4 323.1 30.6 323.1 30.6 369.4Z" fill="#e23a49" fill-rule="evenodd"/><path d="M30.6 369.4 105.6 369.4 105.6 356.5 97.8 351.6 90.7 352.1 73.9 344.2 56.2 335.3 39.4 325 30.6 325 30.6 369.4Z" fill="#de2332" fill-rule="evenodd"/><path d="M30.6 369.4 101 369.4 101 356.5 97.8 354.4 90.7 354.8 73.9 346.8 56.2 337.9 39.4 327.6 30.6 327.6 30.6 369.4Z" fill="#d70f1e" fill-rule="evenodd"/><path d="M30.6 369.4 88 369.4 88 356.5 56.2 340.9 39.4 330.6 30.6 330.6 30.6 369.4Z" fill="#cd0413" fill-rule="evenodd"/><path d="M30.6 369.4 80.2 369.4 80.2 356.5 56.2 344.5 39.4 334.3 30.6 334.3 30.6 369.4Z" fill="#c00110" fill-rule="evenodd"/><path d="M30.6 369.4 69.4 369.4 69.4 356.5 56.2 349.8 39.4 339.5 30.6 339.5 30.6 369.4Z" fill="#b00110" fill-rule="evenodd"/><path d="M30.6 369.4 46.7 369.4 46.7 356.5 39.4 352 30.6 352 30.6 369.4Z" fill="#9f0411" fill-rule="evenodd"/></g>
<path d="M39.4 306.7 40.7 307.6 42.1 308.4 43.4 309.2 44.8 310 46.1 310.8 47.4 311.6 48.8 312.5 50.1 313.3 51.4 314.1 52.8 314.9 54.1 315.7 55.5 316.5 56.8 317.3 58.1 318 59.5 318.7 60.8 319.3 62.1 320 63.5 320.7 64.8 321.3 66.2 322 67.5 322.7 68.8 323.4 70.2 324 71.5 324.7 72.8 325.4 74.2 326 75.5 326.6 76.9 327.2 78.2 327.9 79.5 328.5 80.9 329.1 82.2 329.7 83.6 330.3 84.9 330.9 86.2 331.5 87.6 332.1 88.9 332.7 90.2 333.3 91.6 333.5 92.9 333.4 94.3 333.2 95.6 333.1 96.9 332.9 98.3 333.1 99.6 333.9 100.9 334.8 102.3 335.6 103.6 336.4 105 337.2 106.3 337.6 107.6 338.1 109 338.5 110.3 339 111.6 339.4 113 340.1 114.3 340.8 115.7 341.6 117 342.3 118.3 343 119.7 343.7 121 344.1 122.3 344.1 123.7 344.2 125 344.3 126.4 344.3 127.7 344.4 129 344.4 130.4 344.4 131.7 344.4 133.1 344.3 134.4 344.3 135.7 344.3 137.1 344.2 138.4 344.2 139.7 344.2 141.1 344.1 142.4 344.1 143.8 344.1 145.1 344 146.4 344.1 147.8 344.2 149.1 344.3 150.4 344.4 151.8 344.5 153.1 344.6 154.5 344.7 155.8 344.8 157.1 344.9 158.5 345.1 159.8 345.4 161.1 345.7 162.5 346 163.8 346.3 165.2 346.6 166.5 346.9 167.8 347.2 169.2 347.5 170.5 348.1 171.9 348.8 173.2 349.4 174.5 350.1 175.9 350.7 177.2 351.4 178.5 352 179.9 352.6 181.2 353.2 182.6 353.8 183.9 354.4 185.2 355.7 186.6 357.1 187.9 358.5 189.2 359.8 190.6 360.4 191.9 360.4 193.3 360.4 194.6 360.4 195.9 360.4 197.3 360.4 198.6 360.4M39.4 309.8 40.7 310.6 42.1 311.4 43.4 312.2 44.8 313 46.1 313.8 47.4 314.7 48.8 315.5 50.1 316.3 51.4 317.1 52.8 317.9 54.1 318.7 55.5 319.6 56.8 320.3 58.1 321 59.5 321.7 60.8 322.3 62.1 323 63.5 323.7 64.8 324.4 66.2 325 67.5 325.7 68.8 326.4 70.2 327.1 71.5 327.7 72.8 328.4 74.2 329 75.5 329.7 76.9 330.3 78.2 330.9 79.5 331.5 80.9 332.1 82.2 332.7 83.6 333.3 84.9 333.9 86.2 334.5 87.6 335.1 88.9 335.7 90.2 336.3 91.6 336.5 92.9 336.4 94.3 336.2 95.6 336.1 96.9 335.9 98.3 336.1 99.6 337 100.9 337.8 102.3 338.6 103.6 339.4 105 340.2 106.3 340.6 107.6 341.1 109 341.5 110.3 342 111.6 342.5 113 343.1 114.3 343.9 115.7 344.6 117 345.3 118.3 346 119.7 346.8 121 347.1 122.3 347.1 123.7 347.2 125 347.3 126.4 347.3 127.7 347.4 129 347.5 130.4 347.4 131.7 347.4 133.1 347.4 134.4 347.3 135.7 347.3 137.1 347.3 138.4 347.2 139.7 347.2 141.1 347.1 142.4 347.1 143.8 347.1 145.1 347 146.4 347.1 147.8 347.2 149.1 347.3 150.4 347.4 151.8 347.5 153.1 347.6 154.5 347.7 155.8 347.8 157.1 347.9 158.5 348.1 159.8 348.4 161.1 348.7 162.5 349 163.8 349.3 165.2 349.6 166.5 349.9 167.8 350.2 169.2 350.5 170.5 351.1 171.9 351.8 173.2 352.5 174.5 353.1 175.9 353.8 177.2 354.4 178.5 355 179.9 355.6 181.2 356.2 182.6 356.8 183.9 357.4 185.2 358.8 186.6 360.1 187.9 361.5 189.2 362.9 190.6 363.4 191.9 363.4 193.3 363.4 194.6 363.4 195.9 363.4 197.3 363.4 198.6 363.4" stroke="#5f9440" stroke-width="0.65" fill="none"/>
<path d="M107.2 330.7l-4.3 -4.9M107.2 326.4l-3.1 -5.7M107.2 322.1l-1.3 -6.4M107.2 317.8l.5 -6.5M107.2 313.5l2.1 -6.1M110.2 335l-5.7 -3.1M110.2 330.7l-5.1 -4.1M110.2 326.4l-3.7 -5.3M110.2 322.1l-1.5 -6.3M110.2 317.8l1.1 -6.4M110.2 313.5l3.1 -5.7M110.2 309.2l4.2 -4.9M113.1 335l-6.3 -1.7M113.1 330.7l-5.9 -2.6M113.1 326.4l-4.9 -4.2M113.1 317.8l2.3 -6.1M113.1 313.5l4.5 -4.7M113.1 309.2l5.3 -3.7M113.1 304.9l5.7 -3.1M116.1 335l-6.5 .2M116.1 330.7l-6.5 -.2M116.1 313.5l6.1 -2.3M116.1 309.2l6.2 -1.9M116.1 304.9l6.3 -1.6M119 335l-6.1 2.1M119 330.7l-5.9 2.6M119 313.5l6.4 1.1M119 309.2l6.5 .4M119 304.9l6.5 0M122 335l-5.3 3.7M122 322.1l.2 6.5M122 317.8l3.7 5.3M122 313.5l5.4 3.5M122 309.2l6.1 2.3M122 304.9l6.3 1.6M124.9 335l-4.4 4.8M124.9 330.7l-3.4 5.5M124.9 322.1l.5 6.5M124.9 317.8l2.8 5.9M124.9 313.5l4.5 4.7M124.9 309.2l5.4 3.7M127.8 326.4l-1.1 6.4M127.8 322.1l.6 6.5M127.8 317.8l2.3 6.1M127.8 313.5l3.7 5.3M157.3 347.9l-3 -3.3M157.3 343.6l-1.8 -4.1M157.3 339.3l-.1 -4.5M157.3 335l1.6 -4.2M160.3 347.9l-3.9 -2.3M160.3 343.6l-2.7 -3.6M160.3 339.3l.2 -4.5M160.3 335l2.7 -3.6M160.3 330.7l3.6 -2.7M163.2 352.2l-4.5 .1M163.2 347.9l-4.5 -.1M163.2 335l4.3 -1.2M163.2 330.7l4.4 -.9M166.2 352.2l-4.1 1.8M166.2 347.9l-3.8 2.4M166.2 343.6l-2.7 3.6M166.2 335l3.9 2.3M166.2 330.7l4.3 1.2M169.1 347.9l-2.7 3.6M169.1 343.6l-1.3 4.3M169.1 339.3l.9 4.4M169.1 335l2.7 3.6M169.1 330.7l3.6 2.7M172.1 352.2l4 .3M172.1 347.9l4 .3M175 352.2l4 .3M178 352.2l4 .3M180.9 352.2l4 .3" stroke="#111" stroke-width="0.62" fill="none"/>
<path d="M103.9 326.9l-1 -1.1M104.9 322l-.7 -1.3M106.2 317.2l-.3 -1.5M107.6 312.8l.1 -1.5M108.9 308.7l.5 -1.4M105.8 332.6l-1.3 -.7M106.3 327.5l-1.2 -.9M107.3 322.3l-.9 -1.2M109 317.2l-.3 -1.5M111 312.8l.3 -1.5M112.5 309.1l.7 -1.3M113.4 305.4l1 -1.1M108.3 333.7l-1.4 -.4M108.5 328.7l-1.4 -.6M109.3 323.1l-1.1 -1M114.9 313.1l.5 -1.4M116.6 309.8l1 -1.1M117.2 306.3l1.2 -.9M117.5 302.4l1.3 -.7M111.1 335.1l-1.5 0M111.1 330.5l-1.5 0M120.7 311.7l1.4 -.5M120.8 307.7l1.4 -.4M120.9 303.6l1.5 -.4M114.3 336.6l-1.4 .5M114.4 332.7l-1.4 .6M123.9 314.3l1.5 .3M124 309.5l1.5 .1M124 304.9l1.5 0M117.9 337.9l-1.2 .9M122.1 327.1l0 1.5M124.8 321.9l.9 1.2M126.1 316.2l1.3 .8M126.6 311l1.4 .5M126.8 306.1l1.5 .4M121.5 338.7l-1 1.1M122.3 334.9l-.8 1.3M125.3 327.1l.1 1.5M127.1 322.3l.7 1.4M128.3 317.1l1 1.1M129 312l1.2 .8M127 331.3l-.3 1.5M128.3 327l.1 1.5M129.7 322.4l.5 1.4M130.7 317.5l.9 1.2M155.3 345.7l-1 -1.1M156.1 340.8l-.6 -1.4M157.3 336.3l0 -1.5M158.4 332.2l.5 -1.4M157.7 346.4l-1.3 -.8M158.5 341.2l-.9 -1.2M160.4 336.3l.1 -1.5M162.1 332.6l.9 -1.2M162.7 328.9l1.2 -.9M160.2 352.3l-1.5 0M160.2 347.8l-1.5 0M166.1 334.1l1.4 -.4M166.2 330.1l1.5 -.3M163.4 353.4l-1.4 .6M163.6 349.5l-1.3 .8M164.4 346l-.9 1.2M168.8 336.5l1.3 .8M169.1 331.5l1.4 .4M167.3 350.3l-.9 1.2M168.3 346.5l-.4 1.4M169.7 342.2l.3 1.5M170.9 337.4l.9 1.2M171.5 332.4l1.2 .9M174.6 352.4l1.5 .1M174.6 348.1l1.5 .1M177.5 352.4l1.5 .1M180.5 352.4l1.5 .1M183.4 352.4l1.5 .1" stroke="#111" stroke-width="1.4" fill="none"/>
<path d="M42.3 309.2l1.1 .6M45.3 313.5l1.1 .6M48.2 313.5l1.1 .6M51.2 317.8l1.1 .6M54.1 317.8l1.1 .6M57.1 317.8l1.1 .6M60 322.1l1.1 .6M63 322.1l1.1 .6M65.9 322.1l1.1 .6M68.9 326.4l1.1 .6M71.8 326.4l1.1 .6M74.8 326.4l1.1 .6M77.7 330.7l1.1 .6M80.7 330.7l1.1 .6M83.6 330.7l1.1 .6M86.6 335l1.1 .6M89.5 335l1.1 .6M92.5 335l1.1 .6M95.4 335l1.1 .6M98.4 335l1.1 .6M101.3 335l1.1 .6M113.1 343.6l.2 1.4M113.1 339.3l.2 1.4M113.1 335l.2 1.4M116.1 343.6l.2 1.4M116.1 339.3l.2 1.4M116.1 335l.2 1.4M119 343.6l.2 1.4M119 339.3l.2 1.4M119 335l.2 1.4M122 343.6l.2 1.4M122 339.3l.2 1.4M122 335l.2 1.4M124.9 343.6l.2 1.4M124.9 339.3l.2 1.4M124.9 335l.2 1.4M130.8 352.2l1.6 .2M130.8 347.9l1.6 .2M130.8 343.6l1.6 .2M133.7 352.2l1.6 .2M133.7 347.9l1.6 .2M133.7 343.6l1.6 .2M136.7 352.2l1.6 .2M136.7 347.9l1.6 .2M136.7 343.6l1.6 .2M139.6 352.2l1.6 .2M139.6 347.9l1.6 .2M139.6 343.6l1.6 .2M142.6 352.2l1.6 .2M142.6 347.9l1.6 .2M142.6 343.6l1.6 .2M145.5 352.2l1.6 .2M145.5 347.9l1.6 .2M145.5 343.6l1.6 .2M148.5 352.2l1.6 .2M148.5 347.9l1.6 .2M148.5 343.6l1.6 .2M151.4 352.2l1.6 .2M151.4 347.9l1.6 .2M151.4 343.6l1.6 .2M154.4 352.2l1.6 .2M154.4 347.9l1.6 .2M154.4 343.6l1.6 .2" stroke="#444" stroke-width="1" fill="none"/>
</g>
<path d="M39.4 356.5v3.5M45.3 356.5v2M51.2 356.5v2M57.1 356.5v2M63 356.5v2M68.9 356.5v3.5M74.8 356.5v2M80.7 356.5v2M86.6 356.5v2M92.5 356.5v2M98.4 356.5v3.5M104.3 356.5v2M110.2 356.5v2M116.1 356.5v2M122 356.5v2M127.8 356.5v3.5M133.7 356.5v2M139.6 356.5v2M145.5 356.5v2M151.4 356.5v2M157.3 356.5v3.5M163.2 356.5v2M169.1 356.5v2M175 356.5v2M180.9 356.5v2M186.8 356.5v3.5M192.7 356.5v2M198.6 356.5v2M204.5 356.5v2M210.4 356.5v2M216.3 356.5v3.5M39.4 356.5h-3.5M39.4 352.2h-2M39.4 347.9h-2M39.4 343.6h-2M39.4 339.3h-3.5M39.4 335h-2M39.4 330.7h-2M39.4 326.4h-2M39.4 322.1h-3.5M39.4 317.8h-2M39.4 313.5h-2M39.4 309.2h-2M39.4 304.9h-3.5M39.4 300.5h-2M39.4 296.2h-2M39.4 291.9h-2M39.4 287.6h-3.5M39.4 283.3h-2M39.4 279h-2M39.4 274.7h-2M39.4 270.4h-3.5M39.4 266.1h-2M39.4 261.8h-2M39.4 257.5h-2M39.4 253.2h-3.5" stroke="#333" stroke-width="0.7" fill="none"/>
<rect x="39.4" y="253.2" width="176.9" height="103.3" fill="none" stroke="#333" stroke-width="1"/>
<text x="39.4" y="367.7" text-anchor="middle" class="tk">0</text>
<text x="68.9" y="367.7" text-anchor="middle" class="tk">5</text>
<text x="98.4" y="367.7" text-anchor="middle" class="tk">10</text>
<text x="127.8" y="367.7" text-anchor="middle" class="tk">15</text>
<text x="157.3" y="367.7" text-anchor="middle" class="tk">20</text>
<text x="186.8" y="367.7" text-anchor="middle" class="tk">25</text>
<text x="216.3" y="367.7" text-anchor="middle" class="tk">30</text>
<text x="34.4" y="359.2" text-anchor="end" class="tk">0</text>
<text x="34.4" y="342" text-anchor="end" class="tk">2</text>
<text x="34.4" y="324.8" text-anchor="end" class="tk">4</text>
<text x="34.4" y="307.6" text-anchor="end" class="tk">6</text>
<text x="34.4" y="290.3" text-anchor="end" class="tk">8</text>
<text x="34.4" y="273.1" text-anchor="end" class="tk">10</text>
<text x="34.4" y="255.9" text-anchor="end" class="tk">12</text>
<text x="43.9" y="268.8" class="lt">(c)</text>
<text x="111.7" y="270.8" class="pt">t = 0.8 s</text>
<text x="172.7" y="273.5" class="pt">0.2 m/s</text>
<path d="M183.8 261.4h5.5" stroke="#222" stroke-width="0.75"/><path d="M190.3 261.4l-1.6 -.75v1.5z" fill="#222"/>
<g clip-path="url(#c12)"><g filter="url(#bl)"><path d="M364.5 360.4 370.6 361.1 377.7 360.9 383.9 359.9 389.2 358.2 392.7 356.3 395.2 353.9 396.1 351.3 395.5 347.5 393.6 344.3 390 341.5 384.7 339.6 379.4 338.8 374.1 339.1 357.3 342.3 353.8 343.3 351.1 344.9 349.8 346.2 348.6 348.8 348.7 351.3 350.2 353.9 352.9 356.2 356.5 358.1 360.9 359.6 364.5 360.4Z" fill="#fef8f8" fill-rule="evenodd"/><path d="M368.9 356.5 375.9 356.6 379.4 356.1 383 355 386.8 352.6 387.8 351.3 388.1 348.8 386.5 346.3 384.4 344.9 380.3 343.4 375.9 342.8 371.5 343 366.2 344 361.8 345.5 358.9 347.5 358.1 348.8 357.9 350 358.3 351.3 359.2 352.6 360.8 353.9 363.5 355.2 368.9 356.5Z" fill="#fdf2f3" fill-rule="evenodd"/><path d="M368.3 351.3 372.4 352.4 375.9 352 377.8 351.3 378.6 350.6 379 350 378.8 348.8 376.8 347.5 375 347.1 372.4 347 369.9 347.5 367.7 348.8 367.3 350 368.3 351.3Z" fill="#fbebed" fill-rule="evenodd"/><path d="M406.9 352.6 408.6 353.2 410.4 353.2 413 352.2 414.8 350.9 416.5 348.8 417.9 346.2 418.8 343.6 419.4 339.7 418.8 333.3 416.7 328.1 413.9 324.9 411.3 323.4 409.5 323.1 406 323.6 404.2 324.7 402.4 326.3 399.9 330.7 398.9 334.5 399.1 339.7 401.1 346.2 404.2 350.7 406.9 352.6ZM358 335.8 361.8 336.5 365.3 336.1 368.8 335 371.7 333.3 374.3 330.7 375.9 328.1 377.4 324.2 378.3 320.3 378.6 315.2 378.4 311.3 377.3 306.1 375.7 302.3 373.3 298.4 370.6 295.5 367.9 293.8 364.4 292.7 361.8 292.6 358.2 293.6 355.6 295.3 353.8 296.9 351.6 299.7 350.1 302.3 348.6 306.1 347.7 310 347.3 313.9 347.4 319.1 348.1 322.9 349.3 326.8 351.1 330.4 352.9 332.7 355.2 334.5 358 335.8Z" fill="#f7f7fe" fill-rule="evenodd"/><path d="M407.2 350 408.6 350.4 410.4 350.3 412.1 349.6 413.9 348.2 416 344.9 417.3 339.7 416.9 334.5 415.4 330.7 413 327.7 411.3 326.6 409.5 326.1 406.8 326.5 404.2 328.2 401.8 332 400.8 335.8 401 341 402.2 344.9 404.2 347.9 406 349.5 407.2 350ZM359.9 333.3 362.6 333.7 365.3 333.4 367.9 332.3 370.6 330.2 373.7 325.5 375 321.6 375.6 317.8 375.7 313.9 375.1 310 374 306.1 372.7 303.6 370.9 301 368.8 299 366.2 297.5 363.5 296.9 361.8 296.9 359.1 297.7 356.5 299.4 354.7 301.3 351.9 306.1 350.3 312.6 350.4 319.1 352.1 325.5 353.5 328.1 355.6 330.6 357.3 332.1 359.9 333.3Z" fill="#f1f1fe" fill-rule="evenodd"/><path d="M408.2 348.8 410.4 348.7 413 347.1 415.3 343.6 416.1 339.7 416 335.8 414.7 332 412.1 328.9 409.5 327.8 406.8 328.2 404.2 330.3 402.6 333.3 401.7 337.1 402 341 403.4 344.9 406 347.8 408.2 348.8ZM359.3 330.7 360.9 331.3 363.5 331.5 365.3 331.2 367.9 329.9 369.8 328.1 371.6 325.5 372.8 322.9 373.8 319.1 373.8 312.6 373 308.7 372 306.1 368.8 301.8 367.1 300.5 364.4 299.5 360.9 299.6 357.3 301.6 355.5 303.6 353.9 306.1 352.2 311.3 351.9 316.5 353.1 322.9 355.6 327.6 357.3 329.4 359.3 330.7Z" fill="#e9e9fd" fill-rule="evenodd"/><path d="M405.8 346.2 406.8 346.9 408.6 347.5 411.3 346.9 413.3 344.9 414.9 341 415.2 337.1 414.1 333.3 412.1 330.5 409.5 329.3 406.8 329.7 405.1 331.1 403.7 333.3 402.9 335.8 402.7 338.4 403 341 403.9 343.6 405.8 346.2ZM361.3 329.4 363.5 329.6 365.3 329.2 367.1 328.3 368.8 326.7 370.6 324.2 371.7 321.6 372.6 316.5 372.2 311.3 370.2 306.1 367.1 302.7 363.5 301.4 361.8 301.5 360 302 358.2 303.2 356.6 304.9 354.4 308.7 353.3 313.9 353.5 319.1 355.3 324.2 358.2 327.9 361.3 329.4Z" fill="#e1e1fc" fill-rule="evenodd"/><path d="M406 344.9 407.7 346 410.4 345.9 411.9 344.9 412.9 343.6 414 341 414.2 337.1 413.6 334.5 412 332 409.5 330.6 407.7 330.7 406 331.8 404.8 333.3 403.8 335.8 403.6 338.4 403.9 341 405 343.6 406 344.9ZM359.3 326.8 360.9 327.7 362.6 328 364.4 327.8 366.2 327.1 369.1 324.2 370.4 321.6 371.2 319.1 371.4 313.9 370.1 308.7 367.9 305.4 366.2 303.9 364.4 303.2 361.8 303.1 359.1 304.3 356.5 307.4 354.9 311.3 354.4 315.2 355 320.3 356.8 324.2 359.3 326.8Z" fill="#d6d6fc" fill-rule="evenodd"/><path d="M408.6 344.9 410.4 344.6 412.1 342.9 413 341 413.4 338.4 413 335.8 412.1 333.9 410.4 332.2 408.6 331.9 406.8 332.6 406 333.5 404.8 335.8 404.4 338.4 404.8 341 406 343.2 406.8 344.1 408.6 344.9ZM359.6 325.5 360.9 326.3 362.6 326.6 365.3 326.1 367.1 324.9 368.6 322.9 370.2 319.1 370.5 313.9 369.6 310 367.1 306.2 365.3 304.9 363.5 304.4 360.9 304.8 358.2 306.8 356.5 309.7 355.6 312.6 355.3 316.5 356.1 320.3 357.3 323.1 359.6 325.5Z" fill="#cacafb" fill-rule="evenodd"/><path d="M406.6 342.3 407.7 343.3 409.5 343.5 411.3 342.3 412 341 412.5 338.4 412 335.8 411.3 334.5 409.5 333.3 407.7 333.5 406.5 334.5 405.8 335.8 405.5 339.7 406.6 342.3ZM359.7 324.2 360.9 325 362.6 325.5 365.3 324.9 367.9 322.3 369.3 319.1 369.6 313.9 368.6 310 366.2 306.8 363.5 305.6 360.9 306.1 359.1 307.3 357.3 309.9 356.4 312.6 356.1 315.2 356.6 319.1 357.6 321.6 359.7 324.2Z" fill="#bcbcf9" fill-rule="evenodd"/><path d="M407.2 341 408.6 342 409.5 341.9 410.4 341.3 411.2 339.7 411.2 337.1 410.4 335.5 409.5 334.9 408.6 334.8 407.7 335.3 406.6 337.1 406.6 339.7 407.2 341ZM361.8 324.2 364.4 324.1 366.3 322.9 368 320.3 369 316.5 368.7 312.6 367.7 310 366.2 308 363.5 306.7 360.9 307.2 359.1 308.6 357.6 311.3 356.9 313.9 357 317.8 357.8 320.3 359.6 322.9 361.8 324.2Z" fill="#aaaaf8" fill-rule="evenodd"/><path d="M408.4 338.4 408.6 339 409.5 338.4 408.6 337.8 408.4 338.4ZM361.2 322.9 363.5 323.4 365.3 322.6 367.1 320.6 368.1 317.8 368.2 313.9 367.5 311.3 365.6 308.7 363.5 307.7 361.8 307.8 360 308.9 358.4 311.3 357.7 313.9 357.6 316.5 358.1 319.1 359.6 321.6 361.2 322.9Z" fill="#9595f7" fill-rule="evenodd"/><path d="M360.9 321.6 362.6 322.3 364.4 322 366.2 320.3 367.3 317.8 367.6 315.2 367.1 312.4 365.7 310 363.5 308.8 361.8 308.9 360.2 310 359.1 311.7 358.4 313.9 358.5 317.8 359.6 320.3 360.9 321.6Z" fill="#7d7df5" fill-rule="evenodd"/><path d="M360.9 320.3 362.6 321.2 364.4 320.8 366 319.1 366.5 317.8 366.8 315.2 366.3 312.6 365.3 311 363.5 309.9 361.8 310.1 360.9 310.7 360 311.9 359.2 313.9 359.4 317.8 360.9 320.3Z" fill="#6868f3" fill-rule="evenodd"/><path d="M361.2 319.1 362.6 319.9 363.5 319.8 364.7 319.1 365.5 317.8 365.9 316.5 365.7 313.9 365.2 312.6 363.5 311.2 361.8 311.5 360.7 312.6 360.1 313.9 360 316.5 361.2 319.1Z" fill="#5151f1" fill-rule="evenodd"/><path d="M361.7 317.8 362.6 318.3 363.5 318.2 364.8 316.5 364.5 313.9 363.5 312.8 362.6 312.7 361.4 313.9 361.1 316.5 361.7 317.8Z" fill="#3737ee" fill-rule="evenodd"/></g>
<path d="M287.5 306.7 288.6 307.4 289.7 308.1 290.8 308.7 291.9 309.4 292.9 310.1 294 310.7 295.1 311.4 296.2 312.1 297.3 312.7 298.4 313.4 299.5 314.1 300.6 314.7 301.7 315.4 302.8 316.1 303.8 316.7 304.9 317.3 306 317.9 307.1 318.4 308.2 319 309.3 319.5 310.4 320.1 311.5 320.6 312.6 321.2 313.6 321.7 314.7 322.3 315.8 322.8 316.9 323.4 318 323.9 319.1 324.5 320.2 325 321.3 325.6 322.4 326.1 323.5 326.6 324.5 327.1 325.6 327.6 326.7 328.1 327.8 328.5 328.9 329 330 329.5 331.1 330 332.2 330.5 333.3 331 334.3 331.5 335.4 332 336.5 332.5 337.6 333 338.7 333.5 339.8 333.5 340.9 333.4 342 333.3 343.1 333.1 344.2 333 345.2 332.9 346.3 333.1 347.4 333.8 348.5 334.5 349.6 335.1 350.7 335.8 351.8 336.4 352.9 337.1 354 337.5 355.1 337.9 356.1 338.2 357.2 338.6 358.3 339 359.4 339.3 360.5 339.8 361.6 340.4 362.7 341 363.8 341.6 364.9 342.2 365.9 342.8 367 343.4 368.1 344 369.2 344.1 370.3 344.1 371.4 344.2 372.5 344.2 373.6 344.3 374.7 344.3 375.8 344.4 376.8 344.4 377.9 344.4 379 344.4 380.1 344.4 381.2 344.3 382.3 344.3 383.4 344.3 384.5 344.3 385.6 344.2 386.6 344.2 387.7 344.2 388.8 344.1 389.9 344.1 391 344.1 392.1 344.1 393.2 344 394.3 344.1 395.4 344.1 396.5 344.2 397.5 344.3 398.6 344.4 399.7 344.5 400.8 344.5 401.9 344.6 403 344.7 404.1 344.8 405.2 344.9 406.3 345.1 407.3 345.3 408.4 345.6 409.5 345.8 410.6 346 411.7 346.3 412.8 346.5 413.9 346.7 415 347 416.1 347.2 417.2 347.5M287.5 309.8 288.6 310.4 289.7 311.1 290.8 311.8 291.9 312.4 292.9 313.1 294 313.7 295.1 314.4 296.2 315.1 297.3 315.7 298.4 316.4 299.5 317.1 300.6 317.7 301.7 318.4 302.8 319.1 303.8 319.7 304.9 320.3 306 320.9 307.1 321.4 308.2 322 309.3 322.5 310.4 323.1 311.5 323.6 312.6 324.2 313.6 324.7 314.7 325.3 315.8 325.8 316.9 326.4 318 326.9 319.1 327.5 320.2 328 321.3 328.6 322.4 329.1 323.5 329.6 324.5 330.1 325.6 330.6 326.7 331.1 327.8 331.6 328.9 332.1 330 332.6 331.1 333 332.2 333.5 333.3 334 334.3 334.5 335.4 335 336.5 335.5 337.6 336 338.7 336.5 339.8 336.5 340.9 336.4 342 336.3 343.1 336.2 344.2 336 345.2 335.9 346.3 336.1 347.4 336.8 348.5 337.5 349.6 338.1 350.7 338.8 351.8 339.5 352.9 340.1 354 340.5 355.1 340.9 356.1 341.2 357.2 341.6 358.3 342 359.4 342.4 360.5 342.8 361.6 343.4 362.7 344 363.8 344.6 364.9 345.2 365.9 345.8 367 346.4 368.1 347 369.2 347.1 370.3 347.1 371.4 347.2 372.5 347.2 373.6 347.3 374.7 347.3 375.8 347.4 376.8 347.4 377.9 347.4 379 347.4 380.1 347.4 381.2 347.4 382.3 347.3 383.4 347.3 384.5 347.3 385.6 347.2 386.6 347.2 387.7 347.2 388.8 347.2 389.9 347.1 391 347.1 392.1 347.1 393.2 347 394.3 347.1 395.4 347.2 396.5 347.2 397.5 347.3 398.6 347.4 399.7 347.5 400.8 347.6 401.9 347.6 403 347.7 404.1 347.8 405.2 347.9 406.3 348.1 407.3 348.3 408.4 348.6 409.5 348.8 410.6 349 411.7 349.3 412.8 349.5 413.9 349.8 415 350 416.1 350.2 417.2 350.5" stroke="#5f9440" stroke-width="0.65" fill="none"/>
<path d="M343.5 322.1l-.2 -2.3M343.5 317.8l.2 -2.3M346.4 330.7l-.9 -2.1M346.4 326.4l-.5 -2.5M346.4 322.1l0 -2.8M346.4 317.8l.7 -2.8M346.4 313.5l1.1 -2.6M346.4 309.2l1.3 -2.1M349.4 335l-1.3 -1.8M349.4 330.7l-1 -2.6M349.4 326.4l-.4 -3.4M349.4 322.1l.6 -4M349.4 317.8l1.8 -4.1M349.4 313.5l2.6 -3.5M349.4 309.2l2.8 -2.6M349.4 304.9l2.4 -1.8M349.4 300.5l1.8 -1.2M352.3 335l-1.6 -2.2M352.3 330.7l-1.2 -3.4M352.3 326.4l-.3 -5M352.3 322.1l1.4 -6M352.3 317.8l3.4 -5.9M352.3 313.5l4.8 -4.7M352.3 309.2l5.1 -3M352.3 304.9l4.3 -1.7M352.3 300.5l3 -.9M355.3 339.3l-1.8 -1.4M355.3 335l-2 -2.6M355.3 330.7l-1.8 -4.6M355.3 326.4l-.8 -6.8M355.3 322.1l1.4 -8.1M355.3 317.8l4.4 -7.6M355.3 313.5l6.8 -5.3M355.3 309.2l7.5 -2.7M355.3 304.9l6.4 -.8M355.3 300.5l4.5 -.1M355.3 296.2l2.7 -.1M358.2 339.3l-2.2 -1.3M358.2 335l-2.7 -2.9M358.2 330.7l-3.1 -5.3M358.2 326.4l-2.6 -7.8M358.2 322.1l-.3 -9M358.2 317.8l3.3 -7.4M358.2 313.5l6.7 -4.2M358.2 309.2l8.6 -.8M358.2 304.9l7.7 1.1M358.2 300.5l5.5 1.4M358.2 296.2l3.3 .7M361.2 339.3l-2.5 -1.1M361.2 335l-3.5 -2.6M361.2 330.7l-4.7 -4.9M361.2 326.4l-5.2 -6.9M361.2 322.1l-3.8 -6.9M361.2 317.8l.7 -5.2M361.2 313.5l5.7 -1.2M361.2 309.2l7.1 2.2M361.2 304.9l7.3 3.8M361.2 300.5l5.6 3.2M361.2 296.2l3.5 1.7M364.1 339.3l-2.7 -.6M364.1 335l-4.1 -1.7M364.1 330.7l-6 -3.3M364.1 326.4l-7.5 -4.1M364.1 322.1l-6.9 -2.5M364.1 317.8l-3.3 .2M364.1 313.5l2.1 4.2M364.1 309.2l4.4 5.6M364.1 304.9l5.3 6.3M364.1 300.5l4.5 4.6M364.1 296.2l3 2.5M367.1 352.2l2.8 1.7M367.1 347.9l1.6 1.8M367.1 335l-4 -.6M367.1 330.7l-6.1 -1.3M367.1 326.4l-8 -1.1M367.1 322.1l-8.1 1M367.1 317.8l-5.3 4.2M367.1 313.5l-1.6 6.6M367.1 309.2l1.2 7.9M367.1 304.9l2.8 7.3M367.1 300.5l3 5M367.1 296.2l2.3 2.6M370 352.2l2.9 1.9M370 347.9l1.7 2M370 339.3l-1.1 2.1M370 335l-3.3 .5M370 330.7l-5 .5M370 326.4l-6.8 1.1M370 322.1l-7.4 3M370 317.8l-6.2 5.5M370 313.5l-3.6 7.4M370 309.2l-.8 7.8M370 304.9l1 6.5M370 300.5l1.7 4.3M370 296.2l1.6 2.3M373 352.2l2.9 2M373 347.9l1.8 2.1M373 343.6l.6 2.3M373 339.3l-.7 2.5M373 335l-2.5 1.2M373 330.7l-3.5 1.5M373 326.4l-4.6 2.2M373 322.1l-5.2 3.5M373 317.8l-4.7 5.1M373 313.5l-3.1 6.1M373 309.2l-1.1 6M373 304.9l.4 4.8M373 300.5l1.1 3.1M375.9 352.2l3 2.1M375.9 347.9l1.9 2.3M375.9 343.6l.7 2.5M375.9 339.3l-.4 2.7M375.9 335l-1.8 1.5M375.9 330.7l-2.2 1.9M375.9 326.4l-2.6 2.4M375.9 322.1l-2.8 3.1M375.9 317.8l-2.5 3.9M375.9 313.5l-1.6 4.3M375.9 309.2l-.5 4M375.9 304.9l.4 3.1M375.9 300.5l.9 2.1M378.8 352.2l3.1 2.1M378.8 347.9l2 2.3M378.8 343.6l.9 2.6M378.8 339.3l-.1 2.8M378.8 330.7l-1.4 1.9M378.8 326.4l-1.4 2.3M378.8 322.1l-1.3 2.6M378.8 317.8l-1 2.9M378.8 313.5l-.4 2.9M378.8 309.2l.1 2.7M378.8 304.9l.6 2.2M381.8 352.2l3.2 2.2M381.8 347.9l2.1 2.4M381.8 343.6l1 2.6M381.8 339.3l.1 2.9M381.8 326.4l-.8 2.1M381.8 322.1l-.6 2.3M381.8 317.8l-.3 2.4M381.8 313.5l.1 2.3M384.7 352.2l3.3 2.2M384.7 347.9l2.2 2.4M384.7 343.6l1.2 2.7M384.7 339.3l.2 2.9M387.7 352.2l3.3 2.2M387.7 347.9l2.3 2.4M387.7 343.6l1.3 2.7M387.7 339.3l.3 2.9M390.6 352.2l3.4 2.2M390.6 347.9l2.4 2.4M390.6 343.6l1.4 2.6M390.6 339.3l.4 2.9M393.6 352.2l3.5 2.2M393.6 347.9l2.5 2.4M393.6 343.6l1.5 2.5M393.6 339.3l.6 2.7M396.5 352.2l3.5 2.1M396.5 347.9l2.5 2.1M396.5 343.6l1.7 2M396.5 339.3l.9 2.1M399.5 352.2l3.5 1.8M399.5 347.9l2.5 1.1M402.4 352.2l3.1 1M402.4 343.6l1.7 -2.1M402.4 339.3l2.7 -1.9M402.4 335l3.2 -1.9M402.4 330.7l3.2 -.1M405.4 352.2l2.2 .4M405.4 335l2.9 -.5M405.4 330.7l4.7 .8M405.4 326.4l3.1 1.6M408.3 335l1.7 1.6M408.3 330.7l4 2.9M408.3 326.4l3.4 2.8M411.3 347.9l-1.9 1.4M411.3 343.6l-1.7 2.5M411.3 339.3l-.5 3.9M411.3 335l.6 3.7M411.3 330.7l2.8 4.9M411.3 326.4l2.4 3.6M414.2 352.2l2.2 2M414.2 347.9l-.9 2.8M414.2 343.6l-2.5 4.5M414.2 339.3l-1.7 6M414.2 335l-.6 5.8M414.2 330.7l1.1 5.2M414.2 326.4l1.1 3.2M417.2 352.2l3.2 2.1M417.2 347.9l1.1 2.8M417.2 343.6l-.6 4.1M417.2 339.3l-1.1 5.4M417.2 335l-1 4.3M417.2 330.7l0 3.3M420.1 352.2l3.7 1.9M420.1 347.9l2.5 2.2M420.1 343.6l1.2 2.8M420.1 339.3l.3 3.3M423 352.2l3.9 1.8M423 347.9l2.9 1.9M423 343.6l1.9 2.1M423 339.3l.9 2.2M426 352.2l3.9 1.8M426 347.9l3 1.9M426 343.6l2 1.9M426 339.3l1 2M428.9 352.2l3.9 1.8M428.9 347.9l3 1.8M428.9 343.6l2 1.9M431.9 352.2l4 1.7M431.9 347.9l3 1.8M431.9 343.6l2 1.8" stroke="#111" stroke-width="0.5" fill="none"/>
<path d="M343.4 321.2l-.1 -1.4M343.6 316.9l.1 -1.4M346.1 329.8l-.5 -1.2M346.2 325.3l-.3 -1.5M346.5 320.8l0 -1.5M346.8 316.4l.3 -1.5M347 312.2l.6 -1.4M347 308.3l.8 -1.3M348.9 334.2l-.8 -1.1M348.9 329.5l-.6 -1.4M349.2 324.5l-.2 -1.5M349.8 319.6l.2 -1.5M350.6 315.1l.6 -1.4M351.1 311.2l.9 -1.2M351.1 307.6l1.1 -1M350.6 304l1.2 -.9M350.1 300l1.1 -.7M351.7 334l-.9 -1.2M351.6 328.6l-.5 -1.4M352.1 322.9l-.1 -1.5M353.4 317.5l.3 -1.5M354.9 313.2l.7 -1.3M356.1 309.8l1.1 -1M356.1 306.9l1.3 -.8M355.2 303.7l1.4 -.5M353.9 300.1l1.4 -.4M354.5 338.7l-1.1 -.8M354.2 333.6l-.9 -1.2M354 327.5l-.6 -1.4M354.6 321.1l-.2 -1.5M356.4 315.5l.3 -1.5M358.9 311.5l.8 -1.3M360.9 309.1l1.2 -.9M361.4 307l1.4 -.5M360.2 304.2l1.5 -.2M358.2 300.5l1.5 0M356.5 296.2l1.5 -.1M357.3 338.7l-1.3 -.8M356.5 333.2l-1 -1.1M355.9 326.7l-.8 -1.3M356.1 320l-.5 -1.4M357.9 314.5l-.1 -1.5M360.9 311.7l.6 -1.4M363.7 310.1l1.3 -.8M365.4 308.5l1.5 -.1M364.5 305.7l1.5 .2M362.3 301.5l1.5 .4M360.1 296.7l1.5 .3M360 338.8l-1.4 -.6M358.8 333.3l-1.2 -.9M357.5 326.9l-1 -1.1M356.8 320.7l-.9 -1.2M358.1 316.5l-.7 -1.3M361.7 314l.2 -1.5M365.4 312.6l1.5 -.3M366.9 310.9l1.4 .4M367.2 308l1.3 .7M365.4 303l1.3 .7M363.3 297.3l1.3 .7M362.9 339l-1.5 -.3M361.4 333.8l-1.4 -.6M359.5 328.1l-1.3 -.7M358 323l-1.3 -.7M358.6 320.1l-1.4 -.5M362.3 317.9l-1.5 .1M365.5 316.3l.7 1.3M367.6 313.6l.9 1.2M368.5 310l1 1.1M367.6 304.1l1 1.1M366 297.8l1.2 .9M368.6 353.1l1.3 .8M367.7 348.6l1 1.1M364.6 334.6l-1.5 -.2M362.5 329.7l-1.5 -.3M360.6 325.5l-1.5 -.2M360.4 322.9l-1.5 .2M363 321l-1.2 .9M365.8 318.6l-.4 1.5M368 315.6l.2 1.5M369.3 310.7l.5 1.4M369.3 304.3l.8 1.3M368.4 297.7l1 1.1M371.6 353.2l1.3 .8M370.7 348.7l1 1.1M369.6 340.1l-.7 1.3M368.2 335.2l-1.5 .2M366.5 331l-1.5 .1M364.7 327.3l-1.5 .2M364 324.5l-1.4 .6M364.9 322.3l-1.1 1M367.1 319.5l-.7 1.4M369.3 315.5l-.2 1.5M370.8 309.9l.2 1.5M371.2 303.5l.6 1.4M370.8 297.3l.9 1.2M374.6 353.3l1.2 .8M373.8 348.9l1 1.2M373.2 344.5l.3 1.4M372.7 340.3l-.4 1.4M371.8 335.5l-1.4 .6M370.9 331.6l-1.4 .6M369.7 327.9l-1.4 .6M369 324.7l-1.2 .8M369.3 321.7l-1 1.1M370.6 318.2l-.7 1.3M372.1 313.7l-.3 1.5M373.2 308.2l.1 1.5M373.5 302.3l.5 1.4M377.7 353.4l1.2 .9M376.8 349l1 1.2M376.2 344.6l.4 1.4M375.7 340.5l-.2 1.5M375.2 335.6l-1.1 .9M374.9 331.6l-1.1 1M374.4 327.7l-1.1 1M374.1 324.1l-1 1.1M374.2 320.4l-.8 1.3M374.8 316.3l-.5 1.4M375.6 311.7l-.2 1.5M376.1 306.5l.2 1.5M376.3 301.4l.5 1.3M380.7 353.5l1.2 .9M379.9 349.1l1 1.1M379.3 344.8l.5 1.4M378.8 340.6l-.1 1.5M378.3 331.4l-.8 1.2M378.2 327.4l-.8 1.3M378.2 323.3l-.7 1.3M378.4 319.2l-.5 1.4M378.6 314.9l-.2 1.5M378.9 310.3l.1 1.5M379.1 305.7l.4 1.3M383.7 353.5l1.2 .9M382.9 349.2l1 1.1M382.3 344.8l.6 1.4M381.8 340.7l0 1.5M381.5 327.2l-.5 1.3M381.6 323l-.3 1.4M381.7 318.7l-.2 1.4M381.8 314.4l.1 1.4M386.8 353.6l1.2 .8M385.9 349.2l1 1.1M385.3 344.9l.6 1.4M384.8 340.7l.1 1.5M389.8 353.6l1.2 .8M389 349.2l1 1.1M388.3 344.9l.7 1.4M387.8 340.7l.2 1.5M392.8 353.6l1.3 .8M392 349.2l1.1 1.1M391.3 344.9l.7 1.3M390.8 340.7l.2 1.5M395.8 353.6l1.3 .8M395 349.2l1.1 1M394.3 344.8l.8 1.3M393.8 340.5l.3 1.5M398.8 353.5l1.3 .8M397.9 349l1.2 1M397.2 344.4l1 1.1M396.9 340.1l.6 1.2M401.6 353.3l1.3 .7M400.6 348.4l1.4 .6M404.1 352.7l1.4 .5M403.2 342.7l.9 -1.2M403.9 338.2l1.2 -.9M404.4 333.8l1.3 -.8M404.1 330.6l1.5 0M406.3 352.3l1.3 .2M406.8 334.7l1.5 -.3M408.6 331.2l1.5 .3M407.1 327.3l1.3 .7M409 335.6l1 .9M411.1 332.7l1.2 .9M410.5 328.2l1.2 1M410.5 348.4l-1.1 .8M410.4 344.9l-.8 1.2M411 341.7l-.2 1.5M411.6 337.2l.2 1.5M413.3 334.3l.7 1.3M412.9 328.7l.8 1.2M415.3 353.2l1.1 1M413.8 349.2l-.5 1.4M412.4 346.7l-.7 1.3M412.9 343.8l-.4 1.4M413.8 339.2l-.2 1.5M415 334.4l.3 1.5M414.8 328.1l.5 1.4M419.1 353.4l1.3 .8M417.7 349.3l.6 1.4M416.7 346.2l-.2 1.5M416.3 343.3l-.3 1.5M416.5 337.8l-.3 1.5M417.2 332.5l0 1.5M422.5 353.4l1.3 .7M421.4 349.1l1.1 1M420.7 345l.6 1.4M420.2 341.1l.1 1.5M425.6 353.4l1.4 .6M424.7 349l1.2 .8M423.9 344.6l1 1.1M423.4 340.2l.5 1.3M428.6 353.4l1.4 .6M427.7 348.9l1.3 .8M426.9 344.5l1.1 1M426.4 340.1l.6 1.2M431.5 353.3l1.4 .6M430.6 348.9l1.3 .8M429.9 344.4l1.1 1M434.5 353.3l1.4 .6M433.6 348.9l1.3 .8M432.8 344.4l1.1 1" stroke="#111" stroke-width="1.2" fill="none"/>
<path d="M290.4 352.2l.1 .6M290.4 347.9l.1 .6M290.4 343.6l.1 .6M290.4 339.3l.1 .6M290.4 335l.1 .6M290.4 330.7l.1 .5M290.4 326.4l.1 .5M290.4 322.1l.1 .5M290.4 317.8l.1 .5M290.4 313.5l.2 .5M290.4 309.2l.2 .5M290.4 304.9l.2 .6M290.4 300.5l.2 .6M290.4 296.2l.2 .6M290.4 291.9l.2 .6M290.4 287.6l.2 .6M290.4 283.3l.2 .6M290.4 279l.2 .7M290.4 274.7l.2 .7M293.4 352.2l.1 .6M293.4 347.9l.1 .6M293.4 343.6l.1 .6M293.4 339.3l.1 .5M293.4 335l.1 .5M293.4 330.7l.1 .5M293.4 326.4l.1 .5M293.4 322.1l.1 .5M293.4 317.8l.1 .5M293.4 313.5l.2 .5M293.4 309.2l.2 .5M293.4 304.9l.2 .5M293.4 300.5l.2 .6M293.4 296.2l.2 .6M293.4 291.9l.2 .6M293.4 287.6l.2 .6M293.4 283.3l.2 .6M293.4 279l.2 .7M293.4 274.7l.2 .7M296.3 352.2l.1 .6M296.3 347.9l.1 .6M296.3 343.6l.1 .5M296.3 339.3l.1 .5M296.3 335l.1 .5M296.3 330.7l.1 .5M296.3 326.4l.1 .5M296.3 322.1l.1 .5M296.3 317.8l.1 .5M296.3 313.5l.2 .5M296.3 309.2l.2 .5M296.3 304.9l.2 .5M296.3 300.5l.2 .5M296.3 296.2l.2 .6M296.3 291.9l.2 .6M296.3 287.6l.2 .6M296.3 283.3l.2 .6M296.3 279l.2 .6M296.3 274.7l.2 .7M299.3 352.2l.1 .6M299.3 347.9l.1 .5M299.3 343.6l.1 .5M299.3 339.3l.1 .5M299.3 335l.1 .5M299.3 330.7l.1 .4M299.3 326.4l.1 .4M299.3 322.1l.1 .4M299.3 317.8l.1 .4M299.3 313.5l.2 .4M299.3 309.2l.2 .5M299.3 304.9l.2 .5M299.3 300.5l.2 .5M299.3 296.2l.2 .5M299.3 291.9l.2 .6M299.3 287.6l.2 .6M299.3 283.3l.2 .6M299.3 279l.2 .6M299.3 274.7l.2 .7M302.2 352.2l.1 .6M302.2 347.9l.1 .5M302.2 343.6l.1 .5M302.2 339.3l.1 .5M302.2 335l.1 .4M302.2 330.7l.1 .4M302.2 326.4l.1 .4M302.2 322.1l.1 .4M302.2 317.8l.1 .4M302.2 313.5l.2 .4M302.2 309.2l.2 .4M302.2 304.9l.2 .5M302.2 300.5l.2 .5M302.2 296.2l.2 .5M302.2 291.9l.2 .6M302.2 287.6l.2 .6M302.2 283.3l.2 .6M302.2 279l.2 .6M302.2 274.7l.2 .7M302.2 270.4l.2 .7M302.2 266.1l.2 .7M302.2 261.8l.2 .7M302.2 257.5l.2 .7M305.2 352.2l.1 .5M305.2 347.9l.1 .5M305.2 343.6l.1 .5M305.2 339.3l.1 .4M305.2 335l.1 .4M305.2 330.7l.1 .4M305.2 326.4l.1 .4M305.2 322.1l.1 .3M305.2 317.8l.1 .4M305.2 313.5l.2 .4M305.2 309.2l.2 .4M305.2 304.9l.2 .4M305.2 300.5l.2 .5M305.2 296.2l.2 .5M305.2 291.9l.2 .5M305.2 287.6l.2 .6M305.2 283.3l.2 .6M305.2 279l.2 .6M305.2 274.7l.2 .6M305.2 270.4l.2 .7M305.2 266.1l.2 .7M305.2 261.8l.2 .7M305.2 257.5l.2 .7M308.1 352.2l.1 .5M308.1 347.9l.1 .5M308.1 343.6l.1 .4M308.1 339.3l.1 .4M308.1 335l.1 .4M308.1 330.7l.1 .3M308.1 326.4l.1 .3M308.1 322.1l.1 .3M308.1 317.8l.1 .3M308.1 313.5l.2 .3M308.1 309.2l.2 .4M308.1 304.9l.2 .4M308.1 300.5l.2 .4M308.1 296.2l.2 .5M308.1 291.9l.2 .5M308.1 287.6l.2 .6M308.1 283.3l.2 .6M308.1 279l.2 .6M308.1 274.7l.2 .6M308.1 270.4l.2 .7M308.1 266.1l.2 .7M308.1 261.8l.2 .7M308.1 257.5l.2 .7M311.1 352.2l.1 .5M311.1 347.9l.1 .5M311.1 343.6l0 .4M311.1 339.3l.1 .4M311.1 335l.1 .3M311.1 309.2l.2 .3M311.1 304.9l.2 .3M311.1 300.5l.2 .4M311.1 296.2l.2 .4M311.1 291.9l.2 .5M311.1 287.6l.2 .5M311.1 283.3l.2 .6M311.1 279l.2 .6M311.1 274.7l.2 .6M311.1 270.4l.2 .7M311.1 266.1l.2 .7M311.1 261.8l.2 .7M311.1 257.5l.2 .7M314 352.2l0 .5M314 347.9l0 .4M314 343.6l0 .4M314 339.3l0 .3M314 304.9l.2 .3M314 300.5l.2 .4M314 296.2l.2 .4M314 291.9l.2 .5M314 287.6l.2 .5M314 283.3l.2 .6M314 279l.2 .6M314 274.7l.2 .6M314 270.4l.2 .6M314 266.1l.2 .7M314 261.8l.2 .7M314 257.5l.2 .7M317 352.2l0 .5M317 347.9l0 .4M317 343.6l0 .3M317 300.5l.2 .3M317 296.2l.3 .4M317 291.9l.2 .4M317 287.6l.2 .5M317 283.3l.2 .5M317 279l.2 .6M317 274.7l.2 .6M317 270.4l.2 .6M317 266.1l.2 .7M317 261.8l.2 .7M317 257.5l.2 .7M319.9 352.2l0 .4M319.9 347.9l0 .4M319.9 296.2l.3 .4M319.9 291.9l.3 .4M319.9 287.6l.3 .5M319.9 283.3l.2 .5M319.9 279l.2 .6M319.9 274.7l.2 .6M319.9 270.4l.2 .6M319.9 266.1l.2 .7M319.9 261.8l.2 .7M319.9 257.5l.2 .7M322.9 352.2l0 .4M322.9 291.9l.3 .4M322.9 287.6l.3 .5M322.9 283.3l.3 .5M322.9 279l.2 .6M322.9 274.7l.2 .6M322.9 270.4l.2 .6M322.9 266.1l.2 .7M322.9 261.8l.2 .7M322.9 257.5l.2 .7M325.8 352.2l0 .4M325.8 291.9l.3 .4M325.8 287.6l.3 .4M325.8 283.3l.3 .5M325.8 279l.3 .6M325.8 274.7l.2 .6M325.8 270.4l.2 .6M325.8 266.1l.2 .7M325.8 261.8l.2 .7M325.8 257.5l.2 .7M328.8 352.2l-.1 .4M328.8 291.9l.3 .3M328.8 287.6l.3 .4M328.8 283.3l.3 .5M328.8 279l.3 .5M328.8 274.7l.2 .6M328.8 270.4l.2 .6M328.8 266.1l.2 .7M328.8 261.8l.2 .7M328.8 257.5l.2 .7M331.7 287.6l.3 .4M331.7 283.3l.3 .5M331.7 279l.3 .5M331.7 274.7l.3 .6M331.7 270.4l.2 .6M331.7 266.1l.2 .6M331.7 261.8l.2 .7M331.7 257.5l.2 .7M334.6 287.6l.4 .4M334.6 283.3l.3 .5M334.6 279l.3 .5M334.6 274.7l.3 .6M334.6 270.4l.2 .6M334.6 266.1l.2 .6M334.6 261.8l.2 .7M334.6 257.5l.2 .7M337.6 287.6l.4 .4M337.6 283.3l.4 .5M337.6 279l.3 .5M337.6 274.7l.3 .6M337.6 270.4l.2 .6M337.6 266.1l.2 .6M337.6 261.8l.2 .7M337.6 257.5l.2 .7M340.5 283.3l.4 .5M340.5 279l.3 .5M340.5 274.7l.3 .6M340.5 270.4l.3 .6M340.5 266.1l.2 .7M340.5 261.8l.2 .7M340.5 257.5l.2 .7M343.5 283.3l.4 .5M343.5 279l.4 .5M343.5 274.7l.3 .6M343.5 270.4l.3 .6M343.5 266.1l.2 .7M343.5 261.8l.2 .7M343.5 257.5l.2 .7M346.4 283.3l.4 .5M346.4 279l.4 .6M346.4 274.7l.3 .6M346.4 270.4l.3 .6M346.4 266.1l.2 .7M346.4 261.8l.2 .7M346.4 257.5l.2 .7M349.4 283.3l.5 .5M349.4 279l.4 .6M349.4 274.7l.3 .6M349.4 270.4l.3 .6M349.4 266.1l.2 .7M349.4 261.8l.2 .7M349.4 257.5l.2 .7M352.3 283.3l.5 .5M352.3 279l.4 .6M352.3 274.7l.3 .6M352.3 270.4l.3 .7M352.3 266.1l.3 .7M352.3 261.8l.2 .7M352.3 257.5l.2 .7M355.3 283.3l.5 .6M355.3 279l.4 .6M355.3 274.7l.4 .6M355.3 270.4l.3 .7M355.3 266.1l.3 .7M355.3 261.8l.2 .7M355.3 257.5l.2 .7M358.2 279l.4 .6M358.2 274.7l.4 .7M358.2 270.4l.3 .7M358.2 266.1l.3 .7M358.2 261.8l.2 .7M358.2 257.5l.2 .7M361.2 279l.5 .7M361.2 274.7l.4 .7M361.2 270.4l.3 .7M361.2 266.1l.3 .7M361.2 261.8l.2 .7M361.2 257.5l.2 .7M364.1 279l.5 .7M364.1 274.7l.4 .7M364.1 270.4l.3 .7M364.1 266.1l.3 .7M364.1 261.8l.2 .7M364.1 257.5l.2 .7M367.1 279l.4 .7M367.1 274.7l.4 .7M367.1 270.4l.3 .7M367.1 266.1l.3 .7M367.1 261.8l.2 .7M367.1 257.5l.2 .7M370 283.3l.5 .8M370 279l.4 .8M370 274.7l.4 .8M370 270.4l.3 .7M370 266.1l.3 .7M370 261.8l.2 .7M370 257.5l.2 .7M373 283.3l.5 .9M373 279l.4 .8M373 274.7l.4 .8M373 270.4l.3 .7M373 266.1l.3 .7M373 261.8l.2 .7M373 257.5l.2 .7M375.9 283.3l.5 .9M375.9 279l.4 .8M375.9 274.7l.3 .8M375.9 270.4l.3 .8M375.9 266.1l.3 .7M375.9 261.8l.2 .7M375.9 257.5l.2 .7M378.8 283.3l.5 .9M378.8 279l.4 .8M378.8 274.7l.3 .8M378.8 270.4l.3 .8M378.8 266.1l.2 .7M378.8 261.8l.2 .7M378.8 257.5l.2 .7M381.8 283.3l.4 .9M381.8 279l.4 .9M381.8 274.7l.3 .8M381.8 270.4l.3 .8M381.8 266.1l.2 .7M381.8 261.8l.2 .7M381.8 257.5l.2 .7M384.7 283.3l.4 .9M384.7 279l.3 .9M384.7 274.7l.3 .8M384.7 270.4l.3 .8M384.7 266.1l.2 .8M384.7 261.8l.2 .7M384.7 257.5l.2 .7M387.7 283.3l.4 .9M387.7 279l.3 .9M387.7 274.7l.3 .8M387.7 270.4l.3 .8M387.7 266.1l.2 .8M387.7 261.8l.2 .7M387.7 257.5l.2 .7M390.6 287.6l.4 1M390.6 283.3l.3 .9M390.6 279l.3 .9M390.6 274.7l.3 .8M390.6 270.4l.2 .8M390.6 266.1l.2 .8M390.6 261.8l.2 .7M390.6 257.5l.2 .7M393.6 287.6l.4 1M393.6 283.3l.3 .9M393.6 279l.3 .9M393.6 274.7l.3 .8M393.6 270.4l.2 .8M393.6 266.1l.2 .8M393.6 261.8l.2 .7M393.6 257.5l.2 .7M396.5 287.6l.3 1M396.5 283.3l.3 .9M396.5 279l.3 .9M396.5 274.7l.3 .8M396.5 270.4l.2 .8M396.5 266.1l.2 .8M396.5 261.8l.2 .7M396.5 257.5l.2 .7M399.5 291.9l.3 1.1M399.5 287.6l.3 1M399.5 283.3l.3 .9M399.5 279l.3 .9M399.5 274.7l.2 .8M399.5 270.4l.2 .8M399.5 266.1l.2 .8M399.5 261.8l.2 .7M399.5 257.5l.2 .7M402.4 291.9l.3 1M402.4 287.6l.3 1M402.4 283.3l.3 .9M402.4 279l.2 .8M402.4 274.7l.2 .8M402.4 270.4l.2 .8M402.4 266.1l.2 .7M402.4 261.8l.2 .7M402.4 257.5l.2 .7M405.4 291.9l.3 1M405.4 287.6l.3 .9M405.4 283.3l.3 .9M405.4 279l.2 .8M405.4 274.7l.2 .8M405.4 270.4l.2 .8M405.4 266.1l.2 .7M405.4 261.8l.2 .7M405.4 257.5l.2 .7M408.3 343.6l-.1 .9M408.3 296.2l.3 1M408.3 291.9l.3 1M408.3 287.6l.3 .9M408.3 283.3l.2 .9M408.3 279l.2 .8M408.3 274.7l.2 .8M408.3 270.4l.2 .8M408.3 266.1l.2 .7M408.3 261.8l.2 .7M408.3 257.5l.2 .7M411.3 300.5l.2 1.1M411.3 296.2l.2 1M411.3 291.9l.2 1M411.3 287.6l.2 .9M411.3 283.3l.2 .9M411.3 279l.2 .8M411.3 274.7l.2 .8M411.3 270.4l.2 .8M411.3 266.1l.2 .7M411.3 261.8l.2 .7M411.3 257.5l.2 .7M414.2 304.9l.2 1.1M414.2 300.5l.2 1M414.2 296.2l.2 1M414.2 291.9l.2 .9M414.2 287.6l.2 .9M414.2 283.3l.2 .8M414.2 279l.2 .8M414.2 274.7l.2 .8M414.2 270.4l.2 .8M414.2 266.1l.2 .7M414.2 261.8l.2 .7M414.2 257.5l.2 .7M417.2 309.2l.2 1.1M417.2 304.9l.2 1.1M417.2 300.5l.2 1M417.2 296.2l.2 1M417.2 291.9l.2 .9M417.2 287.6l.2 .9M417.2 283.3l.2 .8M417.2 279l.2 .8M417.2 274.7l.2 .8M417.2 270.4l.2 .7M417.2 266.1l.2 .7M417.2 261.8l.2 .7M417.2 257.5l.2 .7M420.1 317.8l.2 1.1M420.1 313.5l.2 1.1M420.1 309.2l.2 1M420.1 304.9l.2 1M420.1 300.5l.2 1M420.1 296.2l.2 .9M420.1 291.9l.2 .9M420.1 287.6l.2 .8M420.1 283.3l.2 .8M420.1 279l.2 .8M420.1 274.7l.2 .8M420.1 270.4l.2 .7M420.1 266.1l.2 .7M420.1 261.8l.2 .7M420.1 257.5l.2 .7M423 330.7l.1 1.1M423 326.4l.1 1.1M423 322.1l.1 1.1M423 317.8l.2 1M423 313.5l.2 1M423 309.2l.2 1M423 304.9l.2 1M423 300.5l.2 .9M423 296.2l.2 .9M423 291.9l.2 .9M423 287.6l.2 .8M423 283.3l.2 .8M423 279l.2 .8M423 274.7l.2 .8M423 270.4l.2 .7M423 266.1l.2 .7M423 261.8l.2 .7M423 257.5l.2 .7M426 335l.1 1M426 330.7l.1 1M426 326.4l.1 1M426 322.1l.1 1M426 317.8l.2 1M426 313.5l.2 1M426 309.2l.2 1M426 304.9l.2 .9M426 300.5l.2 .9M426 296.2l.2 .9M426 291.9l.2 .8M426 287.6l.2 .8M426 283.3l.2 .8M426 279l.2 .8M426 274.7l.2 .7M426 270.4l.2 .7M426 266.1l.2 .7M426 261.8l.2 .7M426 257.5l.2 .7M428.9 335l.1 .9M428.9 330.7l.1 1M428.9 326.4l.1 1M428.9 322.1l.1 1M428.9 317.8l.2 1M428.9 313.5l.2 1M428.9 309.2l.2 .9M428.9 304.9l.2 .9M428.9 300.5l.2 .9M428.9 296.2l.2 .9M428.9 291.9l.2 .8M428.9 287.6l.2 .8M428.9 283.3l.2 .8M428.9 279l.2 .8M428.9 274.7l.2 .7M428.9 270.4l.2 .7M428.9 266.1l.2 .7M428.9 261.8l.2 .7M428.9 257.5l.2 .7M431.9 335l.1 .9M431.9 330.7l.1 .9M431.9 326.4l.1 .9M431.9 322.1l.1 .9M431.9 317.8l.2 .9M431.9 313.5l.2 .9M431.9 309.2l.2 .9M431.9 304.9l.2 .9M431.9 300.5l.2 .9M431.9 296.2l.2 .8M431.9 291.9l.2 .8M431.9 287.6l.2 .8M431.9 283.3l.2 .8M431.9 279l.2 .8M431.9 274.7l.2 .7M431.9 270.4l.2 .7M431.9 266.1l.2 .7M431.9 261.8l.2 .7M431.9 257.5l.2 .7M434.8 352.2l.1 .8M434.8 347.9l.1 .8M434.8 343.6l.1 .8M434.8 339.3l.1 .9M434.8 335l.1 .9M434.8 330.7l.1 .9M434.8 326.4l.1 .9M434.8 322.1l.1 .9M434.8 317.8l.1 .9M434.8 313.5l.2 .9M434.8 309.2l.2 .9M434.8 304.9l.2 .9M434.8 300.5l.2 .8M434.8 296.2l.2 .8M434.8 291.9l.2 .8M434.8 287.6l.2 .8M434.8 283.3l.2 .8M434.8 279l.2 .7M434.8 274.7l.2 .7M434.8 270.4l.2 .7M434.8 266.1l.2 .7M434.8 261.8l.2 .7M434.8 257.5l.2 .7M437.8 352.2l.1 .8M437.8 347.9l.1 .8M437.8 343.6l.1 .8M437.8 339.3l.1 .8M437.8 335l.1 .8M437.8 330.7l.1 .9M437.8 326.4l.1 .9M437.8 322.1l.1 .9M437.8 317.8l.1 .9M437.8 313.5l.2 .9M437.8 309.2l.2 .9M437.8 304.9l.2 .8M437.8 300.5l.2 .8M437.8 296.2l.2 .8M437.8 291.9l.2 .8M437.8 287.6l.2 .8M437.8 283.3l.2 .8M437.8 279l.2 .7M437.8 274.7l.2 .7M437.8 270.4l.2 .7M437.8 266.1l.2 .7M437.8 261.8l.2 .7M437.8 257.5l.2 .7M440.7 352.2l.1 .8M440.7 347.9l.1 .8M440.7 343.6l.1 .8M440.7 339.3l.1 .8M440.7 335l.1 .8M440.7 330.7l.1 .8M440.7 326.4l.1 .8M440.7 322.1l.1 .8M440.7 317.8l.1 .8M440.7 313.5l.2 .8M440.7 309.2l.2 .8M440.7 304.9l.2 .8M440.7 300.5l.2 .8M440.7 296.2l.2 .8M440.7 291.9l.2 .8M440.7 287.6l.2 .8M440.7 283.3l.2 .7M440.7 279l.2 .7M440.7 274.7l.2 .7M440.7 270.4l.2 .7M440.7 266.1l.2 .7M440.7 261.8l.2 .7M440.7 257.5l.2 .7M443.7 352.2l.1 .8M443.7 347.9l.1 .8M443.7 343.6l.1 .8M443.7 339.3l.1 .8M443.7 335l.1 .8M443.7 330.7l.1 .8M443.7 326.4l.1 .8M443.7 322.1l.1 .8M443.7 317.8l.1 .8M443.7 313.5l.2 .8M443.7 309.2l.2 .8M443.7 304.9l.2 .8M443.7 300.5l.2 .8M443.7 296.2l.2 .8M443.7 291.9l.2 .8M443.7 287.6l.2 .7M443.7 283.3l.2 .7M443.7 279l.2 .7M443.7 274.7l.2 .7M443.7 270.4l.2 .7M443.7 266.1l.2 .7M443.7 261.8l.2 .7M443.7 257.5l.2 .7M446.6 352.2l.1 .7M446.6 347.9l.1 .8M446.6 343.6l.1 .8M446.6 339.3l.1 .8M446.6 335l.1 .8M446.6 330.7l.1 .8M446.6 326.4l.1 .8M446.6 322.1l.1 .8M446.6 317.8l.1 .8M446.6 313.5l.2 .8M446.6 309.2l.2 .8M446.6 304.9l.2 .8M446.6 300.5l.2 .8M446.6 296.2l.2 .8M446.6 291.9l.2 .8M446.6 287.6l.2 .7M446.6 283.3l.2 .7M446.6 279l.2 .7M446.6 274.7l.2 .7M446.6 270.4l.2 .7M446.6 266.1l.2 .7M446.6 261.8l.2 .7M446.6 257.5l.2 .7M449.6 352.2l.1 .7M449.6 347.9l.1 .8M449.6 343.6l.1 .8M449.6 339.3l.1 .8M449.6 335l.1 .8M449.6 330.7l.1 .8M449.6 326.4l.1 .8M449.6 322.1l.1 .8M449.6 317.8l.1 .8M449.6 313.5l.2 .8M449.6 309.2l.2 .8M449.6 304.9l.2 .8M449.6 300.5l.2 .8M449.6 296.2l.2 .8M449.6 291.9l.2 .7M449.6 287.6l.2 .7M449.6 283.3l.2 .7M449.6 279l.2 .7M449.6 274.7l.2 .7M449.6 270.4l.2 .7M449.6 266.1l.2 .7M449.6 261.8l.2 .7M449.6 257.5l.2 .7M452.5 352.2l.1 .7M452.5 347.9l.1 .7M452.5 343.6l.1 .7M452.5 339.3l.1 .8M452.5 335l.1 .8M452.5 330.7l.1 .8M452.5 326.4l.1 .8M452.5 322.1l.1 .8M452.5 317.8l.1 .8M452.5 313.5l.2 .8M452.5 309.2l.2 .8M452.5 304.9l.2 .8M452.5 300.5l.2 .7M452.5 296.2l.2 .7M452.5 291.9l.2 .7M452.5 287.6l.2 .7M452.5 283.3l.2 .7M452.5 279l.2 .7M452.5 274.7l.2 .7M452.5 270.4l.2 .7M452.5 266.1l.2 .7M452.5 261.8l.2 .7M452.5 257.5l.2 .7M455.5 352.2l.1 .7M455.5 347.9l.1 .7M455.5 343.6l.1 .7M455.5 339.3l.1 .7M455.5 335l.1 .8M455.5 330.7l.1 .8M455.5 326.4l.1 .8M455.5 322.1l.1 .8M455.5 317.8l.1 .8M455.5 313.5l.2 .8M455.5 309.2l.2 .8M455.5 304.9l.2 .7M455.5 300.5l.2 .7M455.5 296.2l.2 .7M455.5 291.9l.2 .7M455.5 287.6l.2 .7M455.5 283.3l.2 .7M455.5 279l.2 .7M455.5 274.7l.2 .7M455.5 270.4l.2 .7M455.5 266.1l.2 .7M455.5 261.8l.2 .7M455.5 257.5l.2 .7M458.4 352.2l.1 .7M458.4 347.9l.1 .7M458.4 343.6l.1 .7M458.4 339.3l.1 .7M458.4 335l.1 .7M458.4 330.7l.1 .7M458.4 326.4l.1 .7M458.4 322.1l.1 .7M458.4 317.8l.1 .7M458.4 313.5l.2 .7M458.4 309.2l.2 .7M458.4 304.9l.2 .7M458.4 300.5l.2 .7M458.4 296.2l.2 .7M458.4 291.9l.2 .7M458.4 287.6l.2 .7M458.4 283.3l.2 .7M458.4 279l.2 .7M458.4 274.7l.2 .7M458.4 270.4l.2 .7M458.4 266.1l.2 .7M458.4 261.8l.2 .7M458.4 257.5l.2 .7M461.4 352.2l.1 .7M461.4 347.9l.1 .7M461.4 343.6l.1 .7M461.4 339.3l.1 .7M461.4 335l.1 .7M461.4 330.7l.1 .7M461.4 326.4l.1 .7M461.4 322.1l.1 .7M461.4 317.8l.1 .7M461.4 313.5l.2 .7M461.4 309.2l.2 .7M461.4 304.9l.2 .7M461.4 300.5l.2 .7M461.4 296.2l.2 .7M461.4 291.9l.2 .7M461.4 287.6l.2 .7M461.4 283.3l.2 .7M461.4 279l.2 .7M461.4 274.7l.2 .7M461.4 270.4l.2 .7M461.4 266.1l.2 .7M461.4 261.8l.2 .7M461.4 257.5l.2 .7" stroke="#aaa" stroke-width="0.6" fill="none"/>
<path d="M290.4 270.4l1.3 -.9M290.4 266.1l1.3 -.9M290.4 261.8l1.3 -.8M290.4 257.5l1.3 -.8M293.4 270.4l1.3 -.9M293.4 266.1l1.3 -.9M293.4 261.8l1.3 -.8M293.4 257.5l1.3 -.8M296.3 270.4l1.3 -.9M296.3 266.1l1.3 -.9M296.3 261.8l1.3 -.8M296.3 257.5l1.3 -.8M299.3 270.4l1.3 -.9M299.3 266.1l1.3 -.9M299.3 261.8l1.3 -.9M299.3 257.5l1.3 -.8M311.1 330.7l-.2 -1M311.1 326.4l-.1 -1M311.1 322.1l-.1 -1M311.1 317.8l0 -1M311.1 313.5l.1 -1M314 335l-.2 -1M314 330.7l-.2 -1.1M314 326.4l-.1 -1.1M314 322.1l-.1 -1.1M314 317.8l0 -1.1M314 313.5l.1 -1.1M314 309.2l.1 -1M317 339.3l-.3 -1M317 335l-.3 -1.1M317 330.7l-.2 -1.1M317 326.4l-.1 -1.1M317 322.1l-.1 -1.2M317 317.8l0 -1.1M317 313.5l.1 -1.1M317 309.2l.1 -1.1M317 304.9l.2 -1M319.9 343.6l-.4 -1M319.9 339.3l-.4 -1M319.9 335l-.3 -1.1M319.9 330.7l-.2 -1.2M319.9 326.4l-.2 -1.2M319.9 322.1l-.1 -1.2M319.9 317.8l0 -1.2M319.9 313.5l.1 -1.2M319.9 309.2l.2 -1.1M319.9 304.9l.2 -1.1M319.9 300.5l.3 -1M322.9 347.9l-.5 -.9M322.9 343.6l-.4 -1M322.9 339.3l-.4 -1.1M322.9 335l-.3 -1.1M322.9 330.7l-.3 -1.2M322.9 326.4l-.2 -1.2M322.9 322.1l-.1 -1.3M322.9 317.8l0 -1.3M322.9 313.5l.1 -1.2M322.9 309.2l.2 -1.2M322.9 304.9l.2 -1.1M322.9 300.5l.3 -1M322.9 296.2l.3 -.9M325.8 347.9l-.5 -.9M325.8 343.6l-.5 -1M325.8 339.3l-.4 -1.1M325.8 335l-.4 -1.2M325.8 330.7l-.3 -1.3M325.8 326.4l-.2 -1.3M325.8 322.1l-.1 -1.3M325.8 317.8l0 -1.3M325.8 313.5l.1 -1.3M325.8 309.2l.2 -1.2M325.8 304.9l.3 -1.2M325.8 300.5l.3 -1.1M325.8 296.2l.4 -1M328.8 347.9l-.6 -.9M328.8 343.6l-.5 -1M328.8 339.3l-.5 -1.1M328.8 335l-.4 -1.2M328.8 330.7l-.3 -1.3M328.8 326.4l-.2 -1.4M328.8 322.1l-.1 -1.4M328.8 317.8l0 -1.4M328.8 313.5l.1 -1.3M328.8 309.2l.2 -1.3M328.8 304.9l.3 -1.2M328.8 300.5l.4 -1.1M328.8 296.2l.4 -1M331.7 352.2l-.6 -.8M331.7 347.9l-.6 -.9M331.7 343.6l-.6 -1M331.7 339.3l-.5 -1.2M331.7 335l-.5 -1.3M331.7 330.7l-.4 -1.4M331.7 326.4l-.3 -1.4M331.7 322.1l-.1 -1.4M331.7 317.8l0 -1.4M331.7 313.5l.1 -1.4M331.7 309.2l.3 -1.3M331.7 304.9l.3 -1.2M331.7 300.5l.4 -1.1M331.7 296.2l.5 -1M331.7 291.9l.5 -.9M334.6 352.2l-.7 -.8M334.6 347.9l-.7 -.9M334.6 343.6l-.7 -1M334.6 339.3l-.6 -1.2M334.6 335l-.5 -1.3M334.6 330.7l-.4 -1.4M334.6 326.4l-.3 -1.5M334.6 322.1l-.2 -1.5M334.6 317.8l0 -1.5M334.6 313.5l.2 -1.5M334.6 309.2l.3 -1.4M334.6 304.9l.4 -1.3M334.6 300.5l.5 -1.1M334.6 296.2l.5 -1M334.6 291.9l.6 -.9M337.6 352.2l-.7 -.8M337.6 347.9l-.7 -.9M337.6 343.6l-.7 -1M337.6 339.3l-.7 -1.2M337.6 335l-.6 -1.3M337.6 330.7l-.5 -1.4M337.6 326.4l-.4 -1.5M337.6 322.1l-.2 -1.6M337.6 317.8l0 -1.6M337.6 313.5l.2 -1.5M337.6 309.2l.3 -1.4M337.6 304.9l.5 -1.3M337.6 300.5l.5 -1.2M337.6 296.2l.6 -1M337.6 291.9l.6 -.9M340.5 352.2l-.8 -.8M340.5 347.9l-.8 -.9M340.5 343.6l-.8 -1M340.5 339.3l-.8 -1.2M340.5 335l-.7 -1.3M340.5 330.7l-.6 -1.5M340.5 326.4l-.4 -1.6M340.5 322.1l-.2 -1.6M340.5 317.8l0 -1.6M340.5 313.5l.2 -1.6M340.5 309.2l.4 -1.5M340.5 304.9l.5 -1.3M340.5 300.5l.6 -1.2M340.5 296.2l.7 -1M340.5 291.9l.7 -.9M340.5 287.6l.7 -.7M343.5 352.2l-.9 -.7M343.5 347.9l-.9 -.9M343.5 343.6l-.9 -1M343.5 339.3l-.9 -1.2M343.5 335l-.8 -1.3M343.5 330.7l-.6 -1.5M343.5 326.4l-.4 -1.6M343.5 313.5l.4 -1.7M343.5 309.2l.6 -1.5M343.5 304.9l.7 -1.3M343.5 300.5l.7 -1.2M343.5 296.2l.8 -1M343.5 291.9l.8 -.8M343.5 287.6l.8 -.7M346.4 352.2l-.9 -.7M346.4 347.9l-1 -.8M346.4 343.6l-1 -.9M346.4 339.3l-1 -1.1M346.4 335l-.9 -1.3M346.4 304.9l1 -1.3M346.4 300.5l1 -1.1M346.4 296.2l.9 -.9M346.4 291.9l.9 -.8M346.4 287.6l.8 -.7M349.4 352.2l-1 -.6M349.4 347.9l-1.1 -.7M349.4 343.6l-1.1 -.9M349.4 339.3l-1.1 -1.1M349.4 296.2l1.2 -.8M349.4 291.9l1 -.7M349.4 287.6l.9 -.6M352.3 352.2l-1.1 -.5M352.3 347.9l-1.2 -.6M352.3 343.6l-1.2 -.8M352.3 339.3l-1.2 -1.1M352.3 296.2l1.5 -.5M352.3 291.9l1.2 -.5M352.3 287.6l1 -.5M355.3 352.2l-1.1 -.4M355.3 347.9l-1.2 -.5M355.3 343.6l-1.3 -.7M355.3 291.9l1.4 -.2M355.3 287.6l1.1 -.3M358.2 352.2l-1.2 -.2M358.2 347.9l-1.3 -.3M358.2 343.6l-1.4 -.5M358.2 291.9l1.5 .1M358.2 287.6l1.2 -.1M358.2 283.3l1 -.2M361.2 352.2l-1.2 -.1M361.2 347.9l-1.4 -.2M361.2 343.6l-1.5 -.3M361.2 291.9l1.6 .5M361.2 287.6l1.2 .1M361.2 283.3l1 0M364.1 352.2l-1.2 .1M364.1 347.9l-1.4 0M364.1 343.6l-1.6 -.1M364.1 291.9l1.5 .8M364.1 287.6l1.2 .3M364.1 283.3l1 .1M367.1 343.6l.2 1.5M367.1 339.3l-1.1 1.2M367.1 291.9l1.3 .9M367.1 287.6l1.1 .4M367.1 283.3l1 .2M370 343.6l.3 1.6M370 291.9l1.1 .9M370 287.6l1 .5M373 296.2l1 1.4M373 291.9l1 .8M373 287.6l1 .5M375.9 296.2l.9 1.1M375.9 291.9l.9 .8M375.9 287.6l.9 .6M378.8 335l-1 1.3M378.8 300.5l.7 1.3M378.8 296.2l.8 1M378.8 291.9l.9 .8M378.8 287.6l.8 .7M381.8 335l-.9 1.3M381.8 330.7l-.8 1.5M381.8 309.2l.3 1.6M381.8 304.9l.6 1.4M381.8 300.5l.7 1.2M381.8 296.2l.8 1M381.8 291.9l.8 .8M381.8 287.6l.8 .7M384.7 335l-.7 1.4M384.7 330.7l-.6 1.5M384.7 326.4l-.5 1.6M384.7 322.1l-.3 1.7M384.7 317.8l0 1.7M384.7 313.5l.2 1.6M384.7 309.2l.4 1.5M384.7 304.9l.5 1.4M384.7 300.5l.6 1.2M384.7 296.2l.7 1M384.7 291.9l.7 .9M384.7 287.6l.7 .7M387.7 335l-.6 1.4M387.7 330.7l-.5 1.5M387.7 326.4l-.4 1.6M387.7 322.1l-.2 1.6M387.7 317.8l0 1.6M387.7 313.5l.2 1.6M387.7 309.2l.3 1.5M387.7 304.9l.5 1.3M387.7 300.5l.6 1.2M387.7 296.2l.6 1M387.7 291.9l.6 .9M387.7 287.6l.6 .8M390.6 335l-.6 1.3M390.6 330.7l-.5 1.4M390.6 326.4l-.3 1.5M390.6 322.1l-.2 1.6M390.6 317.8l0 1.6M390.6 313.5l.2 1.5M390.6 309.2l.3 1.4M390.6 304.9l.4 1.3M390.6 300.5l.5 1.2M390.6 296.2l.6 1M390.6 291.9l.6 .9M393.6 335l-.5 1.3M393.6 330.7l-.4 1.4M393.6 326.4l-.3 1.5M393.6 322.1l-.1 1.5M393.6 317.8l0 1.5M393.6 313.5l.1 1.5M393.6 309.2l.3 1.4M393.6 304.9l.4 1.3M393.6 300.5l.4 1.2M393.6 296.2l.5 1M393.6 291.9l.5 .9M396.5 335l-.1 1M396.5 330.7l-.1 1.3M396.5 326.4l-.2 1.4M396.5 322.1l-.1 1.4M396.5 317.8l0 1.4M396.5 313.5l.1 1.4M396.5 309.2l.2 1.3M396.5 304.9l.3 1.2M396.5 300.5l.4 1.1M396.5 296.2l.4 1M396.5 291.9l.5 .9M399.5 343.6l1.6 .2M399.5 339.3l1.5 .1M399.5 335l1.2 -.5M399.5 330.7l1.1 .6M399.5 326.4l.4 1.2M399.5 322.1l0 1.4M399.5 317.8l0 1.4M399.5 313.5l.1 1.3M399.5 309.2l.2 1.3M399.5 304.9l.3 1.2M399.5 300.5l.4 1.1M399.5 296.2l.4 1M402.4 347.9l1.5 -.6M402.4 326.4l1.3 .9M402.4 322.1l.4 1.3M402.4 317.8l.1 1.3M402.4 313.5l.1 1.3M402.4 309.2l.2 1.2M402.4 304.9l.3 1.2M402.4 300.5l.3 1.1M402.4 296.2l.4 1M405.4 347.9l.2 -1.4M405.4 343.6l.5 -1.4M405.4 339.3l1.5 -.3M405.4 322.1l.8 1.3M405.4 317.8l.2 1.3M405.4 313.5l.1 1.2M405.4 309.2l.2 1.2M405.4 304.9l.2 1.1M405.4 300.5l.3 1M405.4 296.2l.3 .9M408.3 352.2l1.2 .5M408.3 347.9l-1.2 -.5M408.3 339.3l.5 1.4M408.3 322.1l.9 1.4M408.3 317.8l.2 1.2M408.3 313.5l.1 1.2M408.3 309.2l.1 1.1M408.3 304.9l.2 1.1M408.3 300.5l.3 1M411.3 352.2l1.1 1.1M411.3 322.1l.7 1.5M411.3 317.8l.2 1.2M411.3 313.5l.1 1.1M411.3 309.2l.1 1.1M411.3 304.9l.2 1M414.2 322.1l.3 1.4M414.2 317.8l.1 1.1M414.2 313.5l.1 1.1M414.2 309.2l.1 1M417.2 326.4l.2 1.6M417.2 322.1l.1 1.2M417.2 317.8l0 1.1M417.2 313.5l.1 1M420.1 335l-.4 1.5M420.1 330.7l-.1 1.3M420.1 326.4l0 1.1M420.1 322.1l0 1M423 335l-.2 1M428.9 339.3l.8 1.5M431.9 339.3l.8 1.5" stroke="#444" stroke-width="1" fill="none"/>
</g>
<path d="M287.5 356.5v3.5M293.4 356.5v2M299.3 356.5v2M305.2 356.5v2M311.1 356.5v2M317 356.5v3.5M322.9 356.5v2M328.8 356.5v2M334.6 356.5v2M340.5 356.5v2M346.4 356.5v3.5M352.3 356.5v2M358.2 356.5v2M364.1 356.5v2M370 356.5v2M375.9 356.5v3.5M381.8 356.5v2M387.7 356.5v2M393.6 356.5v2M399.5 356.5v2M405.4 356.5v3.5M411.3 356.5v2M417.2 356.5v2M423 356.5v2M428.9 356.5v2M434.8 356.5v3.5M440.7 356.5v2M446.6 356.5v2M452.5 356.5v2M458.4 356.5v2M464.3 356.5v3.5M287.5 356.5h-3.5M287.5 352.2h-2M287.5 347.9h-2M287.5 343.6h-2M287.5 339.3h-3.5M287.5 335h-2M287.5 330.7h-2M287.5 326.4h-2M287.5 322.1h-3.5M287.5 317.8h-2M287.5 313.5h-2M287.5 309.2h-2M287.5 304.9h-3.5M287.5 300.5h-2M287.5 296.2h-2M287.5 291.9h-2M287.5 287.6h-3.5M287.5 283.3h-2M287.5 279h-2M287.5 274.7h-2M287.5 270.4h-3.5M287.5 266.1h-2M287.5 261.8h-2M287.5 257.5h-2M287.5 253.2h-3.5" stroke="#333" stroke-width="0.7" fill="none"/>
<rect x="287.5" y="253.2" width="176.8" height="103.3" fill="none" stroke="#333" stroke-width="1"/>
<text x="287.5" y="367.7" text-anchor="middle" class="tk">0</text>
<text x="317" y="367.7" text-anchor="middle" class="tk">5</text>
<text x="346.4" y="367.7" text-anchor="middle" class="tk">10</text>
<text x="375.9" y="367.7" text-anchor="middle" class="tk">15</text>
<text x="405.4" y="367.7" text-anchor="middle" class="tk">20</text>
<text x="434.8" y="367.7" text-anchor="middle" class="tk">25</text>
<text x="464.3" y="367.7" text-anchor="middle" class="tk">30</text>
<text x="282.5" y="359.2" text-anchor="end" class="tk">0</text>
<text x="282.5" y="342" text-anchor="end" class="tk">2</text>
<text x="282.5" y="324.8" text-anchor="end" class="tk">4</text>
<text x="282.5" y="307.6" text-anchor="end" class="tk">6</text>
<text x="282.5" y="290.3" text-anchor="end" class="tk">8</text>
<text x="282.5" y="273.1" text-anchor="end" class="tk">10</text>
<text x="282.5" y="255.9" text-anchor="end" class="tk">12</text>
<text x="292" y="268.8" class="lt">(g)</text>
<text x="359.8" y="270.8" class="pt">t = 0.8 s</text>
<text x="420.8" y="273.5" class="pt">0.2 m/s</text>
<path d="M431.9 261.4h5.5" stroke="#222" stroke-width="0.75"/><path d="M438.4 261.4l-1.6 -.75v1.5z" fill="#222"/>
<rect x="227.3" y="253.2" width="5.4" height="103.3" fill="url(#cbs)" stroke="#333" stroke-width="0.6"/>
<text x="237.3" y="358.7" class="cb">0</text>
<text x="237.3" y="307.1" class="cb">200</text>
<text x="237.3" y="255.4" class="cb">400(Pa)</text>
<path d="M232.7 356.5h2M232.7 304.9h2M232.7 253.2h2" stroke="#333" stroke-width="0.6"/>
<rect x="475.5" y="253.2" width="5.4" height="103.3" fill="url(#cbd)" stroke="#333" stroke-width="0.6"/>
<text x="485.5" y="358.7" class="cb">-300</text>
<text x="485.5" y="332.9" class="cb">-150</text>
<text x="485.5" y="307.1" class="cb">0</text>
<text x="485.5" y="281.2" class="cb">150</text>
<text x="485.5" y="255.4" class="cb">300 (Pa)</text>
<path d="M480.9 356.5h2M480.9 330.7h2M480.9 304.9h2M480.9 279h2M480.9 253.2h2" stroke="#333" stroke-width="0.6"/>
<text x="9.8" y="291" text-anchor="middle" class="al">x<tspan class="sub" dy="1.8">2</tspan></text>
<text x="11" y="301.7" text-anchor="middle" class="al">(cm)</text>
<text x="260.8" y="309.8" class="cl">p<tspan class="sub2" dy="1.3">s</tspan></text>
<text x="510.4" y="309.8" class="cl">p<tspan class="sub2" dy="1.3">d</tspan></text>
<g clip-path="url(#c03)"><rect x="39.4" y="377.2" width="176.9" height="103.3" fill="#fdfafb"/><g filter="url(#bl)"><path d="M30.6 493.4 190.1 493.4 190.1 480.5 184.5 478.9 175.6 478.5 161.5 475.1 143.8 472.4 128.7 470.7 120.8 470.7 119.9 470.4 115.5 465.8 108.4 462.5 96 462.9 91.1 461.1 73 452.1 39.4 433.3 30.6 433.3 30.6 493.4Z" fill="#fdf4f5" fill-rule="evenodd"/><path d="M30.6 493.4 175.3 493.4 175.3 480.5 161.5 477.1 144.7 474.6 129.6 472.9 120.8 472.8 119.9 472.5 115.5 467.9 108.4 464.5 96 464.9 90.7 462.9 71.9 453.4 39.4 435.3 30.6 435.3 30.6 493.4Z" fill="#fbe8ea" fill-rule="evenodd"/><path d="M30.6 493.4 168 493.4 168 480.5 161.5 478.9 143.8 476.2 128.7 474.6 120.8 474.5 119.9 474.2 115.5 469.6 108.4 466.3 96 466.6 90.7 464.6 73.6 456 39.4 437 30.6 437 30.6 493.4Z" fill="#f8dade" fill-rule="evenodd"/><path d="M30.6 493.4 161.2 493.4 161.2 480.5 144.7 478 129.6 476.3 120.8 476.2 119.9 475.8 115.5 471.3 108.4 467.9 96 468.1 90.7 466.1 73.1 457.3 39.4 438.5 30.6 438.5 30.6 493.4Z" fill="#f6cbd0" fill-rule="evenodd"/><path d="M30.6 493.4 150 493.4 150 480.5 129.6 478 120.8 477.8 119.9 477.5 115.5 472.9 108.4 469.5 96 469.7 90.7 467.7 73.9 459.2 39.4 440 30.6 440 30.6 493.4Z" fill="#f2b2b9" fill-rule="evenodd"/><path d="M30.6 493.4 137.9 493.4 137.9 480.5 128.7 479.5 120.8 479.4 119.9 479.1 115.5 474.5 108.4 471 96 471.2 90.7 469.2 73.9 460.7 39.4 441.5 30.6 441.5 30.6 493.4Z" fill="#ed929d" fill-rule="evenodd"/><path d="M30.6 493.4 119.3 493.4 119.3 480.5 115.5 476.5 108.4 473 96 473.1 90.7 471.1 73 462.1 39.4 443.4 30.6 443.4 30.6 493.4Z" fill="#e86e7d" fill-rule="evenodd"/><path d="M30.6 493.4 117.4 493.4 117.4 480.5 114.6 477.9 108.4 475 96 475 90.7 472.9 73 463.9 39.4 445.2 30.6 445.2 30.6 493.4Z" fill="#e55463" fill-rule="evenodd"/><path d="M30.6 493.4 115.4 493.4 115.4 480.5 108.4 477 96 477 90.7 474.8 73.9 466.3 39.4 447.1 30.6 447.1 30.6 493.4Z" fill="#e23a49" fill-rule="evenodd"/><path d="M30.6 493.4 111.3 493.4 111.3 480.5 107.5 479 96 479 90.7 476.8 73.9 468.2 39.4 449 30.6 449 30.6 493.4Z" fill="#de2332" fill-rule="evenodd"/><path d="M30.6 493.4 93.1 493.4 93.1 480.5 73.9 470.9 39.4 451.6 30.6 451.6 30.6 493.4Z" fill="#d70f1e" fill-rule="evenodd"/><path d="M30.6 493.4 86.8 493.4 86.8 480.5 73 473.4 39.4 454.6 30.6 454.6 30.6 493.4Z" fill="#cd0413" fill-rule="evenodd"/><path d="M30.6 493.4 79.6 493.4 79.6 480.5 39.4 458.3 30.6 458.3 30.6 493.4Z" fill="#c00110" fill-rule="evenodd"/><path d="M30.6 493.4 69.7 493.4 69.7 480.5 39.4 463.5 30.6 463.5 30.6 493.4Z" fill="#b00110" fill-rule="evenodd"/><path d="M30.6 493.4 47.3 493.4 47.3 480.5 39.4 476 30.6 476 30.6 493.4Z" fill="#9f0411" fill-rule="evenodd"/></g>
<path d="M39.4 430.7 40.7 431.5 42.1 432.3 43.4 433 44.8 433.8 46.1 434.5 47.4 435.3 48.8 436 50.1 436.8 51.4 437.5 52.8 438.3 54.1 439.1 55.5 439.8 56.8 440.6 58.1 441.3 59.5 442 60.8 442.8 62.1 443.5 63.5 444.2 64.8 445 66.2 445.7 67.5 446.4 68.8 447.2 70.2 447.9 71.5 448.6 72.8 449.4 74.2 450.1 75.5 450.7 76.9 451.4 78.2 452.1 79.5 452.7 80.9 453.4 82.2 454.1 83.6 454.7 84.9 455.4 86.2 456.1 87.6 456.7 88.9 457.4 90.2 458.1 91.6 458.6 92.9 459.1 94.3 459.6 95.6 460.1 96.9 460.2 98.3 460.2 99.6 460.1 100.9 460.1 102.3 460 103.6 459.9 105 459.9 106.3 459.8 107.6 459.8 109 460.1 110.3 460.7 111.6 461.3 113 461.9 114.3 462.5 115.7 463.4 117 464.7 118.3 466.1 119.7 467.5 121 468 122.3 468 123.7 468 125 468 126.4 468 127.7 468 129 468 130.4 468.2 131.7 468.3 133.1 468.5 134.4 468.6 135.7 468.8 137.1 468.9 138.4 469.1 139.7 469.2 141.1 469.4 142.4 469.5 143.8 469.7 145.1 469.9 146.4 470.1 147.8 470.3 149.1 470.5 150.4 470.7 151.8 470.9 153.1 471.1 154.5 471.3 155.8 471.5 157.1 471.7 158.5 471.9 159.8 472.1 161.1 472.3 162.5 472.6 163.8 472.9 165.2 473.2 166.5 473.5 167.8 473.9 169.2 474.2 170.5 474.5 171.9 474.9 173.2 475.2 174.5 475.5 175.9 475.8 177.2 475.8 178.5 475.9 179.9 476 181.2 476 182.6 476.1 183.9 476.2 185.2 476.4 186.6 476.8 187.9 477.1 189.2 477.5 190.6 477.8 191.9 478.2 193.3 478.6 194.6 478.9 195.9 479.4 197.3 480.6 198.6 481.8M39.4 433.8 40.7 434.5 42.1 435.3 43.4 436 44.8 436.8 46.1 437.5 47.4 438.3 48.8 439 50.1 439.8 51.4 440.6 52.8 441.3 54.1 442.1 55.5 442.8 56.8 443.6 58.1 444.3 59.5 445 60.8 445.8 62.1 446.5 63.5 447.2 64.8 448 66.2 448.7 67.5 449.4 68.8 450.2 70.2 450.9 71.5 451.6 72.8 452.4 74.2 453.1 75.5 453.7 76.9 454.4 78.2 455.1 79.5 455.7 80.9 456.4 82.2 457.1 83.6 457.7 84.9 458.4 86.2 459.1 87.6 459.7 88.9 460.4 90.2 461.1 91.6 461.6 92.9 462.1 94.3 462.6 95.6 463.1 96.9 463.2 98.3 463.2 99.6 463.1 100.9 463.1 102.3 463 103.6 463 105 462.9 106.3 462.8 107.6 462.8 109 463.1 110.3 463.7 111.6 464.3 113 464.9 114.3 465.5 115.7 466.4 117 467.7 118.3 469.1 119.7 470.5 121 471 122.3 471 123.7 471 125 471 126.4 471 127.7 471 129 471 130.4 471.2 131.7 471.3 133.1 471.5 134.4 471.6 135.7 471.8 137.1 471.9 138.4 472.1 139.7 472.2 141.1 472.4 142.4 472.5 143.8 472.7 145.1 472.9 146.4 473.1 147.8 473.3 149.1 473.5 150.4 473.7 151.8 473.9 153.1 474.1 154.5 474.3 155.8 474.5 157.1 474.7 158.5 474.9 159.8 475.1 161.1 475.3 162.5 475.6 163.8 475.9 165.2 476.2 166.5 476.6 167.8 476.9 169.2 477.2 170.5 477.5 171.9 477.9 173.2 478.2 174.5 478.5 175.9 478.8 177.2 478.9 178.5 478.9 179.9 479 181.2 479.1 182.6 479.1 183.9 479.2 185.2 479.4 186.6 479.8 187.9 480.1 189.2 480.5 190.6 480.9 191.9 481.2 193.3 481.6 194.6 481.9 195.9 482.5 197.3 483.6 198.6 484.8" stroke="#5f9440" stroke-width="0.65" fill="none"/>
<path d="M107.2 437.5l-1.1 -4.4M107.2 433.2l-.1 -4.5M107.2 428.9l.8 -4.4M107.2 424.5l1.7 -4.1M110.2 446.1l-2.8 -3.5M110.2 441.8l-2.3 -3.9M110.2 437.5l-1.4 -4.3M110.2 433.2l-.3 -4.5M110.2 428.9l.9 -4.4M110.2 424.5l2 -4M110.2 420.2l2.9 -3.5M110.2 415.9l3.4 -3M113.1 446.1l-3.3 -3M113.1 441.8l-2.8 -3.5M113.1 437.5l-1.9 -4.1M113.1 433.2l-.5 -4.5M113.1 428.9l1.1 -4.4M113.1 424.5l2.5 -3.8M113.1 420.2l3.3 -3M113.1 415.9l3.8 -2.4M116.1 450.4l-4 -2M116.1 446.1l-3.9 -2.3M116.1 441.8l-3.5 -2.8M116.1 437.5l-2.7 -3.6M116.1 433.2l-1.1 -4.4M116.1 428.9l1.5 -4.3M116.1 424.5l3.2 -3.2M116.1 420.2l3.9 -2.2M116.1 415.9l4.2 -1.6M116.1 411.6l4.3 -1.2M119 450.4l-4.3 -1.2M119 446.1l-4.3 -1.4M119 441.8l-4.2 -1.7M119 437.5l-3.9 -2.3M119 424.5l4.1 -1.7M119 420.2l4.4 -.9M119 415.9l4.5 -.5M119 411.6l4.5 -.3M122 450.4l-4.5 -.3M122 446.1l-4.5 -.2M122 441.8l-4.5 -.1M122 437.5l-4.5 .1M122 424.5l4.4 1M122 420.2l4.4 .8M122 415.9l4.4 .7M122 411.6l4.5 .6M124.9 437.5l-3.9 2.2M124.9 433.2l-2.5 3.8M124.9 428.9l1.1 4.4M124.9 424.5l3.2 3.2M124.9 420.2l3.9 2.3M124.9 415.9l4.1 1.8M124.9 411.6l4.2 1.6M127.8 433.2l-1.7 4.2M127.8 428.9l.4 4.5M127.8 424.5l2.1 4M127.8 420.2l3.1 3.3M127.8 415.9l3.6 2.7M127.8 411.6l3.9 2.3M130.8 424.5l1.5 4.3M130.8 420.2l2.4 3.8M130.8 415.9l3 3.3M133.7 424.5l1.1 4.4M133.7 420.2l1.9 4.1M185.3 474l.3 -2.4M185.3 469.7l.3 -2.4M185.3 465.4l.3 -2.4M185.3 461.1l.3 -2.4" stroke="#111" stroke-width="0.62" fill="none"/>
<path d="M106.5 434.5l-.4 -1.5M107.1 430.2l0 -1.5M107.8 425.9l.3 -1.5M108.4 421.8l.6 -1.4M108.3 443.7l-.9 -1.2M108.7 439.2l-.8 -1.3M109.2 434.6l-.5 -1.4M110 430.2l-.1 -1.5M110.8 425.9l.3 -1.5M111.5 421.9l.7 -1.3M112.1 417.9l1 -1.2M112.4 414l1.1 -1M110.9 444.1l-1.1 -1M111.2 439.4l-.9 -1.2M111.8 434.7l-.6 -1.4M112.7 430.2l-.2 -1.5M113.8 425.9l.4 -1.5M114.8 422l.8 -1.3M115.3 418.2l1.1 -1M115.6 414.3l1.3 -.8M113.4 449l-1.3 -.7M113.5 444.5l-1.3 -.8M113.7 439.9l-1.2 -.9M114.2 435.1l-.9 -1.2M115.4 430.2l-.4 -1.5M117 426l.5 -1.4M118.2 422.4l1.1 -1.1M118.7 418.8l1.3 -.7M118.9 414.9l1.4 -.5M118.9 410.8l1.4 -.4M116.1 449.6l-1.4 -.4M116.1 445.2l-1.4 -.5M116.2 440.6l-1.4 -.6M116.4 435.9l-1.3 -.8M121.8 423.4l1.4 -.6M121.9 419.6l1.5 -.3M122 415.6l1.5 -.2M122 411.4l1.5 -.1M119 450.2l-1.5 -.1M119 445.9l-1.5 -.1M119 441.7l-1.5 0M119 437.5l-1.5 0M124.9 425.2l1.5 .3M124.9 420.8l1.5 .3M124.9 416.4l1.5 .2M124.9 412.1l1.5 .2M122.3 438.9l-1.3 .7M123.2 435.7l-.8 1.3M125.6 431.8l.4 1.5M127 426.7l1.1 1.1M127.5 421.8l1.3 .8M127.6 417.2l1.4 .6M127.7 412.7l1.4 .5M126.7 435.9l-.6 1.4M128.1 431.8l.1 1.5M129.3 427.2l.7 1.3M129.9 422.4l1 1.1M130.2 417.8l1.2 .9M130.4 413.2l1.3 .8M131.8 427.4l.5 1.4M132.4 422.8l.8 1.3M132.8 418.2l1 1.1M134.5 427.5l.4 1.5M135 423l.6 1.4M185.5 473.1l.2 -1.4M185.5 468.8l.2 -1.4M185.5 464.5l.2 -1.4M185.5 460.2l.2 -1.4" stroke="#111" stroke-width="1.4" fill="none"/>
<path d="M48.2 437.5l1.2 .4M51.2 437.5l1.2 .4M54.1 441.8l1.2 .4M57.1 441.8l1.2 .4M60 446.1l1.2 .4M63 446.1l1.2 .4M65.9 446.1l1.2 .4M68.9 450.4l1.2 .4M71.8 450.4l1.2 .4M74.8 450.4l1.2 .4M77.7 454.7l1.2 .4M80.7 454.7l1.2 .4M83.6 459l1.2 .4M86.6 459l1.2 .4M89.5 459l1.2 .4M92.5 459l1.2 .4M95.4 463.3l1.2 .4M98.4 463.3l1.2 .4M101.3 463.3l1.2 .4M104.3 463.3l1.2 .4M107.2 463.3l1.2 .4M110.2 463.3l1.2 .4M127.8 467.6l.2 1.4M127.8 463.3l.2 1.4M127.8 459l.2 1.4M127.8 454.7l.2 1.4M127.8 450.4l.2 1.4M127.8 446.1l.2 1.4M127.8 441.8l.2 1.4M127.8 437.5l.2 1.4M130.8 467.6l.2 1.4M130.8 463.3l.2 1.4M130.8 459l.2 1.4M130.8 454.7l.2 1.4M130.8 450.4l.2 1.4M130.8 446.1l.2 1.4M130.8 441.8l.2 1.4M130.8 437.5l.2 1.4M133.7 467.6l.2 1.4M133.7 463.3l.2 1.4M133.7 459l.2 1.4M133.7 454.7l.2 1.4M133.7 450.4l.2 1.4M133.7 446.1l.2 1.4M133.7 441.8l.2 1.4M133.7 437.5l.2 1.4M136.7 467.6l.2 1.4M136.7 463.3l.2 1.4M136.7 459l.2 1.4M136.7 454.7l.2 1.4M136.7 450.4l.2 1.4M136.7 446.1l.2 1.4M136.7 441.8l.2 1.4M139.6 467.6l.2 1.4M139.6 463.3l.2 1.4M139.6 459l.2 1.4M139.6 454.7l.2 1.4M139.6 450.4l.2 1.4M139.6 446.1l.2 1.4M139.6 441.8l.2 1.4M142.6 471.9l1.2 .4M145.5 471.9l1.2 .4M148.5 471.9l1.2 .4M151.4 471.9l1.2 .4M154.4 471.9l1.2 .4M157.3 471.9l1.2 .4M160.3 476.2l1.2 .4M163.2 476.2l1.2 .4M166.2 476.2l1.2 .4M169.1 476.2l1.2 .4M172.1 476.2l1.2 .4M175 476.2l1.2 .4M178 476.2l1.2 .4M180.9 476.2l1.2 .4M183.9 476.2l1.2 .4" stroke="#444" stroke-width="1" fill="none"/>
</g>
<path d="M39.4 480.5v3.5M45.3 480.5v2M51.2 480.5v2M57.1 480.5v2M63 480.5v2M68.9 480.5v3.5M74.8 480.5v2M80.7 480.5v2M86.6 480.5v2M92.5 480.5v2M98.4 480.5v3.5M104.3 480.5v2M110.2 480.5v2M116.1 480.5v2M122 480.5v2M127.8 480.5v3.5M133.7 480.5v2M139.6 480.5v2M145.5 480.5v2M151.4 480.5v2M157.3 480.5v3.5M163.2 480.5v2M169.1 480.5v2M175 480.5v2M180.9 480.5v2M186.8 480.5v3.5M192.7 480.5v2M198.6 480.5v2M204.5 480.5v2M210.4 480.5v2M216.3 480.5v3.5M39.4 480.5h-3.5M39.4 476.2h-2M39.4 471.9h-2M39.4 467.6h-2M39.4 463.3h-3.5M39.4 459h-2M39.4 454.7h-2M39.4 450.4h-2M39.4 446.1h-3.5M39.4 441.8h-2M39.4 437.5h-2M39.4 433.2h-2M39.4 428.9h-3.5M39.4 424.5h-2M39.4 420.2h-2M39.4 415.9h-2M39.4 411.6h-3.5M39.4 407.3h-2M39.4 403h-2M39.4 398.7h-2M39.4 394.4h-3.5M39.4 390.1h-2M39.4 385.8h-2M39.4 381.5h-2M39.4 377.2h-3.5" stroke="#333" stroke-width="0.7" fill="none"/>
<rect x="39.4" y="377.2" width="176.9" height="103.3" fill="none" stroke="#333" stroke-width="1"/>
<text x="39.4" y="491.7" text-anchor="middle" class="tk">0</text>
<text x="68.9" y="491.7" text-anchor="middle" class="tk">5</text>
<text x="98.4" y="491.7" text-anchor="middle" class="tk">10</text>
<text x="127.8" y="491.7" text-anchor="middle" class="tk">15</text>
<text x="157.3" y="491.7" text-anchor="middle" class="tk">20</text>
<text x="186.8" y="491.7" text-anchor="middle" class="tk">25</text>
<text x="216.3" y="491.7" text-anchor="middle" class="tk">30</text>
<text x="34.4" y="483.2" text-anchor="end" class="tk">0</text>
<text x="34.4" y="466" text-anchor="end" class="tk">2</text>
<text x="34.4" y="448.8" text-anchor="end" class="tk">4</text>
<text x="34.4" y="431.6" text-anchor="end" class="tk">6</text>
<text x="34.4" y="414.3" text-anchor="end" class="tk">8</text>
<text x="34.4" y="397.1" text-anchor="end" class="tk">10</text>
<text x="34.4" y="379.9" text-anchor="end" class="tk">12</text>
<text x="43.9" y="392.8" class="lt">(d)</text>
<text x="111.7" y="394.8" class="pt">t = 1.2 s</text>
<text x="172.7" y="397.5" class="pt">0.2 m/s</text>
<path d="M183.8 385.4h5.5" stroke="#222" stroke-width="0.75"/><path d="M190.3 385.4l-1.6 -.75v1.5z" fill="#222"/>
<g clip-path="url(#c13)"><g filter="url(#bl)"><path d="M418.7 474 421 474.9 422.8 475 424.5 474.8 427.2 473.5 429.4 471.5 431.1 468.9 432.2 466.3 433.2 462.4 433.3 456 432.8 453.4 431.3 449.5 429.8 447.1 428.1 445.2 425.4 443.5 423.6 443 421.9 443 419.2 443.6 415.7 446.3 413 450.8 411.6 456 411.5 461.1 412.7 466.3 414.8 470.5 416.6 472.5 418.7 474ZM362.4 452.1 366.2 453.3 369.7 453.2 373.2 451.9 375.9 450.1 378.8 446.9 381 443.1 382.5 439.2 383.4 435.3 383.8 430.1 383.5 425 382.4 419.8 380.8 415.9 378.6 412.2 375.9 409.3 373.2 407.5 369.7 406.2 366.2 406.1 363.5 406.8 360.9 408.2 358.2 410.5 355.9 413.4 353.9 417.2 352.5 421.1 351.8 425 351.4 428.9 351.7 434 352.4 437.9 353.7 441.8 355.6 445.5 357.3 448 360 450.6 362.4 452.1Z" fill="#f7f7fe" fill-rule="evenodd"/><path d="M419.4 471.5 421 472.1 422.8 472.3 424.5 472 426.3 471.1 428.1 469.5 429.4 467.6 431.3 462.4 431.5 457.3 430.3 452.1 428.8 449.5 427.2 447.6 425.4 446.4 423.6 445.8 420.1 446.1 417.4 447.9 415.3 450.8 413.6 456 413.5 461.1 414.3 465 416.6 469.1 419.4 471.5ZM364.3 448.2 367.1 448.9 369.7 448.6 372.4 447.6 375 445.5 377 443.1 379 439.2 380.6 432.7 380.8 428.9 380.3 425 378.3 418.5 376.7 415.9 374.1 413.1 371.5 411.4 368.8 410.6 367.1 410.6 364.4 411.1 361.8 412.6 360 414.2 357.7 417.2 356.4 419.8 354.8 426.3 354.5 430.1 354.9 434 356.8 440.5 360 445.3 362.6 447.4 364.3 448.2Z" fill="#f1f1fe" fill-rule="evenodd"/><path d="M420.5 470.2 423.6 470.4 426.5 468.9 428.9 465.6 430.3 461.1 430.1 456 428.8 452.1 426.3 448.8 424.5 447.8 422.8 447.4 420.1 447.9 417.4 450 415.5 453.4 414.6 457.3 414.7 461.1 415.7 465 417.4 467.9 419.2 469.6 420.5 470.2ZM364.4 445.6 366.2 446.2 368.8 446.3 371.5 445.4 373.2 444.2 375.5 441.8 377 439.2 378 436.6 378.8 432.7 378.8 426.3 377.9 422.4 376.8 419.8 375.1 417.2 373.2 415.2 371.5 414.1 368.8 413.2 367.1 413.1 364.4 413.8 360.9 416.4 357.9 421.1 356.5 426.3 356.5 432.7 357.7 437.9 359.1 440.7 360.9 443 364.4 445.6Z" fill="#e9e9fd" fill-rule="evenodd"/><path d="M419.1 467.6 421.9 468.8 424.5 468.4 427.2 466.1 428.8 462.4 429.2 458.5 428.6 454.7 426.3 450.8 423.6 449.2 421 449.3 419.2 450.3 417.4 452.3 416 456 415.7 459.8 416.1 462.4 417.4 465.7 419.1 467.6ZM364 443.1 366.2 443.9 367.9 444.1 370.6 443.4 372.4 442.3 374.2 440.5 375.7 437.9 377.3 432.7 377.2 426.3 375.5 421.1 374.1 418.9 372.4 417.1 368.8 415.4 365.3 415.7 363.5 416.6 361.8 418.2 359.8 421.1 358.1 426.3 357.9 431.4 359 436.6 361.1 440.5 364 443.1Z" fill="#e1e1fc" fill-rule="evenodd"/><path d="M419.9 466.3 421.9 467.2 424.5 466.7 426.3 465 427.9 461.1 428 457.3 427.3 454.7 425.5 452.1 423.6 450.9 421.9 450.8 420.1 451.5 418.3 453.4 417.2 456 416.8 459.8 417.3 462.4 418.3 464.6 419.9 466.3ZM366 441.8 368.8 441.9 370.6 441.3 372.4 439.9 374.6 436.6 376 431.4 375.7 426.3 374.1 421.8 371.5 418.7 369.7 417.8 367.9 417.4 366.2 417.6 364.4 418.3 361.8 420.9 359.9 425 359.2 428.9 359.5 432.7 360.9 437 363.5 440.4 366 441.8Z" fill="#d6d6fc" fill-rule="evenodd"/><path d="M420.9 465 422.8 465.4 424.5 464.7 426.2 462.4 426.8 459.8 426.7 457.3 425.7 454.7 424.5 453.3 422.8 452.5 421 452.9 420.1 453.5 419.2 454.7 418.2 457.3 418.1 459.8 418.7 462.4 419.5 463.7 420.9 465ZM364.9 439.2 366.2 439.8 367.9 440 370.6 439.1 372.9 436.6 374.4 432.7 374.6 427.6 373.4 423.7 371.5 421.1 368.8 419.5 366.2 419.6 364.4 420.6 362.6 422.5 361 426.3 360.6 430.1 361.2 434 362.6 437 364.9 439.2Z" fill="#cacafb" fill-rule="evenodd"/><path d="M420.7 462.4 421.9 463.2 423.6 462.9 424.5 462 425.3 459.8 425.1 457.3 424.6 456 422.8 454.7 421 455.3 419.8 457.3 419.6 459.8 420.7 462.4ZM367 437.9 369.7 437.4 371.5 435.7 372.9 432.7 373.3 430.1 372.8 426.3 371.5 423.7 369.7 422.1 367.9 421.5 365.3 422.2 363.8 423.7 362.5 426.3 362 428.9 362.4 432.7 363.5 435.3 365.3 437.2 367 437.9Z" fill="#bcbcf9" fill-rule="evenodd"/><path d="M366.5 435.3 367.9 435.6 369.7 434.7 370.6 433.7 371.5 431.4 371.6 428.9 370.9 426.3 369.7 424.7 367.9 423.9 366.2 424.3 365.3 425 364.4 426.3 363.7 428.9 364.2 432.7 365.3 434.4 366.5 435.3Z" fill="#aaaaf8" fill-rule="evenodd"/><path d="M366.7 431.4 367.9 431.9 368.6 431.4 369.1 430.1 368.8 428.4 367.9 427.5 367.1 427.6 366.2 428.9 366.1 430.1 366.7 431.4Z" fill="#9595f7" fill-rule="evenodd"/></g>
<path d="M287.5 430.7 288.8 431.5 290 432.2 291.3 432.9 292.6 433.6 293.8 434.3 295.1 435 296.3 435.7 297.6 436.5 298.9 437.2 300.1 437.9 301.4 438.6 302.7 439.3 303.9 440 305.2 440.7 306.4 441.4 307.7 442.1 309 442.8 310.2 443.5 311.5 444.2 312.8 444.9 314 445.6 315.3 446.3 316.5 447 317.8 447.6 319.1 448.3 320.3 449 321.6 449.7 322.9 450.4 324.1 451 325.4 451.6 326.6 452.2 327.9 452.9 329.2 453.5 330.4 454.1 331.7 454.8 333 455.4 334.2 456 335.5 456.7 336.8 457.3 338 457.9 339.3 458.5 340.5 459 341.8 459.4 343.1 459.9 344.3 460.3 345.6 460.2 346.9 460.2 348.1 460.1 349.4 460 350.6 460 351.9 459.9 353.2 459.9 354.4 459.8 355.7 459.8 357 460.1 358.2 460.6 359.5 461.2 360.7 461.7 362 462.3 363.3 462.9 364.5 464.2 365.8 465.5 367.1 466.8 368.3 468 369.6 468 370.8 468 372.1 468 373.4 468 374.6 468 375.9 468 377.2 468 378.4 468.2 379.7 468.3 381 468.5 382.2 468.6 383.5 468.7 384.7 468.9 386 469 387.3 469.2 388.5 469.3 389.8 469.4 391.1 469.6 392.3 469.7 393.6 469.9 394.8 470.1 396.1 470.3 397.4 470.5 398.6 470.7 399.9 470.9 401.2 471.1 402.4 471.3 403.7 471.4 404.9 471.6 406.2 471.8 407.5 472 408.7 472.2 410 472.4 411.3 472.8 412.5 473.1 413.8 473.4 415 473.7 416.3 474 417.6 474.3 418.8 474.6 420.1 474.9 421.4 475.2 422.6 475.5 423.9 475.8 425.2 475.8 426.4 475.9 427.7 476 428.9 476 430.2 476.1 431.5 476.1 432.7 476.3 434 476.6 435.3 476.9 436.5 477.3 437.8 477.6M287.5 433.8 288.8 434.5 290 435.2 291.3 435.9 292.6 436.6 293.8 437.3 295.1 438 296.3 438.8 297.6 439.5 298.9 440.2 300.1 440.9 301.4 441.6 302.7 442.3 303.9 443 305.2 443.7 306.4 444.4 307.7 445.1 309 445.8 310.2 446.5 311.5 447.2 312.8 447.9 314 448.6 315.3 449.3 316.5 450 317.8 450.7 319.1 451.3 320.3 452 321.6 452.7 322.9 453.4 324.1 454 325.4 454.6 326.6 455.3 327.9 455.9 329.2 456.5 330.4 457.1 331.7 457.8 333 458.4 334.2 459 335.5 459.7 336.8 460.3 338 460.9 339.3 461.5 340.5 462 341.8 462.4 343.1 462.9 344.3 463.3 345.6 463.2 346.9 463.2 348.1 463.1 349.4 463.1 350.6 463 351.9 463 353.2 462.9 354.4 462.8 355.7 462.8 357 463.1 358.2 463.6 359.5 464.2 360.7 464.8 362 465.3 363.3 465.9 364.5 467.2 365.8 468.5 367.1 469.8 368.3 471 369.6 471 370.8 471 372.1 471 373.4 471 374.6 471 375.9 471 377.2 471 378.4 471.2 379.7 471.3 381 471.5 382.2 471.6 383.5 471.7 384.7 471.9 386 472 387.3 472.2 388.5 472.3 389.8 472.5 391.1 472.6 392.3 472.7 393.6 472.9 394.8 473.1 396.1 473.3 397.4 473.5 398.6 473.7 399.9 473.9 401.2 474.1 402.4 474.3 403.7 474.5 404.9 474.6 406.2 474.8 407.5 475 408.7 475.2 410 475.5 411.3 475.8 412.5 476.1 413.8 476.4 415 476.7 416.3 477 417.6 477.3 418.8 477.6 420.1 477.9 421.4 478.2 422.6 478.5 423.9 478.8 425.2 478.9 426.4 478.9 427.7 479 428.9 479 430.2 479.1 431.5 479.2 432.7 479.3 434 479.6 435.3 480 436.5 480.3 437.8 480.6" stroke="#5f9440" stroke-width="0.65" fill="none"/>
<path d="M346.4 441.8l-.6 -2.2M346.4 437.5l-.3 -2.3M346.4 433.2l0 -2.3M346.4 428.9l.3 -2.2M349.4 446.1l-.9 -2.2M349.4 441.8l-.7 -2.5M349.4 437.5l-.3 -2.7M349.4 433.2l.1 -2.8M349.4 428.9l.5 -2.7M349.4 424.5l.8 -2.5M349.4 420.2l1 -2.1M352.3 450.4l-1.4 -2M352.3 446.1l-1.3 -2.7M352.3 441.8l-1 -3.4M352.3 437.5l-.5 -4M352.3 433.2l.2 -4.3M352.3 428.9l1 -4.2M352.3 424.5l1.5 -3.7M352.3 420.2l1.7 -2.9M352.3 415.9l1.6 -2.2M355.3 454.7l-1.7 -1.7M355.3 450.4l-1.9 -2.6M355.3 446.1l-2 -3.7M355.3 441.8l-1.7 -5M355.3 437.5l-.8 -6.1M355.3 433.2l.4 -6.6M355.3 428.9l1.7 -6.4M355.3 424.5l2.7 -5.6M355.3 420.2l3.2 -4.4M355.3 415.9l3 -3.1M355.3 411.6l2.4 -2M358.2 454.7l-2.3 -2M358.2 450.4l-2.9 -3.3M358.2 446.1l-3.3 -5.1M358.2 441.8l-2.8 -6.7M358.2 437.5l-1.5 -7.7M358.2 433.2l.3 -8M358.2 428.9l2.3 -7.6M358.2 424.5l3.9 -6.7M358.2 420.2l4.8 -5.4M358.2 415.9l4.8 -3.9M358.2 411.6l4 -2.5M358.2 407.3l2.7 -1.4M361.2 459l-2.3 -1.2M361.2 454.7l-3.3 -2.2M361.2 450.4l-4.4 -3.8M361.2 446.1l-4.9 -5.6M361.2 441.8l-4.2 -6.8M361.2 437.5l-2.3 -6.8M361.2 433.2l0 -6.6M361.2 428.9l2.1 -6.1M361.2 424.5l3.9 -5.3M361.2 420.2l5.4 -4.5M361.2 415.9l6.3 -3.6M361.2 411.6l5.7 -2.4M361.2 407.3l4 -1.3M361.2 403l2.4 -.7M364.1 459l-2.8 -1M364.1 454.7l-4.3 -2.1M364.1 450.4l-5.9 -3.5M364.1 446.1l-6.4 -4.7M364.1 441.8l-5 -4.9M364.1 437.5l-3.1 -5.2M364.1 433.2l-.4 -5.2M364.1 428.9l2.2 -4.4M364.1 424.5l4 -3.4M364.1 420.2l5.3 -2.6M364.1 415.9l6.5 -2M364.1 411.6l6.8 -1.4M364.1 407.3l5.2 -.7M364.1 403l3.1 -.3M367.1 476.2l2.3 .4M367.1 459l-3.2 -.7M367.1 454.7l-5.1 -1.4M367.1 450.4l-6.9 -2.3M367.1 446.1l-7.1 -2.6M367.1 441.8l-5.8 -2.5M367.1 437.5l-4.3 -2.8M367.1 433.2l-.8 -2.7M367.1 428.9l2.6 -2.1M367.1 424.5l4 -1.2M367.1 420.2l5.2 -.6M367.1 415.9l6.2 -.1M367.1 411.6l7.1 .3M367.1 407.3l5.7 .4M367.1 403l3.5 .2M370 476.2l2.3 .5M370 459l-3.3 -.1M370 454.7l-5.3 -.4M370 450.4l-7.3 -.5M370 446.1l-7.5 -.3M370 441.8l-6.3 .2M370 437.5l-4.9 1M370 428.9l2.4 1.6M370 424.5l3.7 1.4M370 420.2l4.8 1.6M370 415.9l5.9 1.8M370 411.6l6.8 2.1M370 407.3l5.6 1.6M370 403l3.5 .8M373 476.2l2.3 .6M373 459l-3 .4M373 454.7l-4.8 .6M373 450.4l-6.8 1.1M373 446.1l-7.6 1.9M373 441.8l-6.2 2.6M373 437.5l-4.3 3.6M373 433.2l-1.6 4.3M373 428.9l1.1 4.1M373 424.5l2.9 3.8M373 420.2l4.2 3.7M373 415.9l5.4 3.7M373 411.6l6 3.5M373 407.3l4.8 2.4M373 403l3 1.2M375.9 476.2l2.3 .7M375.9 459l-2.5 .8M375.9 454.7l-3.9 1.3M375.9 450.4l-5.6 2.2M375.9 446.1l-6.7 3.4M375.9 441.8l-6.1 4.6M375.9 437.5l-4.2 5.3M375.9 433.2l-1.9 5.8M375.9 428.9l.3 5.8M375.9 424.5l2.1 5.7M375.9 420.2l3.5 5.6M375.9 415.9l4.7 5.5M375.9 411.6l4.7 4.2M375.9 407.3l3.6 2.6M375.9 403l2.2 1.3M378.8 476.2l2.4 .8M378.8 459l-2 1M378.8 454.7l-2.8 1.5M378.8 450.4l-3.9 2.5M378.8 446.1l-4.9 3.8M378.8 441.8l-5.1 5.4M378.8 437.5l-4.1 6.6M378.8 433.2l-2.3 7.2M378.8 428.9l-.4 7.4M378.8 424.5l1.4 7.3M378.8 420.2l2.7 6.7M378.8 415.9l3.4 5.4M378.8 411.6l3.1 3.7M378.8 407.3l2.4 2.2M381.8 476.2l2.4 .9M381.8 454.7l-1.9 1.5M381.8 450.4l-2.5 2.2M381.8 446.1l-3 3.3M381.8 441.8l-3.2 4.6M381.8 437.5l-2.8 5.8M381.8 433.2l-1.8 6.6M381.8 428.9l-.5 6.8M381.8 424.5l.8 6.4M381.8 420.2l1.7 5.4M381.8 415.9l2.1 4M381.8 411.6l1.9 2.6M384.7 476.2l2.5 .9M384.7 450.4l-1.6 1.9M384.7 446.1l-1.7 2.5M384.7 441.8l-1.7 3.3M384.7 437.5l-1.4 4M384.7 433.2l-.9 4.5M384.7 428.9l-.1 4.6M384.7 424.5l.6 4.2M384.7 420.2l1.1 3.4M384.7 415.9l1.3 2.5M387.7 476.2l2.5 .9M387.7 446.1l-1 2.1M387.7 441.8l-.9 2.4M387.7 437.5l-.6 2.7M387.7 433.2l-.3 2.9M387.7 428.9l.2 2.8M387.7 424.5l.5 2.6M387.7 420.2l.8 2.2M390.6 476.2l2.6 1M390.6 437.5l-.3 2.2M390.6 433.2l0 2.2M393.6 476.2l2.7 1M396.5 476.2l2.7 1M399.5 476.2l2.8 1M399.5 471.9l1.9 1.1M402.4 476.2l2.8 1M402.4 471.9l2 1.1M405.4 476.2l2.9 .9M405.4 471.9l2.1 1.1M408.3 476.2l2.9 .9M408.3 471.9l2.1 1M411.3 476.2l2.9 .8M411.3 471.9l2.1 .8M414.2 476.2l2.9 .7M417.2 476.2l2.7 .5M417.2 463.3l-.1 -2.7M417.2 459l.9 -3.1M417.2 454.7l2.6 -1.9M417.2 450.4l2.6 -.4M420.1 476.2l2.4 .4M420.1 454.7l2.4 -.3M420.1 450.4l3.6 .5M420.1 446.1l2.2 1M423 476.2l2.2 .5M423 467.6l-2.4 .1M423 454.7l1.8 1.7M423 450.4l3.5 2.3M423 446.1l2.3 1.7M426 476.2l2.4 .7M426 467.6l-2 1.7M426 463.3l-2.1 2.8M426 459l-.9 3.1M426 454.7l1.2 3.8M426 450.4l2.3 3.4M426 446.1l1.5 2M428.9 476.2l2.8 .8M428.9 467.6l-.7 2.2M428.9 463.3l-1.6 3.5M428.9 459l-1.3 4.1M428.9 454.7l.3 4M428.9 450.4l1 2.9M431.9 476.2l3 .7M431.9 463.3l-.3 2.4M431.9 459l-.8 2.5M431.9 454.7l-.1 2.3M434.8 476.2l3.1 .7M434.8 471.9l2.3 .8" stroke="#111" stroke-width="0.5" fill="none"/>
<path d="M346.2 440.9l-.3 -1.3M346.3 436.5l-.2 -1.4M346.4 432.2l0 -1.4M346.6 428l.2 -1.3M349 445.2l-.6 -1.3M349.1 440.7l-.4 -1.4M349.2 436.2l-.2 -1.5M349.4 431.8l0 -1.5M349.6 427.6l.3 -1.5M349.7 423.5l.5 -1.4M349.8 419.4l.6 -1.2M351.8 449.6l-.8 -1.2M351.7 444.8l-.6 -1.4M351.8 439.8l-.4 -1.4M352 435l-.2 -1.5M352.5 430.4l.1 -1.5M353 426.1l.3 -1.5M353.3 422.2l.6 -1.4M353.3 418.6l.8 -1.3M353.1 415l.9 -1.2M354.6 454l-1 -1M354.3 449l-.9 -1.2M354 443.7l-.7 -1.3M354.1 438.1l-.5 -1.4M354.7 432.8l-.2 -1.5M355.6 428.1l.1 -1.5M356.6 423.9l.4 -1.4M357.3 420.3l.7 -1.4M357.6 417l.9 -1.2M357.2 413.9l1 -1.1M356.5 410.6l1.1 -1M357 453.7l-1.1 -1M356.3 448.2l-1 -1.1M355.8 442.3l-.8 -1.3M356 436.5l-.6 -1.4M357 431.2l-.3 -1.5M358.5 426.7l.1 -1.5M360.1 422.7l.4 -1.4M361.3 419.2l.8 -1.3M362 415.9l1 -1.1M361.9 412.9l1.2 -.9M360.9 409.9l1.3 -.8M359.6 406.6l1.3 -.7M360.2 458.5l-1.3 -.7M359.1 453.3l-1.2 -.8M357.9 447.5l-1.1 -1M357.3 441.6l-1 -1.1M357.8 436.3l-.8 -1.3M359.4 432l-.5 -1.4M361.1 428l0 -1.5M362.8 424.2l.5 -1.4M364.2 420.5l.9 -1.2M365.4 416.7l1.2 -1M366.2 413l1.3 -.7M365.5 409.8l1.4 -.6M363.8 406.5l1.4 -.5M362.1 402.8l1.4 -.4M362.7 458.5l-1.4 -.5M361.2 453.3l-1.4 -.6M359.5 447.6l-1.3 -.8M358.9 442.3l-1.2 -.9M360.2 437.9l-1.1 -1M361.8 433.6l-.8 -1.3M363.8 429.5l-.1 -1.5M365.6 425.8l.7 -1.3M366.9 422.1l1.1 -1M368.1 418.3l1.3 -.7M369.2 414.4l1.4 -.4M369.5 410.6l1.5 -.3M367.8 406.8l1.5 -.2M365.7 402.8l1.5 -.2M368 476.4l1.4 .3M365.3 458.6l-1.5 -.3M363.4 453.7l-1.4 -.4M361.6 448.6l-1.4 -.5M361.4 444l-1.4 -.5M362.6 439.8l-1.4 -.6M364 435.5l-1.3 -.8M366.7 431.9l-.4 -1.4M368.5 427.7l1.2 -.9M369.6 423.8l1.4 -.4M370.7 419.8l1.5 -.2M371.8 415.8l1.5 0M372.7 411.9l1.5 .1M371.3 407.6l1.5 .1M369.1 403.2l1.5 .1M370.9 476.4l1.4 .3M368.2 458.9l-1.5 -.1M366.2 454.4l-1.5 -.1M364.2 449.9l-1.5 -.1M364 445.8l-1.5 -.1M365.2 441.9l-1.5 0M366.6 438.1l-1.5 .3M371.1 429.6l1.3 .8M372.3 425.4l1.4 .5M373.4 421.4l1.4 .5M374.4 417.3l1.4 .4M375.4 413.3l1.4 .4M374.1 408.5l1.4 .4M372 403.5l1.5 .4M373.9 476.4l1.4 .4M371.4 459.2l-1.5 .2M369.6 455.1l-1.5 .2M367.6 451.2l-1.5 .2M366.8 447.6l-1.5 .4M368.1 443.8l-1.4 .6M369.8 440.1l-1.2 1M371.9 436.1l-.5 1.4M373.7 431.5l.4 1.4M374.9 427.1l.9 1.2M376 422.9l1.1 1M377.1 418.8l1.2 .9M377.6 414.4l1.3 .8M376.4 409.1l1.3 .7M374.5 403.7l1.4 .6M376.8 476.5l1.4 .4M374.8 459.3l-1.4 .5M373.4 455.5l-1.4 .5M371.7 452l-1.4 .5M370.5 448.8l-1.3 .7M371 445.4l-1.2 .9M372.6 441.6l-.9 1.2M374.4 437.5l-.5 1.4M376.1 433.2l.1 1.5M377.5 428.8l.5 1.4M378.6 424.5l.8 1.3M379.7 420.3l1 1.1M379.4 414.8l1.1 1M378.3 409l1.2 .9M376.8 403.6l1.3 .7M379.8 476.5l1.4 .5M378.1 459.4l-1.2 .6M377.4 455.5l-1.3 .7M376.2 452l-1.3 .8M375.1 449l-1.2 .9M374.8 446l-1 1.1M375.5 442.8l-.8 1.3M377 438.9l-.5 1.4M378.6 434.7l-.1 1.5M380 430.4l.3 1.5M381 425.6l.6 1.4M381.4 420.1l.8 1.3M381 414.2l1 1.1M380.1 408.5l1.1 1M382.8 476.6l1.4 .5M381 455.3l-1.2 .9M380.4 451.6l-1.1 1M379.8 448.2l-1 1.1M379.4 445.1l-.9 1.2M379.6 441.9l-.7 1.3M380.4 438.3l-.4 1.4M381.4 434.2l-.1 1.5M382.4 429.5l.2 1.5M383.1 424.2l.5 1.4M383.2 418.7l.7 1.3M382.8 413.1l.9 1.2M385.8 476.6l1.4 .5M384.1 451.1l-.9 1.2M383.9 447.3l-.8 1.2M383.7 443.7l-.7 1.3M383.8 440l-.5 1.4M384.2 436.2l-.3 1.5M384.7 431.9l0 1.5M385.1 427.2l.2 1.5M385.4 422.2l.5 1.4M385.3 417.1l.7 1.3M388.8 476.6l1.4 .5M387.3 446.9l-.6 1.2M387.3 442.8l-.5 1.4M387.4 438.7l-.3 1.5M387.6 434.5l-.1 1.5M387.8 430.2l.1 1.5M387.9 425.7l.3 1.5M388 421.1l.5 1.3M391.8 476.6l1.4 .5M390.5 438.3l-.2 1.3M390.6 434l0 1.3M394.8 476.7l1.4 .5M397.8 476.7l1.4 .5M400.8 476.7l1.4 .5M400.2 472.3l1.2 .7M403.8 476.7l1.4 .5M403.2 472.3l1.2 .6M406.8 476.7l1.4 .5M406.2 472.3l1.2 .6M409.8 476.7l1.4 .4M409.2 472.3l1.3 .6M412.8 476.6l1.4 .4M412.1 472.2l1.2 .5M415.6 476.5l1.5 .3M418.3 476.4l1.5 .3M417.1 462.1l-.1 -1.5M417.6 457.3l.4 -1.4M418.5 453.7l1.2 -.9M418.3 450.2l1.5 -.2M421 476.4l1.4 .2M421.1 454.6l1.5 -.2M422.3 450.7l1.5 .2M421 446.5l1.3 .6M423.9 476.4l1.3 .3M422.1 467.6l-1.4 .1M423.8 455.4l1.1 1M425.3 451.8l1.3 .8M424.1 446.9l1.2 .9M427 476.5l1.4 .4M425.1 468.3l-1.1 1M424.8 464.9l-.9 1.2M425.5 460.6l-.4 1.4M426.7 457l.4 1.4M427.5 452.5l.8 1.2M426.6 446.9l.9 1.2M430.3 476.6l1.4 .4M428.7 468.4l-.4 1.3M428 465.5l-.6 1.4M428.1 461.6l-.4 1.4M429.1 457.2l.1 1.5M429.5 451.9l.5 1.4M433.5 476.6l1.5 .4M431.8 464.2l-.2 1.4M431.6 460l-.4 1.4M431.8 455.6l-.1 1.4M436.5 476.6l1.5 .3M435.7 472.2l1.4 .5" stroke="#111" stroke-width="1.2" fill="none"/>
<path d="M290.4 476.2l.1 .6M290.4 471.9l.1 .6M290.4 467.6l.1 .6M290.4 463.3l.1 .6M290.4 459l.1 .6M290.4 454.7l.1 .6M290.4 450.4l.1 .6M290.4 446.1l.1 .6M290.4 441.8l.1 .6M290.4 437.5l.1 .5M290.4 433.2l.1 .6M290.4 428.9l.2 .6M290.4 424.5l.2 .6M290.4 420.2l.2 .6M290.4 415.9l.2 .6M290.4 411.6l.2 .6M290.4 407.3l.2 .6M290.4 403l.2 .6M290.4 398.7l.2 .6M293.4 476.2l.1 .6M293.4 471.9l.1 .6M293.4 467.6l.1 .6M293.4 463.3l.1 .6M293.4 459l.1 .6M293.4 454.7l.1 .6M293.4 450.4l.1 .5M293.4 446.1l.1 .5M293.4 441.8l.1 .5M293.4 437.5l.1 .5M293.4 433.2l.1 .5M293.4 428.9l.2 .5M293.4 424.5l.2 .5M293.4 420.2l.2 .6M293.4 415.9l.2 .6M293.4 411.6l.2 .6M293.4 407.3l.2 .6M293.4 403l.2 .6M293.4 398.7l.2 .6M296.3 476.2l.1 .6M296.3 471.9l.1 .6M296.3 467.6l.1 .6M296.3 463.3l.1 .6M296.3 459l.1 .6M296.3 454.7l.1 .5M296.3 450.4l.1 .5M296.3 446.1l.1 .5M296.3 441.8l.1 .5M296.3 437.5l.1 .5M296.3 433.2l.1 .5M296.3 428.9l.2 .5M296.3 424.5l.2 .5M296.3 420.2l.2 .5M296.3 415.9l.2 .5M296.3 411.6l.2 .6M296.3 407.3l.2 .6M296.3 403l.2 .6M296.3 398.7l.2 .6M299.3 476.2l.1 .6M299.3 471.9l.1 .6M299.3 467.6l.1 .6M299.3 463.3l.1 .6M299.3 459l.1 .5M299.3 454.7l.1 .5M299.3 450.4l.1 .5M299.3 446.1l.1 .5M299.3 441.8l.1 .5M299.3 437.5l.1 .5M299.3 433.2l.1 .5M299.3 428.9l.2 .5M299.3 424.5l.2 .5M299.3 420.2l.2 .5M299.3 415.9l.2 .5M299.3 411.6l.2 .5M299.3 407.3l.2 .6M299.3 403l.2 .6M299.3 398.7l.2 .6M302.2 476.2l.1 .6M302.2 471.9l.1 .6M302.2 467.6l.1 .6M302.2 463.3l.1 .5M302.2 459l.1 .5M302.2 454.7l.1 .5M302.2 450.4l.1 .5M302.2 446.1l.1 .4M302.2 441.8l.1 .4M302.2 437.5l.1 .4M302.2 433.2l.1 .4M302.2 428.9l.2 .4M302.2 424.5l.2 .5M302.2 420.2l.2 .5M302.2 415.9l.2 .5M302.2 411.6l.2 .5M302.2 407.3l.2 .6M302.2 403l.2 .6M302.2 398.7l.2 .6M305.2 476.2l.1 .6M305.2 471.9l.1 .6M305.2 467.6l.1 .5M305.2 463.3l.1 .5M305.2 459l.1 .5M305.2 454.7l.1 .4M305.2 450.4l.1 .4M305.2 446.1l.1 .4M305.2 441.8l.1 .4M305.2 437.5l.1 .4M305.2 433.2l.1 .4M305.2 428.9l.2 .4M305.2 424.5l.2 .4M305.2 420.2l.2 .4M305.2 415.9l.2 .5M305.2 411.6l.2 .5M305.2 407.3l.2 .5M305.2 403l.2 .6M305.2 398.7l.2 .6M308.1 476.2l.1 .6M308.1 471.9l.1 .5M308.1 467.6l.1 .5M308.1 463.3l.1 .5M308.1 459l.1 .4M308.1 454.7l.1 .4M308.1 450.4l.1 .4M308.1 446.1l.1 .4M308.1 441.8l.1 .3M308.1 437.5l.1 .3M308.1 433.2l.1 .3M308.1 428.9l.2 .4M308.1 424.5l.2 .4M308.1 420.2l.2 .4M308.1 415.9l.2 .4M308.1 411.6l.2 .5M308.1 407.3l.2 .5M308.1 403l.2 .5M308.1 398.7l.2 .6M308.1 394.4l.2 .6M308.1 390.1l.2 .6M308.1 385.8l.2 .6M308.1 381.5l.2 .7M311.1 476.2l.1 .6M311.1 471.9l.1 .5M311.1 467.6l.1 .5M311.1 463.3l.1 .5M311.1 459l.1 .4M311.1 454.7l.1 .4M311.1 450.4l.1 .3M311.1 446.1l.1 .3M311.1 428.9l.2 .3M311.1 424.5l.2 .3M311.1 420.2l.2 .4M311.1 415.9l.2 .4M311.1 411.6l.2 .4M311.1 407.3l.2 .5M311.1 403l.2 .5M311.1 398.7l.2 .6M311.1 394.4l.2 .6M311.1 390.1l.2 .6M311.1 385.8l.2 .6M311.1 381.5l.2 .7M314 476.2l.1 .6M314 471.9l.1 .5M314 467.6l.1 .5M314 463.3l0 .4M314 459l0 .4M314 454.7l.1 .3M314 420.2l.2 .3M314 415.9l.2 .4M314 411.6l.2 .4M314 407.3l.2 .5M314 403l.2 .5M314 398.7l.2 .5M314 394.4l.2 .6M314 390.1l.2 .6M314 385.8l.2 .6M314 381.5l.2 .7M317 476.2l.1 .5M317 471.9l0 .5M317 467.6l0 .4M317 463.3l0 .4M317 459l0 .3M317 415.9l.2 .3M317 411.6l.2 .4M317 407.3l.2 .4M317 403l.2 .5M317 398.7l.2 .5M317 394.4l.2 .6M317 390.1l.2 .6M317 385.8l.2 .6M317 381.5l.2 .6M319.9 476.2l0 .5M319.9 471.9l0 .5M319.9 467.6l0 .4M319.9 463.3l0 .4M319.9 411.6l.3 .3M319.9 407.3l.3 .4M319.9 403l.3 .5M319.9 398.7l.2 .5M319.9 394.4l.2 .6M319.9 390.1l.2 .6M319.9 385.8l.2 .6M319.9 381.5l.2 .6M322.9 476.2l0 .5M322.9 471.9l0 .5M322.9 467.6l0 .4M322.9 407.3l.3 .4M322.9 403l.3 .4M322.9 398.7l.3 .5M322.9 394.4l.2 .5M322.9 390.1l.2 .6M322.9 385.8l.2 .6M322.9 381.5l.2 .6M325.8 476.2l0 .5M325.8 471.9l0 .4M325.8 467.6l0 .4M325.8 407.3l.3 .3M325.8 403l.3 .4M325.8 398.7l.3 .5M325.8 394.4l.3 .5M325.8 390.1l.2 .6M325.8 385.8l.2 .6M325.8 381.5l.2 .6M328.8 476.2l0 .5M328.8 471.9l0 .4M328.8 403l.3 .4M328.8 398.7l.3 .5M328.8 394.4l.3 .5M328.8 390.1l.3 .6M328.8 385.8l.2 .6M328.8 381.5l.2 .6M331.7 476.2l0 .5M331.7 471.9l-.1 .4M331.7 403l.3 .4M331.7 398.7l.3 .4M331.7 394.4l.3 .5M331.7 390.1l.3 .6M331.7 385.8l.2 .6M331.7 381.5l.2 .6M334.6 476.2l-.1 .5M334.6 471.9l-.1 .4M334.6 403l.4 .4M334.6 398.7l.3 .4M334.6 394.4l.3 .5M334.6 390.1l.3 .6M334.6 385.8l.3 .6M334.6 381.5l.2 .6M337.6 476.2l-.1 .4M337.6 398.7l.4 .4M337.6 394.4l.3 .5M337.6 390.1l.3 .5M337.6 385.8l.3 .6M337.6 381.5l.2 .6M340.5 476.2l-.1 .4M340.5 398.7l.4 .4M340.5 394.4l.3 .5M340.5 390.1l.3 .5M340.5 385.8l.3 .6M340.5 381.5l.2 .6M343.5 476.2l-.1 .4M343.5 398.7l.4 .4M343.5 394.4l.4 .5M343.5 390.1l.3 .5M343.5 385.8l.3 .6M343.5 381.5l.3 .6M346.4 394.4l.4 .5M346.4 390.1l.3 .6M346.4 385.8l.3 .6M346.4 381.5l.3 .6M349.4 394.4l.4 .5M349.4 390.1l.4 .6M349.4 385.8l.3 .6M349.4 381.5l.3 .6M352.3 394.4l.4 .5M352.3 390.1l.4 .6M352.3 385.8l.3 .6M352.3 381.5l.3 .6M355.3 394.4l.5 .5M355.3 390.1l.4 .6M355.3 385.8l.3 .6M355.3 381.5l.3 .6M358.2 394.4l.5 .6M358.2 390.1l.4 .6M358.2 385.8l.4 .6M358.2 381.5l.3 .7M361.2 390.1l.4 .6M361.2 385.8l.4 .7M361.2 381.5l.3 .7M364.1 390.1l.5 .7M364.1 385.8l.4 .7M364.1 381.5l.3 .7M367.1 467.6l.3 .9M367.1 390.1l.5 .7M367.1 385.8l.4 .7M367.1 381.5l.3 .7M370 467.6l.2 1M370 390.1l.5 .7M370 385.8l.4 .7M370 381.5l.3 .7M373 467.6l.3 1.1M373 390.1l.4 .7M373 385.8l.4 .7M373 381.5l.3 .7M375.9 390.1l.4 .8M375.9 385.8l.4 .7M375.9 381.5l.3 .7M378.8 394.4l.5 .8M378.8 390.1l.4 .8M378.8 385.8l.3 .8M378.8 381.5l.3 .7M381.8 394.4l.5 .9M381.8 390.1l.4 .8M381.8 385.8l.3 .8M381.8 381.5l.3 .8M384.7 394.4l.4 .9M384.7 390.1l.4 .8M384.7 385.8l.3 .8M384.7 381.5l.3 .8M387.7 394.4l.4 .9M387.7 390.1l.4 .8M387.7 385.8l.3 .8M387.7 381.5l.3 .8M390.6 398.7l.4 1M390.6 394.4l.4 .9M390.6 390.1l.3 .8M390.6 385.8l.3 .8M390.6 381.5l.3 .8M393.6 398.7l.4 1M393.6 394.4l.4 .9M393.6 390.1l.3 .8M393.6 385.8l.3 .8M393.6 381.5l.3 .8M396.5 398.7l.4 1M396.5 394.4l.3 .9M396.5 390.1l.3 .8M396.5 385.8l.3 .8M396.5 381.5l.2 .8M399.5 398.7l.3 1M399.5 394.4l.3 .9M399.5 390.1l.3 .8M399.5 385.8l.3 .8M399.5 381.5l.2 .8M402.4 403l.3 1M402.4 398.7l.3 .9M402.4 394.4l.3 .9M402.4 390.1l.3 .8M402.4 385.8l.2 .8M402.4 381.5l.2 .8M405.4 403l.3 1M405.4 398.7l.3 .9M405.4 394.4l.3 .9M405.4 390.1l.3 .8M405.4 385.8l.2 .8M405.4 381.5l.2 .8M408.3 459l0 1M408.3 407.3l.3 1M408.3 403l.3 1M408.3 398.7l.3 .9M408.3 394.4l.3 .9M408.3 390.1l.2 .8M408.3 385.8l.2 .8M408.3 381.5l.2 .8M411.3 463.3l.5 .8M411.3 459l.1 .6M411.3 454.7l.2 .8M411.3 450.4l.2 1M411.3 407.3l.3 1M411.3 403l.3 1M411.3 398.7l.3 .9M411.3 394.4l.2 .9M411.3 390.1l.2 .8M411.3 385.8l.2 .8M411.3 381.5l.2 .8M414.2 411.6l.3 1.1M414.2 407.3l.3 1M414.2 403l.3 .9M414.2 398.7l.2 .9M414.2 394.4l.2 .8M414.2 390.1l.2 .8M414.2 385.8l.2 .8M414.2 381.5l.2 .8M417.2 415.9l.2 1.1M417.2 411.6l.2 1M417.2 407.3l.2 1M417.2 403l.2 .9M417.2 398.7l.2 .9M417.2 394.4l.2 .8M417.2 390.1l.2 .8M417.2 385.8l.2 .8M417.2 381.5l.2 .8M420.1 471.9l.3 .5M420.1 420.2l.2 1.1M420.1 415.9l.2 1M420.1 411.6l.2 1M420.1 407.3l.2 .9M420.1 403l.2 .9M420.1 398.7l.2 .9M420.1 394.4l.2 .8M420.1 390.1l.2 .8M420.1 385.8l.2 .8M420.1 381.5l.2 .7M423 471.9l.1 .8M423 428.9l.2 1.1M423 424.5l.2 1.1M423 420.2l.2 1M423 415.9l.2 1M423 411.6l.2 1M423 407.3l.2 .9M423 403l.2 .9M423 398.7l.2 .8M423 394.4l.2 .8M423 390.1l.2 .8M423 385.8l.2 .8M423 381.5l.2 .7M426 437.5l.2 1.1M426 433.2l.2 1.1M426 428.9l.2 1M426 424.5l.2 1M426 420.2l.2 1M426 415.9l.2 1M426 411.6l.2 .9M426 407.3l.2 .9M426 403l.2 .9M426 398.7l.2 .8M426 394.4l.2 .8M426 390.1l.2 .8M426 385.8l.2 .8M426 381.5l.2 .7M428.9 437.5l.2 1M428.9 433.2l.2 1M428.9 428.9l.2 1M428.9 424.5l.2 1M428.9 420.2l.2 1M428.9 415.9l.2 .9M428.9 411.6l.2 .9M428.9 407.3l.2 .9M428.9 403l.2 .8M428.9 398.7l.2 .8M428.9 394.4l.2 .8M428.9 390.1l.2 .8M428.9 385.8l.2 .7M428.9 381.5l.2 .7M431.9 441.8l.2 1M431.9 437.5l.1 1M431.9 433.2l.2 1M431.9 428.9l.2 1M431.9 424.5l.2 .9M431.9 420.2l.2 .9M431.9 415.9l.2 .9M431.9 411.6l.2 .9M431.9 407.3l.2 .8M431.9 403l.2 .8M431.9 398.7l.2 .8M431.9 394.4l.2 .8M431.9 390.1l.2 .8M431.9 385.8l.2 .7M431.9 381.5l.2 .7M434.8 450.4l.1 1.1M434.8 446.1l.1 1M434.8 441.8l.1 1M434.8 437.5l.1 .9M434.8 433.2l.2 .9M434.8 428.9l.2 .9M434.8 424.5l.2 .9M434.8 420.2l.2 .9M434.8 415.9l.2 .9M434.8 411.6l.2 .9M434.8 407.3l.2 .8M434.8 403l.2 .8M434.8 398.7l.2 .8M434.8 394.4l.2 .8M434.8 390.1l.2 .7M434.8 385.8l.2 .7M434.8 381.5l.2 .7M437.8 476.2l.1 .8M437.8 471.9l.1 .8M437.8 467.6l.1 .8M437.8 463.3l.1 .9M437.8 459l.1 .9M437.8 454.7l.1 .9M437.8 450.4l.1 .9M437.8 446.1l.1 .9M437.8 441.8l.1 .9M437.8 437.5l.1 .9M437.8 433.2l.2 .9M437.8 428.9l.2 .9M437.8 424.5l.2 .9M437.8 420.2l.2 .9M437.8 415.9l.2 .9M437.8 411.6l.2 .8M437.8 407.3l.2 .8M437.8 403l.2 .8M437.8 398.7l.2 .8M437.8 394.4l.2 .8M437.8 390.1l.2 .7M437.8 385.8l.2 .7M437.8 381.5l.2 .7M440.7 476.2l.1 .8M440.7 471.9l.1 .8M440.7 467.6l.1 .8M440.7 463.3l.1 .8M440.7 459l.1 .8M440.7 454.7l.1 .8M440.7 450.4l.1 .9M440.7 446.1l.1 .9M440.7 441.8l.1 .9M440.7 437.5l.1 .9M440.7 433.2l.2 .9M440.7 428.9l.2 .9M440.7 424.5l.2 .9M440.7 420.2l.2 .8M440.7 415.9l.2 .8M440.7 411.6l.2 .8M440.7 407.3l.2 .8M440.7 403l.2 .8M440.7 398.7l.2 .8M440.7 394.4l.2 .7M440.7 390.1l.2 .7M440.7 385.8l.2 .7M440.7 381.5l.2 .7M443.7 476.2l.1 .8M443.7 471.9l.1 .8M443.7 467.6l.1 .8M443.7 463.3l.1 .8M443.7 459l.1 .8M443.7 454.7l.1 .8M443.7 450.4l.1 .8M443.7 446.1l.1 .8M443.7 441.8l.1 .8M443.7 437.5l.1 .9M443.7 433.2l.2 .9M443.7 428.9l.2 .8M443.7 424.5l.2 .8M443.7 420.2l.2 .8M443.7 415.9l.2 .8M443.7 411.6l.2 .8M443.7 407.3l.2 .8M443.7 403l.2 .8M443.7 398.7l.2 .8M443.7 394.4l.2 .7M443.7 390.1l.2 .7M443.7 385.8l.2 .7M443.7 381.5l.2 .7M446.6 476.2l.1 .7M446.6 471.9l.1 .8M446.6 467.6l.1 .8M446.6 463.3l.1 .8M446.6 459l.1 .8M446.6 454.7l.1 .8M446.6 450.4l.1 .8M446.6 446.1l.1 .8M446.6 441.8l.1 .8M446.6 437.5l.1 .8M446.6 433.2l.2 .8M446.6 428.9l.2 .8M446.6 424.5l.2 .8M446.6 420.2l.2 .8M446.6 415.9l.2 .8M446.6 411.6l.2 .8M446.6 407.3l.2 .8M446.6 403l.2 .8M446.6 398.7l.2 .7M446.6 394.4l.2 .7M446.6 390.1l.2 .7M446.6 385.8l.2 .7M446.6 381.5l.2 .7M449.6 476.2l.1 .7M449.6 471.9l.1 .7M449.6 467.6l.1 .8M449.6 463.3l.1 .8M449.6 459l.1 .8M449.6 454.7l.1 .8M449.6 450.4l.1 .8M449.6 446.1l.1 .8M449.6 441.8l.1 .8M449.6 437.5l.1 .8M449.6 433.2l.2 .8M449.6 428.9l.2 .8M449.6 424.5l.2 .8M449.6 420.2l.2 .8M449.6 415.9l.2 .8M449.6 411.6l.2 .8M449.6 407.3l.2 .8M449.6 403l.2 .7M449.6 398.7l.2 .7M449.6 394.4l.2 .7M449.6 390.1l.2 .7M449.6 385.8l.2 .7M449.6 381.5l.2 .7M452.5 476.2l.1 .7M452.5 471.9l.1 .7M452.5 467.6l.1 .7M452.5 463.3l.1 .8M452.5 459l.1 .8M452.5 454.7l.1 .8M452.5 450.4l.1 .8M452.5 446.1l.1 .8M452.5 441.8l.1 .8M452.5 437.5l.1 .8M452.5 433.2l.2 .8M452.5 428.9l.2 .8M452.5 424.5l.2 .8M452.5 420.2l.2 .8M452.5 415.9l.2 .8M452.5 411.6l.2 .8M452.5 407.3l.2 .7M452.5 403l.2 .7M452.5 398.7l.2 .7M452.5 394.4l.2 .7M452.5 390.1l.2 .7M452.5 385.8l.2 .7M452.5 381.5l.2 .7M455.5 476.2l.1 .7M455.5 471.9l.1 .7M455.5 467.6l.1 .7M455.5 463.3l.1 .7M455.5 459l.1 .8M455.5 454.7l.1 .8M455.5 450.4l.1 .8M455.5 446.1l.1 .8M455.5 441.8l.1 .8M455.5 437.5l.1 .8M455.5 433.2l.2 .8M455.5 428.9l.2 .8M455.5 424.5l.2 .8M455.5 420.2l.2 .8M455.5 415.9l.2 .8M455.5 411.6l.2 .7M455.5 407.3l.2 .7M455.5 403l.2 .7M455.5 398.7l.2 .7M455.5 394.4l.2 .7M455.5 390.1l.2 .7M455.5 385.8l.2 .7M455.5 381.5l.2 .7M458.4 476.2l.1 .7M458.4 471.9l.1 .7M458.4 467.6l.1 .7M458.4 463.3l.1 .7M458.4 459l.1 .7M458.4 454.7l.1 .7M458.4 450.4l.1 .8M458.4 446.1l.1 .8M458.4 441.8l.1 .8M458.4 437.5l.1 .8M458.4 433.2l.1 .8M458.4 428.9l.2 .8M458.4 424.5l.2 .8M458.4 420.2l.2 .8M458.4 415.9l.2 .7M458.4 411.6l.2 .7M458.4 407.3l.2 .7M458.4 403l.2 .7M458.4 398.7l.2 .7M458.4 394.4l.2 .7M458.4 390.1l.2 .7M458.4 385.8l.2 .7M458.4 381.5l.2 .7M461.4 476.2l.1 .7M461.4 471.9l.1 .7M461.4 467.6l.1 .7M461.4 463.3l.1 .7M461.4 459l.1 .7M461.4 454.7l.1 .7M461.4 450.4l.1 .7M461.4 446.1l.1 .7M461.4 441.8l.1 .7M461.4 437.5l.1 .8M461.4 433.2l.1 .7M461.4 428.9l.2 .7M461.4 424.5l.2 .7M461.4 420.2l.2 .7M461.4 415.9l.2 .7M461.4 411.6l.2 .7M461.4 407.3l.2 .7M461.4 403l.2 .7M461.4 398.7l.2 .7M461.4 394.4l.2 .7M461.4 390.1l.2 .7M461.4 385.8l.2 .7M461.4 381.5l.2 .7" stroke="#aaa" stroke-width="0.6" fill="none"/>
<path d="M290.4 394.4l1.3 -.9M290.4 390.1l1.3 -.9M290.4 385.8l1.3 -.9M290.4 381.5l1.3 -.9M293.4 394.4l1.3 -.9M293.4 390.1l1.3 -.9M293.4 385.8l1.3 -.9M293.4 381.5l1.3 -.9M296.3 394.4l1.3 -.9M296.3 390.1l1.3 -.9M296.3 385.8l1.3 -.9M296.3 381.5l1.3 -.9M299.3 394.4l1.3 -.9M299.3 390.1l1.3 -.9M299.3 385.8l1.3 -.9M299.3 381.5l1.3 -.9M302.2 394.4l1.3 -.9M302.2 390.1l1.3 -.9M302.2 385.8l1.3 -.9M302.2 381.5l1.3 -.9M305.2 394.4l1.3 -.9M305.2 390.1l1.3 -.9M305.2 385.8l1.3 -.9M305.2 381.5l1.3 -.9M311.1 441.8l-.1 -1M311.1 437.5l-.1 -1M311.1 433.2l0 -1M314 450.4l-.2 -1M314 446.1l-.2 -1M314 441.8l-.1 -1.1M314 437.5l-.1 -1.1M314 433.2l0 -1.1M314 428.9l.1 -1M314 424.5l.1 -1M317 454.7l-.3 -1M317 450.4l-.2 -1M317 446.1l-.2 -1.1M317 441.8l-.1 -1.1M317 437.5l-.1 -1.1M317 433.2l0 -1.1M317 428.9l.1 -1.1M317 424.5l.1 -1.1M317 420.2l.2 -1M319.9 459l-.3 -1M319.9 454.7l-.3 -1M319.9 450.4l-.3 -1.1M319.9 446.1l-.2 -1.1M319.9 441.8l-.1 -1.2M319.9 437.5l-.1 -1.2M319.9 433.2l0 -1.2M319.9 428.9l.1 -1.1M319.9 424.5l.1 -1.1M319.9 420.2l.2 -1.1M319.9 415.9l.2 -1M322.9 463.3l-.4 -.9M322.9 459l-.4 -1M322.9 454.7l-.3 -1.1M322.9 450.4l-.3 -1.1M322.9 446.1l-.2 -1.2M322.9 441.8l-.2 -1.2M322.9 437.5l-.1 -1.2M322.9 433.2l0 -1.2M322.9 428.9l.1 -1.2M322.9 424.5l.1 -1.2M322.9 420.2l.2 -1.1M322.9 415.9l.3 -1M322.9 411.6l.3 -1M325.8 463.3l-.5 -.9M325.8 459l-.4 -1M325.8 454.7l-.4 -1.1M325.8 450.4l-.3 -1.2M325.8 446.1l-.3 -1.2M325.8 441.8l-.2 -1.3M325.8 437.5l-.1 -1.3M325.8 433.2l0 -1.3M325.8 428.9l.1 -1.3M325.8 424.5l.2 -1.2M325.8 420.2l.2 -1.1M325.8 415.9l.3 -1.1M325.8 411.6l.3 -1M328.8 467.6l-.5 -.9M328.8 463.3l-.5 -1M328.8 459l-.5 -1.1M328.8 454.7l-.4 -1.1M328.8 450.4l-.4 -1.2M328.8 446.1l-.3 -1.3M328.8 441.8l-.2 -1.3M328.8 437.5l-.1 -1.4M328.8 433.2l0 -1.4M328.8 428.9l.1 -1.3M328.8 424.5l.2 -1.3M328.8 420.2l.3 -1.2M328.8 415.9l.3 -1.1M328.8 411.6l.4 -1M328.8 407.3l.4 -.9M331.7 467.6l-.6 -.9M331.7 463.3l-.5 -1M331.7 459l-.5 -1.1M331.7 454.7l-.5 -1.2M331.7 450.4l-.4 -1.3M331.7 446.1l-.3 -1.3M331.7 441.8l-.2 -1.4M331.7 437.5l-.1 -1.4M331.7 433.2l0 -1.4M331.7 428.9l.1 -1.4M331.7 424.5l.2 -1.3M331.7 420.2l.3 -1.2M331.7 415.9l.4 -1.1M331.7 411.6l.4 -1M331.7 407.3l.5 -.9M334.6 467.6l-.6 -.9M334.6 463.3l-.6 -1M334.6 459l-.6 -1.1M334.6 454.7l-.5 -1.2M334.6 450.4l-.5 -1.3M334.6 446.1l-.4 -1.4M334.6 441.8l-.3 -1.5M334.6 437.5l-.1 -1.5M334.6 433.2l0 -1.5M334.6 428.9l.1 -1.4M334.6 424.5l.2 -1.4M334.6 420.2l.3 -1.3M334.6 415.9l.4 -1.2M334.6 411.6l.5 -1.1M334.6 407.3l.5 -1M337.6 471.9l-.7 -.8M337.6 467.6l-.7 -.9M337.6 463.3l-.7 -1M337.6 459l-.6 -1.1M337.6 454.7l-.6 -1.2M337.6 450.4l-.5 -1.4M337.6 446.1l-.4 -1.4M337.6 441.8l-.3 -1.5M337.6 437.5l-.1 -1.5M337.6 433.2l0 -1.5M337.6 428.9l.1 -1.5M337.6 424.5l.3 -1.4M337.6 420.2l.4 -1.3M337.6 415.9l.5 -1.2M337.6 411.6l.5 -1.1M337.6 407.3l.5 -1M337.6 403l.6 -.9M340.5 471.9l-.7 -.8M340.5 467.6l-.7 -.9M340.5 463.3l-.7 -1M340.5 459l-.7 -1.1M340.5 454.7l-.7 -1.3M340.5 450.4l-.6 -1.4M340.5 446.1l-.5 -1.5M340.5 441.8l-.3 -1.6M340.5 437.5l-.2 -1.6M340.5 433.2l0 -1.6M340.5 428.9l.2 -1.5M340.5 424.5l.3 -1.5M340.5 420.2l.4 -1.4M340.5 415.9l.5 -1.2M340.5 411.6l.6 -1.1M340.5 407.3l.6 -1M340.5 403l.6 -.9M343.5 471.9l-.8 -.7M343.5 467.6l-.8 -.9M343.5 463.3l-.8 -1M343.5 459l-.8 -1.1M343.5 454.7l-.7 -1.3M343.5 450.4l-.7 -1.4M343.5 446.1l-.5 -1.5M343.5 441.8l-.4 -1.6M343.5 437.5l-.2 -1.7M343.5 433.2l0 -1.7M343.5 428.9l.2 -1.6M343.5 424.5l.4 -1.5M343.5 420.2l.5 -1.4M343.5 415.9l.6 -1.3M343.5 411.6l.6 -1.1M343.5 407.3l.7 -1M343.5 403l.7 -.8M346.4 476.2l-.8 -.6M346.4 471.9l-.8 -.7M346.4 467.6l-.9 -.8M346.4 463.3l-.9 -1M346.4 459l-.9 -1.1M346.4 454.7l-.8 -1.3M346.4 450.4l-.7 -1.4M346.4 446.1l-.6 -1.6M346.4 424.5l.4 -1.6M346.4 420.2l.6 -1.4M346.4 415.9l.7 -1.3M346.4 411.6l.7 -1.1M346.4 407.3l.7 -.9M346.4 403l.7 -.8M346.4 398.7l.7 -.7M349.4 476.2l-.9 -.6M349.4 471.9l-.9 -.7M349.4 467.6l-.9 -.8M349.4 463.3l-1 -.9M349.4 459l-1 -1.1M349.4 454.7l-.9 -1.2M349.4 450.4l-.9 -1.4M349.4 415.9l.8 -1.3M349.4 411.6l.9 -1.1M349.4 407.3l.8 -.9M349.4 403l.8 -.8M349.4 398.7l.8 -.7M352.3 476.2l-.9 -.5M352.3 471.9l-1 -.6M352.3 467.6l-1 -.7M352.3 463.3l-1.1 -.9M352.3 459l-1.1 -1M352.3 454.7l-1.1 -1.2M352.3 411.6l1.1 -1.2M352.3 407.3l1 -.9M352.3 403l.9 -.7M352.3 398.7l.9 -.6M355.3 476.2l-1 -.4M355.3 471.9l-1 -.5M355.3 467.6l-1.1 -.6M355.3 463.3l-1.2 -.8M355.3 459l-1.2 -1M355.3 407.3l1.3 -.9M355.3 403l1.1 -.7M355.3 398.7l.9 -.5M358.2 476.2l-1 -.4M358.2 471.9l-1.1 -.4M358.2 467.6l-1.2 -.5M358.2 463.3l-1.3 -.7M358.2 459l-1.4 -.9M358.2 403l1.4 -.6M358.2 398.7l1.1 -.4M361.2 476.2l-1 -.3M361.2 471.9l-1.1 -.3M361.2 467.6l-1.2 -.4M361.2 463.3l-1.4 -.6M361.2 398.7l1.2 -.3M361.2 394.4l1 -.3M364.1 476.2l-1.1 -.2M364.1 471.9l-1.2 -.2M364.1 467.6l-1.3 -.3M364.1 463.3l-1.5 -.4M364.1 398.7l1.4 -.2M364.1 394.4l1.1 -.1M367.1 471.9l1.2 .4M367.1 463.3l-1.2 .2M367.1 398.7l1.5 .1M367.1 394.4l1.1 0M370 471.9l1.2 .5M370 463.3l-1.1 .5M370 433.2l-1 1.1M370 398.7l1.5 .3M370 394.4l1.1 .1M373 471.9l1.2 .6M373 463.3l-1 .8M373 398.7l1.4 .4M373 394.4l1 .2M375.9 471.9l1.2 .7M375.9 467.6l.4 1M375.9 463.3l-.8 1M375.9 398.7l1.2 .5M375.9 394.4l1 .3M378.8 471.9l1.2 .8M378.8 467.6l.5 1.1M378.8 463.3l-.6 1.1M378.8 403l1.3 .9M378.8 398.7l1 .5M381.8 471.9l1.2 .8M381.8 467.6l.5 1.1M381.8 463.3l-.4 1.2M381.8 459l-1.3 .9M381.8 407.3l1.2 1.2M381.8 403l1 .8M381.8 398.7l.9 .6M384.7 471.9l1.3 .9M384.7 467.6l.6 1.1M384.7 463.3l-.2 1.3M384.7 459l-1.1 1M384.7 454.7l-1.1 1.2M384.7 411.6l1 1.3M384.7 407.3l.9 1M384.7 403l.9 .7M384.7 398.7l.9 .6M387.7 471.9l1.3 .9M387.7 467.6l.7 1.1M387.7 463.3l-.1 1.3M387.7 459l-1 1M387.7 454.7l-.9 1.2M387.7 450.4l-.9 1.4M387.7 415.9l.7 1.4M387.7 411.6l.8 1.1M387.7 407.3l.8 .9M387.7 403l.8 .8M387.7 398.7l.8 .6M390.6 471.9l1.4 .9M390.6 467.6l.8 1.1M390.6 463.3l0 1.3M390.6 459l-.9 1.1M390.6 454.7l-.8 1.2M390.6 450.4l-.7 1.4M390.6 446.1l-.6 1.5M390.6 441.8l-.5 1.6M390.6 428.9l.2 1.7M390.6 424.5l.4 1.6M390.6 420.2l.5 1.4M390.6 415.9l.7 1.2M390.6 411.6l.7 1.1M390.6 407.3l.7 .9M390.6 403l.7 .8M393.6 471.9l1.4 .9M393.6 467.6l.8 1.1M393.6 463.3l.1 1.3M393.6 459l-.8 1.1M393.6 454.7l-.7 1.2M393.6 450.4l-.6 1.4M393.6 446.1l-.5 1.5M393.6 441.8l-.4 1.6M393.6 437.5l-.2 1.6M393.6 433.2l0 1.6M393.6 428.9l.2 1.6M393.6 424.5l.3 1.5M393.6 420.2l.5 1.3M393.6 415.9l.6 1.2M393.6 411.6l.6 1.1M393.6 407.3l.7 .9M393.6 403l.7 .8M396.5 471.9l1.5 .9M396.5 467.6l.9 1.1M396.5 463.3l.2 1.3M396.5 459l-.7 1.1M396.5 454.7l-.6 1.2M396.5 450.4l-.6 1.3M396.5 446.1l-.5 1.4M396.5 441.8l-.3 1.5M396.5 437.5l-.2 1.5M396.5 433.2l0 1.5M396.5 428.9l.2 1.5M396.5 424.5l.3 1.4M396.5 420.2l.4 1.3M396.5 415.9l.5 1.2M396.5 411.6l.6 1.1M396.5 407.3l.6 .9M396.5 403l.6 .8M399.5 467.6l.9 1.1M399.5 463.3l.3 1.3M399.5 459l-.6 1.1M399.5 454.7l-.6 1.2M399.5 450.4l-.5 1.3M399.5 446.1l-.4 1.4M399.5 441.8l-.3 1.4M399.5 437.5l-.1 1.5M399.5 433.2l0 1.5M399.5 428.9l.1 1.4M399.5 424.5l.3 1.4M399.5 420.2l.4 1.3M399.5 415.9l.4 1.2M399.5 411.6l.5 1.1M399.5 407.3l.5 .9M399.5 403l.6 .8M402.4 467.6l1 1M402.4 463.3l.3 1.3M402.4 459l-.6 1.1M402.4 454.7l-.5 1.2M402.4 450.4l-.4 1.3M402.4 446.1l-.4 1.3M402.4 441.8l-.2 1.4M402.4 437.5l-.1 1.4M402.4 433.2l0 1.4M402.4 428.9l.1 1.4M402.4 424.5l.2 1.3M402.4 420.2l.3 1.2M402.4 415.9l.4 1.1M402.4 411.6l.5 1M402.4 407.3l.5 .9M405.4 467.6l1.1 1M405.4 463.3l.4 1.2M405.4 459l-.5 1M405.4 454.7l-.5 1.1M405.4 450.4l-.4 1.2M405.4 446.1l-.3 1.3M405.4 441.8l-.2 1.3M405.4 437.5l-.1 1.4M405.4 433.2l0 1.4M405.4 428.9l.1 1.3M405.4 424.5l.2 1.3M405.4 420.2l.3 1.2M405.4 415.9l.4 1.1M405.4 411.6l.4 1M405.4 407.3l.4 .9M408.3 467.6l1.1 .9M408.3 463.3l.5 1.1M408.3 454.7l-.3 1M408.3 450.4l-.3 1.1M408.3 446.1l-.3 1.2M408.3 441.8l-.2 1.3M408.3 437.5l-.1 1.3M408.3 433.2l0 1.3M408.3 428.9l.1 1.3M408.3 424.5l.2 1.2M408.3 420.2l.3 1.1M408.3 415.9l.3 1.1M408.3 411.6l.4 1M411.3 467.6l1.2 .5M411.3 446.1l-.1 1.1M411.3 441.8l-.1 1.2M411.3 437.5l-.1 1.2M411.3 433.2l0 1.2M411.3 428.9l.1 1.2M411.3 424.5l.2 1.2M411.3 420.2l.2 1.1M411.3 415.9l.3 1M411.3 411.6l.3 1M414.2 471.9l1.5 .2M414.2 467.6l.9 -.6M414.2 463.3l.5 -1.3M414.2 459l.4 -1.6M414.2 454.7l1.1 -1M414.2 450.4l1.2 -.1M414.2 446.1l.6 .9M414.2 441.8l.1 1.1M414.2 437.5l0 1.2M414.2 433.2l0 1.2M414.2 428.9l.1 1.1M414.2 424.5l.1 1.1M414.2 420.2l.2 1.1M414.2 415.9l.3 1M417.2 471.9l1.1 -.3M417.2 467.6l-.1 -1.4M417.2 446.1l1.3 .5M417.2 441.8l.4 1M417.2 437.5l0 1.1M417.2 433.2l0 1.1M417.2 428.9l.1 1.1M417.2 424.5l.1 1.1M417.2 420.2l.2 1M420.1 467.6l-1.2 -1.1M420.1 463.3l-.8 -1.1M420.1 459l.3 -1.1M420.1 441.8l.7 1M420.1 437.5l.1 1.1M420.1 433.2l0 1.1M420.1 428.9l.1 1M420.1 424.5l.1 1M423 463.3l-1.3 .6M423 459l-.3 1.1M423 441.8l.7 1.1M423 437.5l.1 1M423 433.2l0 1M426 471.9l.2 1.1M426 441.8l.5 1.1M428.9 471.9l1 1M428.9 446.1l.6 1.4M428.9 441.8l.2 1M431.9 471.9l1.5 .8M431.9 467.6l.6 1.3M431.9 450.4l.2 1.4M431.9 446.1l.2 1.1M434.8 467.6l1.2 .8M434.8 463.3l.5 1.2M434.8 459l-.3 1.1M434.8 454.7l-.1 1.1" stroke="#444" stroke-width="1" fill="none"/>
</g>
<path d="M287.5 480.5v3.5M293.4 480.5v2M299.3 480.5v2M305.2 480.5v2M311.1 480.5v2M317 480.5v3.5M322.9 480.5v2M328.8 480.5v2M334.6 480.5v2M340.5 480.5v2M346.4 480.5v3.5M352.3 480.5v2M358.2 480.5v2M364.1 480.5v2M370 480.5v2M375.9 480.5v3.5M381.8 480.5v2M387.7 480.5v2M393.6 480.5v2M399.5 480.5v2M405.4 480.5v3.5M411.3 480.5v2M417.2 480.5v2M423 480.5v2M428.9 480.5v2M434.8 480.5v3.5M440.7 480.5v2M446.6 480.5v2M452.5 480.5v2M458.4 480.5v2M464.3 480.5v3.5M287.5 480.5h-3.5M287.5 476.2h-2M287.5 471.9h-2M287.5 467.6h-2M287.5 463.3h-3.5M287.5 459h-2M287.5 454.7h-2M287.5 450.4h-2M287.5 446.1h-3.5M287.5 441.8h-2M287.5 437.5h-2M287.5 433.2h-2M287.5 428.9h-3.5M287.5 424.5h-2M287.5 420.2h-2M287.5 415.9h-2M287.5 411.6h-3.5M287.5 407.3h-2M287.5 403h-2M287.5 398.7h-2M287.5 394.4h-3.5M287.5 390.1h-2M287.5 385.8h-2M287.5 381.5h-2M287.5 377.2h-3.5" stroke="#333" stroke-width="0.7" fill="none"/>
<rect x="287.5" y="377.2" width="176.8" height="103.3" fill="none" stroke="#333" stroke-width="1"/>
<text x="287.5" y="491.7" text-anchor="middle" class="tk">0</text>
<text x="317" y="491.7" text-anchor="middle" class="tk">5</text>
<text x="346.4" y="491.7" text-anchor="middle" class="tk">10</text>
<text x="375.9" y="491.7" text-anchor="middle" class="tk">15</text>
<text x="405.4" y="491.7" text-anchor="middle" class="tk">20</text>
<text x="434.8" y="491.7" text-anchor="middle" class="tk">25</text>
<text x="464.3" y="491.7" text-anchor="middle" class="tk">30</text>
<text x="282.5" y="483.2" text-anchor="end" class="tk">0</text>
<text x="282.5" y="466" text-anchor="end" class="tk">2</text>
<text x="282.5" y="448.8" text-anchor="end" class="tk">4</text>
<text x="282.5" y="431.6" text-anchor="end" class="tk">6</text>
<text x="282.5" y="414.3" text-anchor="end" class="tk">8</text>
<text x="282.5" y="397.1" text-anchor="end" class="tk">10</text>
<text x="282.5" y="379.9" text-anchor="end" class="tk">12</text>
<text x="292" y="392.8" class="lt">(h)</text>
<text x="359.8" y="394.8" class="pt">t = 1.2 s</text>
<text x="420.8" y="397.5" class="pt">0.2 m/s</text>
<path d="M431.9 385.4h5.5" stroke="#222" stroke-width="0.75"/><path d="M438.4 385.4l-1.6 -.75v1.5z" fill="#222"/>
<rect x="227.3" y="377.2" width="5.4" height="103.3" fill="url(#cbs)" stroke="#333" stroke-width="0.6"/>
<text x="237.3" y="482.7" class="cb">0</text>
<text x="237.3" y="431.1" class="cb">200</text>
<text x="237.3" y="379.4" class="cb">400(Pa)</text>
<path d="M232.7 480.5h2M232.7 428.9h2M232.7 377.2h2" stroke="#333" stroke-width="0.6"/>
<rect x="475.5" y="377.2" width="5.4" height="103.3" fill="url(#cbd)" stroke="#333" stroke-width="0.6"/>
<text x="485.5" y="482.7" class="cb">-300</text>
<text x="485.5" y="456.9" class="cb">-150</text>
<text x="485.5" y="431.1" class="cb">0</text>
<text x="485.5" y="405.2" class="cb">150</text>
<text x="485.5" y="379.4" class="cb">300 (Pa)</text>
<path d="M480.9 480.5h2M480.9 454.7h2M480.9 428.9h2M480.9 403h2M480.9 377.2h2" stroke="#333" stroke-width="0.6"/>
<text x="9.8" y="415" text-anchor="middle" class="al">x<tspan class="sub" dy="1.8">2</tspan></text>
<text x="11" y="425.7" text-anchor="middle" class="al">(cm)</text>
<text x="260.8" y="433.8" class="cl">p<tspan class="sub2" dy="1.3">s</tspan></text>
<text x="510.4" y="433.8" class="cl">p<tspan class="sub2" dy="1.3">d</tspan></text>
<text x="128.8" y="503.2" text-anchor="middle" class="al">x<tspan class="sub" dy="1.8">1</tspan><tspan dy="-1.8"> (cm)</tspan></text>
<text x="376.8" y="503.2" text-anchor="middle" class="al">x<tspan class="sub" dy="1.8">1</tspan><tspan dy="-1.8"> (cm)</tspan></text>
</svg></body></html>
